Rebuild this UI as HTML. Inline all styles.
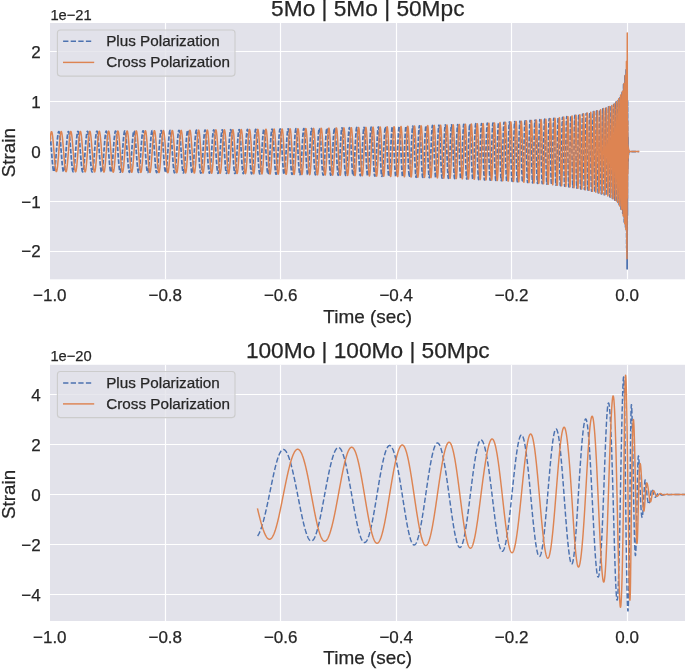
<!DOCTYPE html>
<html lang="en"><head><meta charset="utf-8"><title>Gravitational waveforms</title>
<style>html,body{margin:0;padding:0;background:#fff;}body{width:685px;height:669px;overflow:hidden;}</style></head>
<body>
<svg width="685" height="669" viewBox="0 0 685 669" style="display:block">
<rect width="685" height="669" fill="#ffffff"/>
<defs>
<clipPath id="c1"><rect x="50.0" y="23.0" width="635.0" height="256.3"/></clipPath>
<clipPath id="c2"><rect x="50.0" y="364.8" width="635.0" height="256.2"/></clipPath>
</defs>
<rect x="50.0" y="23.0" width="635.0" height="256.3" fill="#e2e2ea"/>
<path d="M165.50,23.0 V279.3 M280.50,23.0 V279.3 M396.50,23.0 V279.3 M511.50,23.0 V279.3 M627.50,23.0 V279.3 M50.0,251.50 H685.0 M50.0,201.50 H685.0 M50.0,151.50 H685.0 M50.0,101.50 H685.0 M50.0,51.50 H685.0" stroke="#ffffff" stroke-width="1.2" fill="none" clip-path="url(#c1)"/>
<g clip-path="url(#c1)" fill="none" stroke-linejoin="round">
<path d="M50.00,134.83 L50.14,135.89 L50.28,137.07 L50.42,138.37 L50.56,139.79 L50.70,141.30 L50.85,142.90 L50.99,144.57 L51.13,146.30 L51.27,148.08 L51.41,149.88 L51.55,151.70 L51.69,153.52 L51.83,155.33 L51.97,157.10 L52.11,158.83 L52.25,160.49 L52.40,162.09 L52.54,163.59 L52.68,165.00 L52.82,166.30 L52.96,167.47 L53.10,168.51 L53.24,169.41 L53.38,170.16 L53.52,170.75 L53.66,171.19 L53.81,171.46 L53.95,171.57 L54.09,171.51 L54.23,171.28 L54.37,170.89 L54.51,170.33 L54.65,169.62 L54.79,168.76 L54.93,167.76 L55.07,166.62 L55.21,165.35 L55.36,163.97 L55.50,162.48 L55.64,160.90 L55.78,159.25 L55.92,157.53 L56.06,155.75 L56.20,153.95 L56.34,152.12 L56.48,150.29 L56.62,148.47 L56.76,146.68 L56.91,144.92 L57.05,143.23 L57.19,141.60 L57.33,140.05 L57.47,138.61 L57.61,137.27 L57.75,136.05 L57.89,134.96 L58.03,134.01 L58.17,133.21 L58.32,132.57 L58.46,132.08 L58.60,131.76 L58.74,131.60 L58.88,131.62 L59.02,131.80 L59.16,132.14 L59.30,132.66 L59.44,133.33 L59.58,134.15 L59.72,135.13 L59.87,136.24 L60.01,137.48 L60.15,138.84 L60.29,140.31 L60.43,141.87 L60.57,143.52 L60.71,145.24 L60.85,147.01 L60.99,148.81 L61.13,150.65 L61.27,152.49 L61.42,154.32 L61.56,156.13 L61.70,157.91 L61.84,159.63 L61.98,161.28 L62.12,162.85 L62.26,164.33 L62.40,165.70 L62.54,166.95 L62.68,168.07 L62.83,169.05 L62.97,169.88 L63.11,170.56 L63.25,171.08 L63.39,171.44 L63.53,171.62 L63.67,171.64 L63.81,171.49 L63.95,171.17 L64.09,170.68 L64.23,170.03 L64.38,169.23 L64.52,168.27 L64.66,167.18 L64.80,165.95 L64.94,164.60 L65.08,163.13 L65.22,161.57 L65.36,159.93 L65.50,158.21 L65.64,156.44 L65.78,154.63 L65.93,152.79 L66.07,150.94 L66.21,149.09 L66.35,147.27 L66.49,145.48 L66.63,143.74 L66.77,142.07 L66.91,140.49 L67.05,138.99 L67.19,137.60 L67.34,136.33 L67.48,135.19 L67.62,134.19 L67.76,133.34 L67.90,132.65 L68.04,132.11 L68.18,131.74 L68.32,131.54 L68.46,131.51 L68.60,131.65 L68.74,131.97 L68.89,132.45 L69.03,133.09 L69.17,133.89 L69.31,134.84 L69.45,135.94 L69.59,137.17 L69.73,138.52 L69.87,139.99 L70.01,141.55 L70.15,143.20 L70.29,144.93 L70.44,146.71 L70.58,148.53 L70.72,150.38 L70.86,152.24 L71.00,154.09 L71.14,155.93 L71.28,157.73 L71.42,159.47 L71.56,161.15 L71.70,162.75 L71.85,164.25 L71.99,165.64 L72.13,166.92 L72.27,168.06 L72.41,169.06 L72.55,169.92 L72.69,170.61 L72.83,171.15 L72.97,171.51 L73.11,171.71 L73.25,171.73 L73.40,171.58 L73.54,171.26 L73.68,170.77 L73.82,170.11 L73.96,169.30 L74.10,168.33 L74.24,167.22 L74.38,165.98 L74.52,164.61 L74.66,163.13 L74.80,161.55 L74.95,159.88 L75.09,158.14 L75.23,156.35 L75.37,154.51 L75.51,152.65 L75.65,150.78 L75.79,148.92 L75.93,147.08 L76.07,145.27 L76.21,143.52 L76.35,141.85 L76.50,140.25 L76.64,138.75 L76.78,137.36 L76.92,136.10 L77.06,134.97 L77.20,133.98 L77.34,133.14 L77.48,132.46 L77.62,131.95 L77.76,131.61 L77.91,131.44 L78.05,131.44 L78.19,131.62 L78.33,131.97 L78.47,132.49 L78.61,133.17 L78.75,134.02 L78.89,135.01 L79.03,136.15 L79.17,137.43 L79.31,138.82 L79.46,140.33 L79.60,141.94 L79.74,143.63 L79.88,145.39 L80.02,147.20 L80.16,149.05 L80.30,150.93 L80.44,152.81 L80.58,154.68 L80.72,156.52 L80.86,158.32 L81.01,160.07 L81.15,161.74 L81.29,163.32 L81.43,164.81 L81.57,166.17 L81.71,167.42 L81.85,168.52 L81.99,169.48 L82.13,170.28 L82.27,170.92 L82.42,171.40 L82.56,171.70 L82.70,171.82 L82.84,171.78 L82.98,171.55 L83.12,171.15 L83.26,170.59 L83.40,169.85 L83.54,168.96 L83.68,167.92 L83.82,166.73 L83.97,165.41 L84.11,163.97 L84.25,162.43 L84.39,160.79 L84.53,159.07 L84.67,157.28 L84.81,155.44 L84.95,153.57 L85.09,151.68 L85.23,149.79 L85.37,147.92 L85.52,146.08 L85.66,144.28 L85.80,142.55 L85.94,140.90 L86.08,139.34 L86.22,137.89 L86.36,136.55 L86.50,135.35 L86.64,134.29 L86.78,133.38 L86.93,132.63 L87.07,132.04 L87.21,131.63 L87.35,131.39 L87.49,131.33 L87.63,131.44 L87.77,131.73 L87.91,132.20 L88.05,132.84 L88.19,133.63 L88.33,134.59 L88.48,135.70 L88.62,136.94 L88.76,138.32 L88.90,139.81 L89.04,141.41 L89.18,143.09 L89.32,144.85 L89.46,146.67 L89.60,148.53 L89.74,150.42 L89.88,152.32 L90.03,154.22 L90.17,156.09 L90.31,157.93 L90.45,159.70 L90.59,161.41 L90.73,163.03 L90.87,164.56 L91.01,165.96 L91.15,167.25 L91.29,168.39 L91.44,169.39 L91.58,170.23 L91.72,170.91 L91.86,171.42 L92.00,171.75 L92.14,171.91 L92.28,171.88 L92.42,171.68 L92.56,171.30 L92.70,170.75 L92.84,170.03 L92.99,169.15 L93.13,168.11 L93.27,166.92 L93.41,165.60 L93.55,164.16 L93.69,162.60 L93.83,160.95 L93.97,159.22 L94.11,157.41 L94.25,155.56 L94.39,153.67 L94.54,151.76 L94.68,149.85 L94.82,147.95 L94.96,146.09 L95.10,144.28 L95.24,142.52 L95.38,140.85 L95.52,139.28 L95.66,137.81 L95.80,136.46 L95.95,135.25 L96.09,134.18 L96.23,133.27 L96.37,132.52 L96.51,131.93 L96.65,131.52 L96.79,131.29 L96.93,131.24 L97.07,131.37 L97.21,131.68 L97.35,132.17 L97.50,132.82 L97.64,133.65 L97.78,134.63 L97.92,135.77 L98.06,137.04 L98.20,138.45 L98.34,139.97 L98.48,141.60 L98.62,143.31 L98.76,145.10 L98.90,146.95 L99.05,148.84 L99.19,150.76 L99.33,152.68 L99.47,154.59 L99.61,156.48 L99.75,158.32 L99.89,160.11 L100.03,161.82 L100.17,163.44 L100.31,164.95 L100.45,166.35 L100.60,167.61 L100.74,168.73 L100.88,169.70 L101.02,170.51 L101.16,171.15 L101.30,171.61 L101.44,171.90 L101.58,172.01 L101.72,171.93 L101.86,171.67 L102.01,171.24 L102.15,170.62 L102.29,169.84 L102.43,168.90 L102.57,167.80 L102.71,166.55 L102.85,165.17 L102.99,163.67 L103.13,162.06 L103.27,160.36 L103.41,158.58 L103.56,156.73 L103.70,154.84 L103.84,152.92 L103.98,150.99 L104.12,149.06 L104.26,147.15 L104.40,145.29 L104.54,143.48 L104.68,141.74 L104.82,140.09 L104.96,138.54 L105.11,137.11 L105.25,135.81 L105.39,134.65 L105.53,133.65 L105.67,132.80 L105.81,132.12 L105.95,131.62 L106.09,131.29 L106.23,131.15 L106.37,131.20 L106.52,131.42 L106.66,131.83 L106.80,132.41 L106.94,133.17 L107.08,134.09 L107.22,135.18 L107.36,136.40 L107.50,137.77 L107.64,139.26 L107.78,140.86 L107.92,142.56 L108.07,144.35 L108.21,146.19 L108.35,148.09 L108.49,150.02 L108.63,151.96 L108.77,153.90 L108.91,155.82 L109.05,157.70 L109.19,159.53 L109.33,161.29 L109.47,162.96 L109.62,164.52 L109.76,165.98 L109.90,167.30 L110.04,168.48 L110.18,169.51 L110.32,170.37 L110.46,171.07 L110.60,171.59 L110.74,171.93 L110.88,172.09 L111.03,172.06 L111.17,171.85 L111.31,171.45 L111.45,170.87 L111.59,170.12 L111.73,169.20 L111.87,168.12 L112.01,166.90 L112.15,165.53 L112.29,164.03 L112.43,162.43 L112.58,160.72 L112.72,158.93 L112.86,157.08 L113.00,155.17 L113.14,153.23 L113.28,151.28 L113.42,149.33 L113.56,147.40 L113.70,145.50 L113.84,143.66 L113.98,141.90 L114.13,140.22 L114.27,138.64 L114.41,137.18 L114.55,135.85 L114.69,134.67 L114.83,133.64 L114.97,132.77 L115.11,132.07 L115.25,131.55 L115.39,131.22 L115.54,131.06 L115.68,131.10 L115.82,131.32 L115.96,131.73 L116.10,132.32 L116.24,133.08 L116.38,134.01 L116.52,135.10 L116.66,136.35 L116.80,137.73 L116.94,139.24 L117.09,140.87 L117.23,142.59 L117.37,144.39 L117.51,146.26 L117.65,148.18 L117.79,150.14 L117.93,152.10 L118.07,154.06 L118.21,156.00 L118.35,157.90 L118.49,159.74 L118.64,161.51 L118.78,163.19 L118.92,164.76 L119.06,166.21 L119.20,167.53 L119.34,168.71 L119.48,169.72 L119.62,170.58 L119.76,171.25 L119.90,171.75 L120.05,172.06 L120.19,172.19 L120.33,172.13 L120.47,171.88 L120.61,171.44 L120.75,170.82 L120.89,170.02 L121.03,169.06 L121.17,167.93 L121.31,166.66 L121.45,165.24 L121.60,163.70 L121.74,162.05 L121.88,160.30 L122.02,158.47 L122.16,156.58 L122.30,154.64 L122.44,152.67 L122.58,150.70 L122.72,148.73 L122.86,146.78 L123.00,144.88 L123.15,143.05 L123.29,141.29 L123.43,139.62 L123.57,138.06 L123.71,136.63 L123.85,135.34 L123.99,134.20 L124.13,133.21 L124.27,132.40 L124.41,131.76 L124.55,131.31 L124.70,131.04 L124.84,130.96 L124.98,131.07 L125.12,131.38 L125.26,131.87 L125.40,132.54 L125.54,133.39 L125.68,134.40 L125.82,135.58 L125.96,136.90 L126.11,138.36 L126.25,139.95 L126.39,141.64 L126.53,143.42 L126.67,145.28 L126.81,147.20 L126.95,149.16 L127.09,151.15 L127.23,153.13 L127.37,155.11 L127.51,157.05 L127.66,158.94 L127.80,160.77 L127.94,162.51 L128.08,164.15 L128.22,165.67 L128.36,167.06 L128.50,168.31 L128.64,169.41 L128.78,170.34 L128.92,171.10 L129.06,171.67 L129.21,172.06 L129.35,172.26 L129.49,172.27 L129.63,172.08 L129.77,171.71 L129.91,171.14 L130.05,170.40 L130.19,169.48 L130.33,168.39 L130.47,167.15 L130.62,165.76 L130.76,164.24 L130.90,162.60 L131.04,160.86 L131.18,159.03 L131.32,157.14 L131.46,155.19 L131.60,153.20 L131.74,151.20 L131.88,149.21 L132.02,147.23 L132.17,145.30 L132.31,143.42 L132.45,141.62 L132.59,139.92 L132.73,138.32 L132.87,136.84 L133.01,135.51 L133.15,134.32 L133.29,133.29 L133.43,132.44 L133.57,131.76 L133.72,131.27 L133.86,130.97 L134.00,130.87 L134.14,130.95 L134.28,131.23 L134.42,131.70 L134.56,132.36 L134.70,133.20 L134.84,134.21 L134.98,135.38 L135.13,136.71 L135.27,138.17 L135.41,139.77 L135.55,141.47 L135.69,143.27 L135.83,145.15 L135.97,147.09 L136.11,149.07 L136.25,151.07 L136.39,153.08 L136.53,155.08 L136.68,157.05 L136.82,158.96 L136.96,160.81 L137.10,162.57 L137.24,164.23 L137.38,165.77 L137.52,167.17 L137.66,168.43 L137.80,169.53 L137.94,170.47 L138.08,171.22 L138.23,171.79 L138.37,172.18 L138.51,172.36 L138.65,172.35 L138.79,172.15 L138.93,171.75 L139.07,171.16 L139.21,170.39 L139.35,169.44 L139.49,168.32 L139.64,167.05 L139.78,165.62 L139.92,164.07 L140.06,162.39 L140.20,160.62 L140.34,158.75 L140.48,156.82 L140.62,154.84 L140.76,152.83 L140.90,150.81 L141.04,148.79 L141.19,146.80 L141.33,144.86 L141.47,142.98 L141.61,141.17 L141.75,139.47 L141.89,137.88 L142.03,136.42 L142.17,135.11 L142.31,133.95 L142.45,132.96 L142.59,132.14 L142.74,131.51 L142.88,131.07 L143.02,130.82 L143.16,130.77 L143.30,130.92 L143.44,131.27 L143.58,131.81 L143.72,132.53 L143.86,133.44 L144.00,134.52 L144.15,135.76 L144.29,137.16 L144.43,138.69 L144.57,140.34 L144.71,142.11 L144.85,143.96 L144.99,145.89 L145.13,147.87 L145.27,149.88 L145.41,151.92 L145.55,153.95 L145.70,155.96 L145.84,157.93 L145.98,159.84 L146.12,161.67 L146.26,163.40 L146.40,165.03 L146.54,166.52 L146.68,167.88 L146.82,169.07 L146.96,170.11 L147.10,170.96 L147.25,171.63 L147.39,172.11 L147.53,172.40 L147.67,172.48 L147.81,172.37 L147.95,172.05 L148.09,171.54 L148.23,170.84 L148.37,169.96 L148.51,168.90 L148.66,167.67 L148.80,166.29 L148.94,164.77 L149.08,163.12 L149.22,161.37 L149.36,159.51 L149.50,157.58 L149.64,155.60 L149.78,153.57 L149.92,151.53 L150.06,149.48 L150.21,147.46 L150.35,145.47 L150.49,143.54 L150.63,141.69 L150.77,139.94 L150.91,138.29 L151.05,136.78 L151.19,135.40 L151.33,134.18 L151.47,133.13 L151.61,132.25 L151.76,131.56 L151.90,131.07 L152.04,130.77 L152.18,130.67 L152.32,130.77 L152.46,131.08 L152.60,131.58 L152.74,132.27 L152.88,133.15 L153.02,134.21 L153.16,135.44 L153.31,136.82 L153.45,138.35 L153.59,140.00 L153.73,141.77 L153.87,143.63 L154.01,145.57 L154.15,147.56 L154.29,149.60 L154.43,151.66 L154.57,153.72 L154.72,155.75 L154.86,157.75 L155.00,159.69 L155.14,161.55 L155.28,163.32 L155.42,164.97 L155.56,166.49 L155.70,167.87 L155.84,169.09 L155.98,170.15 L156.12,171.02 L156.27,171.71 L156.41,172.20 L156.55,172.49 L156.69,172.58 L156.83,172.47 L156.97,172.15 L157.11,171.63 L157.25,170.92 L157.39,170.03 L157.53,168.95 L157.67,167.70 L157.82,166.30 L157.96,164.75 L158.10,163.08 L158.24,161.29 L158.38,159.41 L158.52,157.46 L158.66,155.44 L158.80,153.39 L158.94,151.32 L159.08,149.25 L159.23,147.21 L159.37,145.20 L159.51,143.26 L159.65,141.40 L159.79,139.64 L159.93,137.99 L160.07,136.48 L160.21,135.11 L160.35,133.90 L160.49,132.87 L160.63,132.02 L160.78,131.36 L160.92,130.89 L161.06,130.63 L161.20,130.58 L161.34,130.72 L161.48,131.08 L161.62,131.63 L161.76,132.38 L161.90,133.31 L162.04,134.43 L162.18,135.71 L162.33,137.15 L162.47,138.74 L162.61,140.44 L162.75,142.26 L162.89,144.17 L163.03,146.15 L163.17,148.19 L163.31,150.26 L163.45,152.34 L163.59,154.42 L163.74,156.47 L163.88,158.47 L164.02,160.41 L164.16,162.26 L164.30,164.01 L164.44,165.63 L164.58,167.12 L164.72,168.45 L164.86,169.62 L165.00,170.62 L165.14,171.42 L165.29,172.04 L165.43,172.45 L165.57,172.66 L165.71,172.65 L165.85,172.45 L165.99,172.03 L166.13,171.42 L166.27,170.61 L166.41,169.61 L166.55,168.44 L166.69,167.10 L166.84,165.61 L166.98,163.97 L167.12,162.22 L167.26,160.36 L167.40,158.41 L167.54,156.40 L167.68,154.34 L167.82,152.25 L167.96,150.15 L168.10,148.07 L168.25,146.02 L168.39,144.02 L168.53,142.10 L168.67,140.28 L168.81,138.56 L168.95,136.98 L169.09,135.53 L169.23,134.25 L169.37,133.14 L169.51,132.21 L169.65,131.47 L169.80,130.93 L169.94,130.60 L170.08,130.47 L170.22,130.55 L170.36,130.84 L170.50,131.34 L170.64,132.04 L170.78,132.93 L170.92,134.01 L171.06,135.26 L171.20,136.68 L171.35,138.24 L171.49,139.94 L171.63,141.75 L171.77,143.66 L171.91,145.65 L172.05,147.70 L172.19,149.79 L172.33,151.90 L172.47,154.01 L172.61,156.09 L172.76,158.13 L172.90,160.10 L173.04,161.99 L173.18,163.78 L173.32,165.44 L173.46,166.97 L173.60,168.35 L173.74,169.56 L173.88,170.59 L174.02,171.43 L174.16,172.07 L174.31,172.51 L174.45,172.75 L174.59,172.77 L174.73,172.58 L174.87,172.18 L175.01,171.57 L175.15,170.76 L175.29,169.77 L175.43,168.59 L175.57,167.24 L175.71,165.73 L175.86,164.08 L176.00,162.31 L176.14,160.43 L176.28,158.46 L176.42,156.42 L176.56,154.34 L176.70,152.22 L176.84,150.10 L176.98,147.99 L177.12,145.92 L177.26,143.90 L177.41,141.96 L177.55,140.12 L177.69,138.39 L177.83,136.79 L177.97,135.35 L178.11,134.06 L178.25,132.95 L178.39,132.03 L178.53,131.30 L178.67,130.78 L178.82,130.47 L178.96,130.36 L179.10,130.48 L179.24,130.80 L179.38,131.34 L179.52,132.07 L179.66,133.01 L179.80,134.13 L179.94,135.43 L180.08,136.89 L180.22,138.50 L180.37,140.24 L180.51,142.10 L180.65,144.06 L180.79,146.09 L180.93,148.17 L181.07,150.30 L181.21,152.43 L181.35,154.56 L181.49,156.66 L181.63,158.71 L181.77,160.68 L181.92,162.57 L182.06,164.34 L182.20,165.99 L182.34,167.49 L182.48,168.83 L182.62,170.00 L182.76,170.98 L182.90,171.77 L183.04,172.35 L183.18,172.72 L183.33,172.88 L183.47,172.82 L183.61,172.55 L183.75,172.07 L183.89,171.38 L184.03,170.48 L184.17,169.40 L184.31,168.13 L184.45,166.70 L184.59,165.11 L184.73,163.39 L184.88,161.54 L185.02,159.60 L185.16,157.57 L185.30,155.48 L185.44,153.35 L185.58,151.20 L185.72,149.06 L185.86,146.94 L186.00,144.87 L186.14,142.86 L186.28,140.95 L186.43,139.14 L186.57,137.46 L186.71,135.92 L186.85,134.54 L186.99,133.33 L187.13,132.31 L187.27,131.49 L187.41,130.87 L187.55,130.47 L187.69,130.27 L187.84,130.30 L187.98,130.54 L188.12,131.00 L188.26,131.67 L188.40,132.54 L188.54,133.61 L188.68,134.86 L188.82,136.29 L188.96,137.87 L189.10,139.59 L189.24,141.43 L189.39,143.38 L189.53,145.41 L189.67,147.51 L189.81,149.65 L189.95,151.81 L190.09,153.97 L190.23,156.11 L190.37,158.20 L190.51,160.22 L190.65,162.15 L190.79,163.98 L190.94,165.68 L191.08,167.24 L191.22,168.63 L191.36,169.86 L191.50,170.89 L191.64,171.73 L191.78,172.36 L191.92,172.78 L192.06,172.98 L192.20,172.96 L192.35,172.72 L192.49,172.26 L192.63,171.59 L192.77,170.71 L192.91,169.64 L193.05,168.38 L193.19,166.95 L193.33,165.36 L193.47,163.63 L193.61,161.77 L193.75,159.81 L193.90,157.76 L194.04,155.65 L194.18,153.50 L194.32,151.32 L194.46,149.15 L194.60,147.00 L194.74,144.90 L194.88,142.87 L195.02,140.93 L195.16,139.10 L195.30,137.39 L195.45,135.84 L195.59,134.44 L195.73,133.22 L195.87,132.19 L196.01,131.37 L196.15,130.75 L196.29,130.35 L196.43,130.16 L196.57,130.20 L196.71,130.46 L196.86,130.94 L197.00,131.64 L197.14,132.54 L197.28,133.64 L197.42,134.93 L197.56,136.39 L197.70,138.00 L197.84,139.76 L197.98,141.65 L198.12,143.63 L198.26,145.70 L198.41,147.84 L198.55,150.01 L198.69,152.20 L198.83,154.38 L198.97,156.54 L199.11,158.64 L199.25,160.67 L199.39,162.61 L199.53,164.43 L199.67,166.12 L199.81,167.66 L199.96,169.04 L200.10,170.23 L200.24,171.23 L200.38,172.02 L200.52,172.60 L200.66,172.96 L200.80,173.10 L200.94,173.02 L201.08,172.71 L201.22,172.18 L201.36,171.43 L201.51,170.48 L201.65,169.33 L201.79,167.99 L201.93,166.49 L202.07,164.82 L202.21,163.02 L202.35,161.10 L202.49,159.08 L202.63,156.98 L202.77,154.82 L202.92,152.63 L203.06,150.42 L203.20,148.23 L203.34,146.07 L203.48,143.97 L203.62,141.95 L203.76,140.03 L203.90,138.23 L204.04,136.57 L204.18,135.07 L204.32,133.74 L204.47,132.60 L204.61,131.66 L204.75,130.92 L204.89,130.41 L205.03,130.12 L205.17,130.05 L205.31,130.21 L205.45,130.59 L205.59,131.20 L205.73,132.02 L205.87,133.04 L206.02,134.27 L206.16,135.67 L206.30,137.24 L206.44,138.97 L206.58,140.83 L206.72,142.80 L206.86,144.87 L207.00,147.01 L207.14,149.19 L207.28,151.41 L207.43,153.62 L207.57,155.82 L207.71,157.97 L207.85,160.06 L207.99,162.05 L208.13,163.94 L208.27,165.69 L208.41,167.30 L208.55,168.74 L208.69,170.00 L208.83,171.07 L208.98,171.93 L209.12,172.58 L209.26,173.00 L209.40,173.20 L209.54,173.17 L209.68,172.90 L209.82,172.42 L209.96,171.71 L210.10,170.79 L210.24,169.66 L210.38,168.35 L210.53,166.85 L210.67,165.19 L210.81,163.39 L210.95,161.46 L211.09,159.43 L211.23,157.31 L211.37,155.13 L211.51,152.92 L211.65,150.68 L211.79,148.46 L211.94,146.27 L212.08,144.14 L212.22,142.08 L212.36,140.13 L212.50,138.29 L212.64,136.60 L212.78,135.07 L212.92,133.72 L213.06,132.55 L213.20,131.59 L213.34,130.84 L213.49,130.31 L213.63,130.01 L213.77,129.94 L213.91,130.10 L214.05,130.49 L214.19,131.10 L214.33,131.94 L214.47,132.99 L214.61,134.23 L214.75,135.66 L214.89,137.27 L215.04,139.02 L215.18,140.91 L215.32,142.92 L215.46,145.02 L215.60,147.19 L215.74,149.41 L215.88,151.66 L216.02,153.90 L216.16,156.12 L216.30,158.29 L216.45,160.39 L216.59,162.40 L216.73,164.29 L216.87,166.05 L217.01,167.65 L217.15,169.08 L217.29,170.32 L217.43,171.36 L217.57,172.19 L217.71,172.79 L217.85,173.17 L218.00,173.32 L218.14,173.24 L218.28,172.92 L218.42,172.37 L218.56,171.60 L218.70,170.61 L218.84,169.41 L218.98,168.03 L219.12,166.46 L219.26,164.74 L219.40,162.87 L219.55,160.88 L219.69,158.79 L219.83,156.63 L219.97,154.40 L220.11,152.15 L220.25,149.89 L220.39,147.65 L220.53,145.45 L220.67,143.31 L220.81,141.27 L220.96,139.33 L221.10,137.53 L221.24,135.88 L221.38,134.40 L221.52,133.10 L221.66,132.01 L221.80,131.12 L221.94,130.46 L222.08,130.03 L222.22,129.83 L222.36,129.87 L222.51,130.14 L222.65,130.65 L222.79,131.38 L222.93,132.34 L223.07,133.50 L223.21,134.86 L223.35,136.40 L223.49,138.11 L223.63,139.97 L223.77,141.95 L223.91,144.04 L224.06,146.21 L224.20,148.44 L224.34,150.71 L224.48,152.98 L224.62,155.24 L224.76,157.47 L224.90,159.63 L225.04,161.70 L225.18,163.66 L225.32,165.49 L225.46,167.17 L225.61,168.69 L225.75,170.01 L225.89,171.14 L226.03,172.05 L226.17,172.74 L226.31,173.19 L226.45,173.42 L226.59,173.40 L226.73,173.14 L226.87,172.65 L227.02,171.93 L227.16,170.99 L227.30,169.83 L227.44,168.47 L227.58,166.93 L227.72,165.22 L227.86,163.36 L228.00,161.37 L228.14,159.27 L228.28,157.09 L228.42,154.85 L228.57,152.57 L228.71,150.28 L228.85,148.00 L228.99,145.76 L229.13,143.59 L229.27,141.50 L229.41,139.52 L229.55,137.68 L229.69,135.98 L229.83,134.46 L229.97,133.13 L230.12,132.00 L230.26,131.09 L230.40,130.40 L230.54,129.94 L230.68,129.72 L230.82,129.75 L230.96,130.01 L231.10,130.51 L231.24,131.25 L231.38,132.21 L231.53,133.38 L231.67,134.76 L231.81,136.32 L231.95,138.05 L232.09,139.94 L232.23,141.95 L232.37,144.07 L232.51,146.27 L232.65,148.53 L232.79,150.83 L232.93,153.13 L233.08,155.42 L233.22,157.67 L233.36,159.85 L233.50,161.94 L233.64,163.92 L233.78,165.76 L233.92,167.45 L234.06,168.96 L234.20,170.27 L234.34,171.38 L234.48,172.28 L234.63,172.94 L234.77,173.36 L234.91,173.55 L235.05,173.49 L235.19,173.18 L235.33,172.64 L235.47,171.86 L235.61,170.86 L235.75,169.64 L235.89,168.22 L236.04,166.62 L236.18,164.85 L236.32,162.93 L236.46,160.88 L236.60,158.73 L236.74,156.50 L236.88,154.21 L237.02,151.90 L237.16,149.57 L237.30,147.28 L237.44,145.03 L237.59,142.85 L237.73,140.77 L237.87,138.81 L238.01,136.99 L238.15,135.33 L238.29,133.86 L238.43,132.58 L238.57,131.52 L238.71,130.68 L238.85,130.07 L238.99,129.71 L239.14,129.59 L239.28,129.71 L239.42,130.08 L239.56,130.70 L239.70,131.55 L239.84,132.62 L239.98,133.90 L240.12,135.39 L240.26,137.06 L240.40,138.89 L240.55,140.86 L240.69,142.96 L240.83,145.15 L240.97,147.42 L241.11,149.73 L241.25,152.07 L241.39,154.40 L241.53,156.70 L241.67,158.94 L241.81,161.11 L241.95,163.16 L242.10,165.09 L242.24,166.86 L242.38,168.47 L242.52,169.88 L242.66,171.09 L242.80,172.08 L242.94,172.84 L243.08,173.36 L243.22,173.63 L243.36,173.65 L243.50,173.43 L243.65,172.96 L243.79,172.25 L243.93,171.30 L244.07,170.13 L244.21,168.75 L244.35,167.18 L244.49,165.43 L244.63,163.52 L244.77,161.48 L244.91,159.32 L245.06,157.08 L245.20,154.77 L245.34,152.43 L245.48,150.08 L245.62,147.74 L245.76,145.45 L245.90,143.22 L246.04,141.09 L246.18,139.08 L246.32,137.21 L246.46,135.50 L246.61,133.98 L246.75,132.65 L246.89,131.54 L247.03,130.66 L247.17,130.02 L247.31,129.62 L247.45,129.47 L247.59,129.57 L247.73,129.92 L247.87,130.52 L248.01,131.37 L248.16,132.44 L248.30,133.73 L248.44,135.22 L248.58,136.90 L248.72,138.76 L248.86,140.75 L249.00,142.87 L249.14,145.10 L249.28,147.39 L249.42,149.74 L249.56,152.11 L249.71,154.47 L249.85,156.80 L249.99,159.07 L250.13,161.26 L250.27,163.34 L250.41,165.28 L250.55,167.07 L250.69,168.68 L250.83,170.10 L250.97,171.30 L251.12,172.28 L251.26,173.02 L251.40,173.52 L251.54,173.77 L251.68,173.76 L251.82,173.49 L251.96,172.98 L252.10,172.22 L252.24,171.22 L252.38,170.00 L252.52,168.56 L252.67,166.93 L252.81,165.12 L252.95,163.16 L253.09,161.06 L253.23,158.85 L253.37,156.56 L253.51,154.21 L253.65,151.83 L253.79,149.45 L253.93,147.09 L254.07,144.78 L254.22,142.55 L254.36,140.42 L254.50,138.42 L254.64,136.58 L254.78,134.90 L254.92,133.42 L255.06,132.15 L255.20,131.10 L255.34,130.29 L255.48,129.72 L255.63,129.41 L255.77,129.36 L255.91,129.56 L256.05,130.01 L256.19,130.72 L256.33,131.67 L256.47,132.85 L256.61,134.25 L256.75,135.85 L256.89,137.63 L257.03,139.58 L257.18,141.66 L257.32,143.86 L257.46,146.16 L257.60,148.51 L257.74,150.91 L257.88,153.31 L258.02,155.69 L258.16,158.03 L258.30,160.29 L258.44,162.45 L258.58,164.49 L258.73,166.37 L258.87,168.09 L259.01,169.61 L259.15,170.93 L259.29,172.02 L259.43,172.87 L259.57,173.47 L259.71,173.82 L259.85,173.91 L259.99,173.74 L260.14,173.32 L260.28,172.63 L260.42,171.71 L260.56,170.54 L260.70,169.16 L260.84,167.57 L260.98,165.79 L261.12,163.84 L261.26,161.76 L261.40,159.55 L261.54,157.25 L261.69,154.88 L261.83,152.47 L261.97,150.05 L262.11,147.65 L262.25,145.29 L262.39,143.01 L262.53,140.83 L262.67,138.77 L262.81,136.86 L262.95,135.13 L263.09,133.59 L263.24,132.25 L263.38,131.15 L263.52,130.29 L263.66,129.67 L263.80,129.32 L263.94,129.22 L264.08,129.39 L264.22,129.82 L264.36,130.51 L264.50,131.45 L264.65,132.62 L264.79,134.02 L264.93,135.62 L265.07,137.42 L265.21,139.38 L265.35,141.49 L265.49,143.72 L265.63,146.04 L265.77,148.42 L265.91,150.85 L266.05,153.29 L266.20,155.70 L266.34,158.07 L266.48,160.37 L266.62,162.56 L266.76,164.62 L266.90,166.52 L267.04,168.26 L267.18,169.79 L267.32,171.11 L267.46,172.20 L267.60,173.05 L267.75,173.64 L267.89,173.97 L268.03,174.03 L268.17,173.83 L268.31,173.37 L268.45,172.64 L268.59,171.67 L268.73,170.46 L268.87,169.02 L269.01,167.37 L269.16,165.54 L269.30,163.54 L269.44,161.40 L269.58,159.14 L269.72,156.79 L269.86,154.38 L270.00,151.93 L270.14,149.48 L270.28,147.05 L270.42,144.68 L270.56,142.38 L270.71,140.20 L270.85,138.15 L270.99,136.27 L271.13,134.56 L271.27,133.06 L271.41,131.78 L271.55,130.73 L271.69,129.94 L271.83,129.40 L271.97,129.13 L272.11,129.13 L272.26,129.39 L272.40,129.93 L272.54,130.72 L272.68,131.76 L272.82,133.04 L272.96,134.54 L273.10,136.25 L273.24,138.15 L273.38,140.20 L273.52,142.40 L273.66,144.70 L273.81,147.09 L273.95,149.53 L274.09,152.00 L274.23,154.46 L274.37,156.90 L274.51,159.26 L274.65,161.54 L274.79,163.70 L274.93,165.71 L275.07,167.56 L275.22,169.21 L275.36,170.65 L275.50,171.86 L275.64,172.83 L275.78,173.54 L275.92,173.99 L276.06,174.17 L276.20,174.07 L276.34,173.71 L276.48,173.07 L276.62,172.18 L276.77,171.04 L276.91,169.66 L277.05,168.07 L277.19,166.27 L277.33,164.30 L277.47,162.17 L277.61,159.91 L277.75,157.55 L277.89,155.12 L278.03,152.65 L278.17,150.16 L278.32,147.68 L278.46,145.26 L278.60,142.91 L278.74,140.67 L278.88,138.55 L279.02,136.60 L279.16,134.82 L279.30,133.25 L279.44,131.91 L279.58,130.80 L279.73,129.94 L279.87,129.35 L280.01,129.03 L280.15,128.98 L280.29,129.21 L280.43,129.71 L280.57,130.48 L280.71,131.50 L280.85,132.77 L280.99,134.27 L281.13,135.98 L281.28,137.89 L281.42,139.96 L281.56,142.18 L281.70,144.51 L281.84,146.92 L281.98,149.40 L282.12,151.90 L282.26,154.41 L282.40,156.87 L282.54,159.28 L282.68,161.59 L282.83,163.78 L282.97,165.82 L283.11,167.69 L283.25,169.36 L283.39,170.81 L283.53,172.03 L283.67,173.00 L283.81,173.71 L283.95,174.14 L284.09,174.30 L284.24,174.18 L284.38,173.78 L284.52,173.11 L284.66,172.18 L284.80,170.99 L284.94,169.56 L285.08,167.91 L285.22,166.06 L285.36,164.04 L285.50,161.85 L285.64,159.54 L285.79,157.13 L285.93,154.66 L286.07,152.14 L286.21,149.62 L286.35,147.12 L286.49,144.67 L286.63,142.31 L286.77,140.06 L286.91,137.96 L287.05,136.02 L287.19,134.27 L287.34,132.74 L287.48,131.44 L287.62,130.39 L287.76,129.60 L287.90,129.09 L288.04,128.85 L288.18,128.89 L288.32,129.22 L288.46,129.82 L288.60,130.70 L288.75,131.83 L288.89,133.21 L289.03,134.81 L289.17,136.63 L289.31,138.63 L289.45,140.80 L289.59,143.10 L289.73,145.50 L289.87,147.99 L290.01,150.52 L290.15,153.06 L290.30,155.59 L290.44,158.06 L290.58,160.46 L290.72,162.75 L290.86,164.90 L291.00,166.88 L291.14,168.68 L291.28,170.26 L291.42,171.61 L291.56,172.71 L291.70,173.55 L291.85,174.12 L291.99,174.40 L292.13,174.40 L292.27,174.11 L292.41,173.54 L292.55,172.70 L292.69,171.59 L292.83,170.23 L292.97,168.64 L293.11,166.84 L293.26,164.84 L293.40,162.67 L293.54,160.37 L293.68,157.96 L293.82,155.46 L293.96,152.92 L294.10,150.35 L294.24,147.81 L294.38,145.31 L294.52,142.88 L294.66,140.57 L294.81,138.39 L294.95,136.38 L295.09,134.56 L295.23,132.96 L295.37,131.58 L295.51,130.46 L295.65,129.61 L295.79,129.03 L295.93,128.74 L296.07,128.73 L296.21,129.01 L296.36,129.58 L296.50,130.43 L296.64,131.54 L296.78,132.91 L296.92,134.51 L297.06,136.33 L297.20,138.35 L297.34,140.53 L297.48,142.85 L297.62,145.29 L297.77,147.80 L297.91,150.37 L298.05,152.95 L298.19,155.52 L298.33,158.03 L298.47,160.47 L298.61,162.79 L298.75,164.97 L298.89,166.99 L299.03,168.81 L299.17,170.41 L299.32,171.77 L299.46,172.88 L299.60,173.72 L299.74,174.28 L299.88,174.54 L300.02,174.52 L300.16,174.21 L300.30,173.60 L300.44,172.72 L300.58,171.57 L300.72,170.16 L300.87,168.51 L301.01,166.65 L301.15,164.60 L301.29,162.38 L301.43,160.02 L301.57,157.55 L301.71,155.01 L301.85,152.42 L301.99,149.82 L302.13,147.24 L302.27,144.72 L302.42,142.28 L302.56,139.96 L302.70,137.79 L302.84,135.80 L302.98,134.01 L303.12,132.44 L303.26,131.12 L303.40,130.06 L303.54,129.27 L303.68,128.77 L303.83,128.57 L303.97,128.66 L304.11,129.04 L304.25,129.72 L304.39,130.67 L304.53,131.90 L304.67,133.38 L304.81,135.09 L304.95,137.02 L305.09,139.13 L305.23,141.41 L305.38,143.82 L305.52,146.33 L305.66,148.91 L305.80,151.52 L305.94,154.14 L306.08,156.73 L306.22,159.25 L306.36,161.67 L306.50,163.96 L306.64,166.10 L306.78,168.04 L306.93,169.78 L307.07,171.28 L307.21,172.53 L307.35,173.51 L307.49,174.20 L307.63,174.60 L307.77,174.71 L307.91,174.51 L308.05,174.02 L308.19,173.23 L308.34,172.17 L308.48,170.84 L308.62,169.26 L308.76,167.45 L308.90,165.43 L309.04,163.23 L309.18,160.88 L309.32,158.41 L309.46,155.85 L309.60,153.23 L309.74,150.59 L309.89,147.96 L310.03,145.38 L310.17,142.88 L310.31,140.49 L310.45,138.24 L310.59,136.17 L310.73,134.30 L310.87,132.66 L311.01,131.26 L311.15,130.12 L311.29,129.27 L311.44,128.70 L311.58,128.44 L311.72,128.48 L311.86,128.82 L312.00,129.46 L312.14,130.39 L312.28,131.60 L312.42,133.07 L312.56,134.78 L312.70,136.71 L312.85,138.84 L312.99,141.14 L313.13,143.58 L313.27,146.12 L313.41,148.74 L313.55,151.39 L313.69,154.05 L313.83,156.67 L313.97,159.24 L314.11,161.70 L314.25,164.03 L314.40,166.19 L314.54,168.17 L314.68,169.93 L314.82,171.45 L314.96,172.70 L315.10,173.68 L315.24,174.37 L315.38,174.76 L315.52,174.84 L315.66,174.62 L315.80,174.09 L315.95,173.27 L316.09,172.16 L316.23,170.77 L316.37,169.14 L316.51,167.27 L316.65,165.19 L316.79,162.93 L316.93,160.52 L317.07,157.99 L317.21,155.38 L317.36,152.71 L317.50,150.03 L317.64,147.37 L317.78,144.76 L317.92,142.25 L318.06,139.85 L318.20,137.62 L318.34,135.56 L318.48,133.72 L318.62,132.12 L318.76,130.77 L318.91,129.70 L319.05,128.92 L319.19,128.45 L319.33,128.28 L319.47,128.42 L319.61,128.87 L319.75,129.62 L319.89,130.67 L320.03,132.00 L320.17,133.59 L320.31,135.42 L320.46,137.46 L320.60,139.70 L320.74,142.09 L320.88,144.62 L321.02,147.24 L321.16,149.92 L321.30,152.62 L321.44,155.31 L321.58,157.95 L321.72,160.50 L321.87,162.94 L322.01,165.23 L322.15,167.33 L322.29,169.23 L322.43,170.89 L322.57,172.29 L322.71,173.41 L322.85,174.25 L322.99,174.77 L323.13,174.99 L323.27,174.89 L323.42,174.48 L323.56,173.76 L323.70,172.75 L323.84,171.44 L323.98,169.87 L324.12,168.05 L324.26,166.01 L324.40,163.78 L324.54,161.38 L324.68,158.85 L324.82,156.22 L324.97,153.52 L325.11,150.80 L325.25,148.09 L325.39,145.42 L325.53,142.84 L325.67,140.37 L325.81,138.05 L325.95,135.92 L326.09,134.00 L326.23,132.32 L326.37,130.89 L326.52,129.75 L326.66,128.90 L326.80,128.36 L326.94,128.14 L327.08,128.23 L327.22,128.64 L327.36,129.36 L327.50,130.39 L327.64,131.70 L327.78,133.29 L327.93,135.12 L328.07,137.18 L328.21,139.44 L328.35,141.86 L328.49,144.42 L328.63,147.07 L328.77,149.79 L328.91,152.53 L329.05,155.27 L329.19,157.95 L329.33,160.55 L329.48,163.02 L329.62,165.35 L329.76,167.48 L329.90,169.40 L330.04,171.08 L330.18,172.49 L330.32,173.61 L330.46,174.44 L330.60,174.95 L330.74,175.14 L330.88,175.01 L331.03,174.56 L331.17,173.80 L331.31,172.73 L331.45,171.37 L331.59,169.73 L331.73,167.85 L331.87,165.75 L332.01,163.44 L332.15,160.98 L332.29,158.38 L332.44,155.69 L332.58,152.95 L332.72,150.18 L332.86,147.43 L333.00,144.74 L333.14,142.14 L333.28,139.67 L333.42,137.37 L333.56,135.26 L333.70,133.37 L333.84,131.73 L333.99,130.37 L334.13,129.30 L334.27,128.54 L334.41,128.10 L334.55,127.98 L334.69,128.19 L334.83,128.72 L334.97,129.57 L335.11,130.73 L335.25,132.17 L335.39,133.89 L335.54,135.85 L335.68,138.03 L335.82,140.40 L335.96,142.92 L336.10,145.57 L336.24,148.30 L336.38,151.08 L336.52,153.87 L336.66,156.63 L336.80,159.32 L336.95,161.90 L337.09,164.34 L337.23,166.60 L337.37,168.66 L337.51,170.48 L337.65,172.03 L337.79,173.30 L337.93,174.27 L338.07,174.93 L338.21,175.26 L338.35,175.25 L338.50,174.92 L338.64,174.26 L338.78,173.29 L338.92,172.01 L339.06,170.44 L339.20,168.61 L339.34,166.55 L339.48,164.27 L339.62,161.81 L339.76,159.21 L339.90,156.50 L340.05,153.72 L340.19,150.91 L340.33,148.11 L340.47,145.36 L340.61,142.69 L340.75,140.15 L340.89,137.76 L341.03,135.57 L341.17,133.61 L341.31,131.89 L341.46,130.46 L341.60,129.32 L341.74,128.49 L341.88,127.99 L342.02,127.83 L342.16,127.99 L342.30,128.50 L342.44,129.32 L342.58,130.46 L342.72,131.91 L342.86,133.63 L343.01,135.60 L343.15,137.80 L343.29,140.20 L343.43,142.76 L343.57,145.45 L343.71,148.22 L343.85,151.05 L343.99,153.88 L344.13,156.68 L344.27,159.41 L344.41,162.03 L344.56,164.51 L344.70,166.80 L344.84,168.88 L344.98,170.71 L345.12,172.27 L345.26,173.54 L345.40,174.50 L345.54,175.13 L345.68,175.43 L345.82,175.38 L345.97,175.00 L346.11,174.29 L346.25,173.25 L346.39,171.90 L346.53,170.26 L346.67,168.36 L346.81,166.21 L346.95,163.86 L347.09,161.33 L347.23,158.66 L347.37,155.88 L347.52,153.05 L347.66,150.19 L347.80,147.35 L347.94,144.57 L348.08,141.89 L348.22,139.35 L348.36,136.98 L348.50,134.82 L348.64,132.90 L348.78,131.25 L348.92,129.89 L349.07,128.84 L349.21,128.12 L349.35,127.74 L349.49,127.69 L349.63,128.00 L349.77,128.64 L349.91,129.61 L350.05,130.90 L350.19,132.49 L350.33,134.35 L350.47,136.47 L350.62,138.80 L350.76,141.32 L350.90,143.99 L351.04,146.77 L351.18,149.62 L351.32,152.50 L351.46,155.37 L351.60,158.19 L351.74,160.91 L351.88,163.50 L352.03,165.91 L352.17,168.12 L352.31,170.10 L352.45,171.80 L352.59,173.21 L352.73,174.31 L352.87,175.08 L353.01,175.51 L353.15,175.60 L353.29,175.33 L353.43,174.72 L353.58,173.77 L353.72,172.50 L353.86,170.93 L354.00,169.07 L354.14,166.96 L354.28,164.62 L354.42,162.09 L354.56,159.41 L354.70,156.62 L354.84,153.74 L354.98,150.84 L355.13,147.94 L355.27,145.10 L355.41,142.35 L355.55,139.74 L355.69,137.30 L355.83,135.06 L355.97,133.07 L356.11,131.35 L356.25,129.92 L356.39,128.81 L356.54,128.03 L356.68,127.60 L356.82,127.52 L356.96,127.80 L357.10,128.42 L357.24,129.39 L357.38,130.68 L357.52,132.28 L357.66,134.16 L357.80,136.30 L357.94,138.67 L358.09,141.23 L358.23,143.95 L358.37,146.77 L358.51,149.67 L358.65,152.60 L358.79,155.52 L358.93,158.38 L359.07,161.14 L359.21,163.76 L359.35,166.20 L359.49,168.43 L359.64,170.41 L359.78,172.11 L359.92,173.51 L360.06,174.59 L360.20,175.33 L360.34,175.71 L360.48,175.74 L360.62,175.41 L360.76,174.73 L360.90,173.70 L361.05,172.34 L361.19,170.68 L361.33,168.73 L361.47,166.53 L361.61,164.10 L361.75,161.49 L361.89,158.72 L362.03,155.85 L362.17,152.92 L362.31,149.96 L362.45,147.03 L362.60,144.17 L362.74,141.41 L362.88,138.81 L363.02,136.39 L363.16,134.20 L363.30,132.27 L363.44,130.63 L363.58,129.30 L363.72,128.30 L363.86,127.65 L364.00,127.36 L364.15,127.43 L364.29,127.87 L364.43,128.66 L364.57,129.79 L364.71,131.26 L364.85,133.02 L364.99,135.07 L365.13,137.37 L365.27,139.88 L365.41,142.57 L365.56,145.40 L365.70,148.32 L365.84,151.29 L365.98,154.27 L366.12,157.21 L366.26,160.06 L366.40,162.79 L366.54,165.36 L366.68,167.71 L366.82,169.83 L366.96,171.67 L367.11,173.20 L367.25,174.41 L367.39,175.28 L367.53,175.79 L367.67,175.94 L367.81,175.71 L367.95,175.12 L368.09,174.18 L368.23,172.89 L368.37,171.28 L368.51,169.37 L368.66,167.19 L368.80,164.77 L368.94,162.15 L369.08,159.36 L369.22,156.46 L369.36,153.49 L369.50,150.48 L369.64,147.49 L369.78,144.56 L369.92,141.74 L370.07,139.06 L370.21,136.58 L370.35,134.32 L370.49,132.33 L370.63,130.63 L370.77,129.24 L370.91,128.20 L371.05,127.52 L371.19,127.20 L371.33,127.26 L371.47,127.68 L371.62,128.48 L371.76,129.63 L371.90,131.11 L372.04,132.91 L372.18,135.00 L372.32,137.35 L372.46,139.91 L372.60,142.65 L372.74,145.53 L372.88,148.51 L373.02,151.54 L373.17,154.57 L373.31,157.55 L373.45,160.44 L373.59,163.20 L373.73,165.79 L373.87,168.15 L374.01,170.26 L374.15,172.09 L374.29,173.59 L374.43,174.77 L374.57,175.58 L374.72,176.02 L374.86,176.09 L375.00,175.78 L375.14,175.09 L375.28,174.04 L375.42,172.64 L375.56,170.92 L375.70,168.90 L375.84,166.60 L375.98,164.08 L376.13,161.36 L376.27,158.48 L376.41,155.50 L376.55,152.46 L376.69,149.40 L376.83,146.37 L376.97,143.42 L377.11,140.60 L377.25,137.95 L377.39,135.51 L377.53,133.32 L377.68,131.42 L377.82,129.82 L377.96,128.57 L378.10,127.67 L378.24,127.15 L378.38,127.01 L378.52,127.25 L378.66,127.87 L378.80,128.87 L378.94,130.22 L379.08,131.90 L379.23,133.90 L379.37,136.17 L379.51,138.69 L379.65,141.41 L379.79,144.29 L379.93,147.28 L380.07,150.35 L380.21,153.44 L380.35,156.50 L380.49,159.48 L380.64,162.34 L380.78,165.04 L380.92,167.52 L381.06,169.76 L381.20,171.71 L381.34,173.34 L381.48,174.63 L381.62,175.56 L381.76,176.12 L381.90,176.28 L382.04,176.06 L382.19,175.45 L382.33,174.46 L382.47,173.11 L382.61,171.42 L382.75,169.42 L382.89,167.13 L383.03,164.60 L383.17,161.86 L383.31,158.95 L383.45,155.93 L383.59,152.83 L383.74,149.72 L383.88,146.63 L384.02,143.62 L384.16,140.74 L384.30,138.03 L384.44,135.53 L384.58,133.29 L384.72,131.33 L384.86,129.70 L385.00,128.42 L385.15,127.50 L385.29,126.97 L385.43,126.83 L385.57,127.09 L385.71,127.74 L385.85,128.77 L385.99,130.16 L386.13,131.90 L386.27,133.95 L386.41,136.29 L386.55,138.87 L386.70,141.66 L386.84,144.61 L386.98,147.68 L387.12,150.80 L387.26,153.95 L387.40,157.05 L387.54,160.07 L387.68,162.96 L387.82,165.66 L387.96,168.14 L388.10,170.36 L388.25,172.27 L388.39,173.85 L388.53,175.08 L388.67,175.92 L388.81,176.38 L388.95,176.44 L389.09,176.09 L389.23,175.35 L389.37,174.23 L389.51,172.74 L389.66,170.91 L389.80,168.76 L389.94,166.34 L390.08,163.67 L390.22,160.81 L390.36,157.80 L390.50,154.69 L390.64,151.52 L390.78,148.36 L390.92,145.24 L391.06,142.23 L391.21,139.37 L391.35,136.70 L391.49,134.28 L391.63,132.13 L391.77,130.30 L391.91,128.82 L392.05,127.71 L392.19,126.99 L392.33,126.66 L392.47,126.75 L392.61,127.24 L392.76,128.12 L392.90,129.39 L393.04,131.03 L393.18,133.00 L393.32,135.28 L393.46,137.82 L393.60,140.59 L393.74,143.55 L393.88,146.63 L394.02,149.80 L394.17,153.00 L394.31,156.18 L394.45,159.29 L394.59,162.27 L394.73,165.08 L394.87,167.67 L395.01,169.99 L395.15,172.01 L395.29,173.70 L395.43,175.03 L395.57,175.97 L395.72,176.51 L395.86,176.64 L396.00,176.36 L396.14,175.66 L396.28,174.57 L396.42,173.10 L396.56,171.28 L396.70,169.13 L396.84,166.68 L396.98,163.99 L397.12,161.09 L397.27,158.03 L397.41,154.86 L397.55,151.64 L397.69,148.41 L397.83,145.24 L397.97,142.17 L398.11,139.25 L398.25,136.54 L398.39,134.08 L398.53,131.91 L398.67,130.06 L398.82,128.57 L398.96,127.46 L399.10,126.76 L399.24,126.47 L399.38,126.60 L399.52,127.14 L399.66,128.09 L399.80,129.44 L399.94,131.16 L400.08,133.22 L400.23,135.59 L400.37,138.22 L400.51,141.09 L400.65,144.13 L400.79,147.30 L400.93,150.54 L401.07,153.80 L401.21,157.02 L401.35,160.16 L401.49,163.15 L401.63,165.96 L401.78,168.52 L401.92,170.80 L402.06,172.75 L402.20,174.36 L402.34,175.58 L402.48,176.39 L402.62,176.79 L402.76,176.77 L402.90,176.32 L403.04,175.45 L403.18,174.18 L403.33,172.53 L403.47,170.52 L403.61,168.19 L403.75,165.58 L403.89,162.73 L404.03,159.70 L404.17,156.52 L404.31,153.26 L404.45,149.96 L404.59,146.70 L404.74,143.51 L404.88,140.46 L405.02,137.60 L405.16,134.98 L405.30,132.63 L405.44,130.61 L405.58,128.94 L405.72,127.66 L405.86,126.79 L406.00,126.33 L406.14,126.31 L406.29,126.72 L406.43,127.56 L406.57,128.80 L406.71,130.44 L406.85,132.44 L406.99,134.77 L407.13,137.38 L407.27,140.25 L407.41,143.30 L407.55,146.51 L407.69,149.80 L407.84,153.12 L407.98,156.42 L408.12,159.64 L408.26,162.72 L408.40,165.61 L408.54,168.27 L408.68,170.64 L408.82,172.68 L408.96,174.36 L409.10,175.65 L409.25,176.52 L409.39,176.97 L409.53,176.98 L409.67,176.55 L409.81,175.69 L409.95,174.41 L410.09,172.74 L410.23,170.70 L410.37,168.33 L410.51,165.67 L410.65,162.76 L410.80,159.66 L410.94,156.42 L411.08,153.09 L411.22,149.73 L411.36,146.41 L411.50,143.17 L411.64,140.08 L411.78,137.18 L411.92,134.54 L412.06,132.19 L412.20,130.18 L412.35,128.54 L412.49,127.30 L412.63,126.48 L412.77,126.10 L412.91,126.17 L413.05,126.68 L413.19,127.62 L413.33,128.99 L413.47,130.75 L413.61,132.88 L413.76,135.34 L413.90,138.08 L414.04,141.06 L414.18,144.23 L414.32,147.53 L414.46,150.90 L414.60,154.29 L414.74,157.63 L414.88,160.87 L415.02,163.94 L415.16,166.80 L415.31,169.40 L415.45,171.68 L415.59,173.61 L415.73,175.16 L415.87,176.29 L416.01,176.98 L416.15,177.23 L416.29,177.02 L416.43,176.37 L416.57,175.27 L416.71,173.76 L416.86,171.85 L417.00,169.59 L417.14,167.00 L417.28,164.14 L417.42,161.06 L417.56,157.80 L417.70,154.44 L417.84,151.02 L417.98,147.61 L418.12,144.27 L418.27,141.05 L418.41,138.03 L418.55,135.24 L418.69,132.74 L418.83,130.58 L418.97,128.79 L419.11,127.41 L419.25,126.46 L419.39,125.95 L419.53,125.91 L419.67,126.32 L419.82,127.19 L419.96,128.49 L420.10,130.21 L420.24,132.31 L420.38,134.76 L420.52,137.51 L420.66,140.52 L420.80,143.73 L420.94,147.08 L421.08,150.51 L421.22,153.97 L421.37,157.39 L421.51,160.70 L421.65,163.85 L421.79,166.78 L421.93,169.44 L422.07,171.78 L422.21,173.76 L422.35,175.34 L422.49,176.49 L422.63,177.19 L422.77,177.43 L422.92,177.20 L423.06,176.51 L423.20,175.37 L423.34,173.80 L423.48,171.82 L423.62,169.47 L423.76,166.80 L423.90,163.85 L424.04,160.68 L424.18,157.34 L424.33,153.89 L424.47,150.40 L424.61,146.93 L424.75,143.55 L424.89,140.30 L425.03,137.26 L425.17,134.48 L425.31,132.02 L425.45,129.90 L425.59,128.19 L425.73,126.90 L425.88,126.06 L426.02,125.68 L426.16,125.78 L426.30,126.36 L426.44,127.40 L426.58,128.88 L426.72,130.78 L426.86,133.06 L427.00,135.69 L427.14,138.60 L427.28,141.76 L427.43,145.11 L427.57,148.57 L427.71,152.09 L427.85,155.61 L427.99,159.05 L428.13,162.36 L428.27,165.47 L428.41,168.33 L428.55,170.88 L428.69,173.07 L428.84,174.87 L428.98,176.24 L429.12,177.16 L429.26,177.60 L429.40,177.56 L429.54,177.04 L429.68,176.05 L429.82,174.60 L429.96,172.72 L430.10,170.46 L430.24,167.83 L430.39,164.91 L430.53,161.74 L430.67,158.37 L430.81,154.88 L430.95,151.32 L431.09,147.77 L431.23,144.29 L431.37,140.94 L431.51,137.78 L431.65,134.89 L431.79,132.30 L431.94,130.08 L432.08,128.25 L432.22,126.86 L432.36,125.94 L432.50,125.49 L432.64,125.54 L432.78,126.07 L432.92,127.08 L433.06,128.56 L433.20,130.47 L433.35,132.78 L433.49,135.44 L433.63,138.41 L433.77,141.63 L433.91,145.04 L434.05,148.57 L434.19,152.17 L434.33,155.76 L434.47,159.27 L434.61,162.64 L434.75,165.80 L434.90,168.69 L435.04,171.26 L435.18,173.47 L435.32,175.26 L435.46,176.60 L435.60,177.46 L435.74,177.84 L435.88,177.72 L436.02,177.10 L436.16,176.00 L436.30,174.43 L436.45,172.43 L436.59,170.03 L436.73,167.27 L436.87,164.22 L437.01,160.92 L437.15,157.44 L437.29,153.85 L437.43,150.21 L437.57,146.60 L437.71,143.08 L437.86,139.72 L438.00,136.59 L438.14,133.74 L438.28,131.23 L438.42,129.12 L438.56,127.43 L438.70,126.20 L438.84,125.47 L438.98,125.23 L439.12,125.50 L439.26,126.28 L439.41,127.54 L439.55,129.27 L439.69,131.43 L439.83,133.98 L439.97,136.87 L440.11,140.05 L440.25,143.45 L440.39,147.02 L440.53,150.67 L440.67,154.35 L440.81,157.97 L440.96,161.47 L441.10,164.79 L441.24,167.85 L441.38,170.59 L441.52,172.97 L441.66,174.94 L441.80,176.45 L441.94,177.48 L442.08,178.01 L442.22,178.02 L442.37,177.52 L442.51,176.51 L442.65,175.02 L442.79,173.07 L442.93,170.69 L443.07,167.94 L443.21,164.87 L443.35,161.54 L443.49,158.01 L443.63,154.36 L443.77,150.64 L443.92,146.95 L444.06,143.34 L444.20,139.89 L444.34,136.67 L444.48,133.74 L444.62,131.16 L444.76,128.98 L444.90,127.25 L445.04,125.99 L445.18,125.24 L445.32,125.01 L445.47,125.30 L445.61,126.11 L445.75,127.43 L445.89,129.22 L446.03,131.46 L446.17,134.10 L446.31,137.09 L446.45,140.36 L446.59,143.87 L446.73,147.52 L446.88,151.27 L447.02,155.02 L447.16,158.70 L447.30,162.25 L447.44,165.59 L447.58,168.65 L447.72,171.37 L447.86,173.70 L448.00,175.59 L448.14,177.01 L448.28,177.92 L448.43,178.30 L448.57,178.15 L448.71,177.46 L448.85,176.26 L448.99,174.57 L449.13,172.41 L449.27,169.84 L449.41,166.89 L449.55,163.64 L449.69,160.14 L449.83,156.47 L449.98,152.70 L450.12,148.90 L450.26,145.16 L450.40,141.54 L450.54,138.12 L450.68,134.98 L450.82,132.16 L450.96,129.74 L451.10,127.76 L451.24,126.25 L451.38,125.26 L451.53,124.80 L451.67,124.89 L451.81,125.51 L451.95,126.67 L452.09,128.33 L452.23,130.47 L452.37,133.03 L452.51,135.98 L452.65,139.25 L452.79,142.76 L452.94,146.47 L453.08,150.28 L453.22,154.11 L453.36,157.91 L453.50,161.57 L453.64,165.03 L453.78,168.22 L453.92,171.08 L454.06,173.53 L454.20,175.54 L454.34,177.06 L454.49,178.06 L454.63,178.52 L454.77,178.42 L454.91,177.78 L455.05,176.59 L455.19,174.89 L455.33,172.71 L455.47,170.09 L455.61,167.09 L455.75,163.77 L455.89,160.20 L456.04,156.44 L456.18,152.59 L456.32,148.70 L456.46,144.88 L456.60,141.19 L456.74,137.72 L456.88,134.53 L457.02,131.69 L457.16,129.27 L457.30,127.30 L457.45,125.84 L457.59,124.91 L457.73,124.54 L457.87,124.73 L458.01,125.48 L458.15,126.77 L458.29,128.59 L458.43,130.88 L458.57,133.61 L458.71,136.71 L458.85,140.13 L459.00,143.80 L459.14,147.62 L459.28,151.54 L459.42,155.46 L459.56,159.30 L459.70,162.98 L459.84,166.42 L459.98,169.56 L460.12,172.32 L460.26,174.65 L460.40,176.49 L460.55,177.81 L460.69,178.58 L460.83,178.79 L460.97,178.41 L461.11,177.48 L461.25,175.99 L461.39,173.99 L461.53,171.51 L461.67,168.61 L461.81,165.35 L461.96,161.79 L462.10,158.01 L462.24,154.10 L462.38,150.13 L462.52,146.19 L462.66,142.36 L462.80,138.72 L462.94,135.36 L463.08,132.34 L463.22,129.72 L463.36,127.58 L463.51,125.94 L463.65,124.85 L463.79,124.33 L463.93,124.39 L464.07,125.04 L464.21,126.25 L464.35,128.01 L464.49,130.28 L464.63,133.00 L464.77,136.13 L464.91,139.59 L465.06,143.31 L465.20,147.21 L465.34,151.21 L465.48,155.22 L465.62,159.16 L465.76,162.94 L465.90,166.47 L466.04,169.69 L466.18,172.52 L466.32,174.89 L466.47,176.77 L466.61,178.10 L466.75,178.86 L466.89,179.03 L467.03,178.60 L467.17,177.59 L467.31,176.01 L467.45,173.90 L467.59,171.31 L467.73,168.28 L467.87,164.89 L468.02,161.20 L468.16,157.31 L468.30,153.28 L468.44,149.22 L468.58,145.20 L468.72,141.32 L468.86,137.67 L469.00,134.31 L469.14,131.33 L469.28,128.80 L469.42,126.76 L469.57,125.26 L469.71,124.35 L469.85,124.03 L469.99,124.31 L470.13,125.20 L470.27,126.67 L470.41,128.69 L470.55,131.22 L470.69,134.20 L470.83,137.57 L470.98,141.24 L471.12,145.15 L471.26,149.21 L471.40,153.32 L471.54,157.40 L471.68,161.35 L471.82,165.09 L471.96,168.53 L472.10,171.60 L472.24,174.23 L472.38,176.35 L472.53,177.93 L472.67,178.92 L472.81,179.30 L472.95,179.06 L473.09,178.22 L473.23,176.77 L473.37,174.76 L473.51,172.24 L473.65,169.24 L473.79,165.85 L473.93,162.14 L474.08,158.19 L474.22,154.09 L474.36,149.93 L474.50,145.80 L474.64,141.80 L474.78,138.02 L474.92,134.54 L475.06,131.44 L475.20,128.79 L475.34,126.66 L475.48,125.09 L475.63,124.12 L475.77,123.76 L475.91,124.04 L476.05,124.94 L476.19,126.45 L476.33,128.53 L476.47,131.13 L476.61,134.20 L476.75,137.67 L476.89,141.46 L477.04,145.48 L477.18,149.64 L477.32,153.86 L477.46,158.02 L477.60,162.04 L477.74,165.83 L477.88,169.29 L478.02,172.36 L478.16,174.95 L478.30,177.00 L478.44,178.48 L478.59,179.34 L478.73,179.57 L478.87,179.15 L479.01,178.10 L479.15,176.44 L479.29,174.21 L479.43,171.45 L479.57,168.23 L479.71,164.63 L479.85,160.72 L479.99,156.60 L480.14,152.36 L480.28,148.10 L480.42,143.92 L480.56,139.91 L480.70,136.17 L480.84,132.78 L480.98,129.83 L481.12,127.38 L481.26,125.49 L481.40,124.21 L481.55,123.57 L481.69,123.57 L481.83,124.23 L481.97,125.53 L482.11,127.44 L482.25,129.92 L482.39,132.90 L482.53,136.33 L482.67,140.11 L482.81,144.17 L482.95,148.41 L483.10,152.72 L483.24,157.01 L483.38,161.18 L483.52,165.12 L483.66,168.76 L483.80,171.99 L483.94,174.74 L484.08,176.95 L484.22,178.56 L484.36,179.54 L484.50,179.85 L484.65,179.50 L484.79,178.49 L484.93,176.84 L485.07,174.59 L485.21,171.79 L485.35,168.51 L485.49,164.83 L485.63,160.83 L485.77,156.60 L485.91,152.25 L486.06,147.89 L486.20,143.61 L486.34,139.51 L486.48,135.70 L486.62,132.27 L486.76,129.29 L486.90,126.85 L487.04,125.00 L487.18,123.79 L487.32,123.24 L487.46,123.37 L487.61,124.18 L487.75,125.65 L487.89,127.75 L488.03,130.42 L488.17,133.61 L488.31,137.23 L488.45,141.20 L488.59,145.43 L488.73,149.81 L488.87,154.24 L489.01,158.61 L489.16,162.81 L489.30,166.74 L489.44,170.31 L489.58,173.43 L489.72,176.02 L489.86,178.02 L490.00,179.38 L490.14,180.06 L490.28,180.05 L490.42,179.34 L490.57,177.96 L490.71,175.93 L490.85,173.30 L490.99,170.14 L491.13,166.53 L491.27,162.54 L491.41,158.28 L491.55,153.86 L491.69,149.37 L491.83,144.94 L491.97,140.66 L492.12,136.65 L492.26,133.01 L492.40,129.82 L492.54,127.17 L492.68,125.11 L492.82,123.71 L492.96,123.00 L493.10,123.00 L493.24,123.70 L493.38,125.10 L493.52,127.16 L493.67,129.82 L493.81,133.03 L493.95,136.71 L494.09,140.75 L494.23,145.08 L494.37,149.57 L494.51,154.11 L494.65,158.60 L494.79,162.91 L494.93,166.95 L495.08,170.60 L495.22,173.78 L495.36,176.41 L495.50,178.42 L495.64,179.76 L495.78,180.39 L495.92,180.30 L496.06,179.48 L496.20,177.96 L496.34,175.78 L496.48,172.98 L496.63,169.64 L496.77,165.84 L496.91,161.68 L497.05,157.25 L497.19,152.68 L497.33,148.08 L497.47,143.57 L497.61,139.25 L497.75,135.24 L497.89,131.65 L498.03,128.56 L498.18,126.05 L498.32,124.20 L498.46,123.04 L498.60,122.61 L498.74,122.92 L498.88,123.96 L499.02,125.72 L499.16,128.14 L499.30,131.16 L499.44,134.71 L499.58,138.70 L499.73,143.02 L499.87,147.57 L500.01,152.23 L500.15,156.87 L500.29,161.39 L500.43,165.65 L500.57,169.56 L500.71,173.00 L500.85,175.90 L500.99,178.17 L501.14,179.75 L501.28,180.60 L501.42,180.70 L501.56,180.04 L501.70,178.65 L501.84,176.54 L501.98,173.79 L502.12,170.45 L502.26,166.62 L502.40,162.39 L502.54,157.88 L502.69,153.20 L502.83,148.47 L502.97,143.82 L503.11,139.36 L503.25,135.23 L503.39,131.52 L503.53,128.33 L503.67,125.76 L503.81,123.86 L503.95,122.70 L504.09,122.29 L504.24,122.66 L504.38,123.79 L504.52,125.66 L504.66,128.22 L504.80,131.40 L504.94,135.12 L505.08,139.29 L505.22,143.78 L505.36,148.48 L505.50,153.28 L505.65,158.03 L505.79,162.62 L505.93,166.92 L506.07,170.81 L506.21,174.19 L506.35,176.97 L506.49,179.08 L506.63,180.45 L506.77,181.05 L506.91,180.86 L507.05,179.88 L507.20,178.14 L507.34,175.68 L507.48,172.57 L507.62,168.90 L507.76,164.75 L507.90,160.24 L508.04,155.50 L508.18,150.64 L508.32,145.81 L508.46,141.13 L508.60,136.72 L508.75,132.72 L508.89,129.23 L509.03,126.34 L509.17,124.13 L509.31,122.68 L509.45,122.00 L509.59,122.14 L509.73,123.08 L509.87,124.81 L510.01,127.27 L510.16,130.39 L510.30,134.11 L510.44,138.30 L510.58,142.87 L510.72,147.68 L510.86,152.61 L511.00,157.51 L511.14,162.25 L511.28,166.71 L511.42,170.75 L511.56,174.27 L511.71,177.16 L511.85,179.35 L511.99,180.77 L512.13,181.38 L512.27,181.17 L512.41,180.14 L512.55,178.30 L512.69,175.73 L512.83,172.48 L512.97,168.64 L513.11,164.32 L513.26,159.64 L513.40,154.73 L513.54,149.73 L513.68,144.78 L513.82,140.01 L513.96,135.56 L514.10,131.56 L514.24,128.12 L514.38,125.33 L514.52,123.29 L514.67,122.03 L514.81,121.62 L514.95,122.05 L515.09,123.32 L515.23,125.39 L515.37,128.20 L515.51,131.68 L515.65,135.73 L515.79,140.24 L515.93,145.08 L516.07,150.10 L516.22,155.18 L516.36,160.16 L516.50,164.89 L516.64,169.26 L516.78,173.12 L516.92,176.37 L517.06,178.92 L517.20,180.68 L517.34,181.61 L517.48,181.68 L517.62,180.88 L517.77,179.24 L517.91,176.80 L518.05,173.63 L518.19,169.82 L518.33,165.48 L518.47,160.73 L518.61,155.71 L518.75,150.56 L518.89,145.45 L519.03,140.50 L519.18,135.87 L519.32,131.69 L519.46,128.09 L519.60,125.17 L519.74,123.02 L519.88,121.71 L520.02,121.26 L520.16,121.71 L520.30,123.03 L520.44,125.19 L520.58,128.12 L520.73,131.76 L520.87,135.98 L521.01,140.66 L521.15,145.68 L521.29,150.87 L521.43,156.09 L521.57,161.19 L521.71,166.00 L521.85,170.40 L521.99,174.24 L522.13,177.42 L522.28,179.83 L522.42,181.40 L522.56,182.09 L522.70,181.87 L522.84,180.75 L522.98,178.75 L523.12,175.94 L523.26,172.40 L523.40,168.23 L523.54,163.56 L523.68,158.52 L523.83,153.27 L523.97,147.96 L524.11,142.75 L524.25,137.81 L524.39,133.28 L524.53,129.29 L524.67,125.97 L524.81,123.43 L524.95,121.74 L525.09,120.95 L525.24,121.09 L525.38,122.16 L525.52,124.12 L525.66,126.93 L525.80,130.49 L525.94,134.69 L526.08,139.43 L526.22,144.53 L526.36,149.87 L526.50,155.26 L526.64,160.54 L526.79,165.56 L526.93,170.15 L527.07,174.18 L527.21,177.52 L527.35,180.06 L527.49,181.73 L527.63,182.47 L527.77,182.25 L527.91,181.08 L528.05,179.00 L528.19,176.07 L528.34,172.37 L528.48,168.02 L528.62,163.15 L528.76,157.92 L528.90,152.49 L529.04,147.02 L529.18,141.68 L529.32,136.65 L529.46,132.09 L529.60,128.13 L529.75,124.90 L529.89,122.50 L530.03,121.02 L530.17,120.50 L530.31,120.96 L530.45,122.39 L530.59,124.75 L530.73,127.95 L530.87,131.91 L531.01,136.50 L531.15,141.58 L531.30,146.97 L531.44,152.53 L531.58,158.06 L531.72,163.39 L531.86,168.35 L532.00,172.79 L532.14,176.55 L532.28,179.51 L532.42,181.59 L532.56,182.71 L532.70,182.82 L532.85,181.94 L532.99,180.07 L533.13,177.29 L533.27,173.67 L533.41,169.34 L533.55,164.42 L533.69,159.08 L533.83,153.50 L533.97,147.84 L534.11,142.30 L534.26,137.06 L534.40,132.28 L534.54,128.13 L534.68,124.73 L534.82,122.21 L534.96,120.65 L535.10,120.10 L535.24,120.58 L535.38,122.08 L535.52,124.55 L535.66,127.92 L535.81,132.07 L535.95,136.87 L536.09,142.16 L536.23,147.77 L536.37,153.52 L536.51,159.21 L536.65,164.65 L536.79,169.67 L536.93,174.10 L537.07,177.78 L537.21,180.60 L537.36,182.45 L537.50,183.27 L537.64,183.04 L537.78,181.75 L537.92,179.45 L538.06,176.21 L538.20,172.14 L538.34,167.38 L538.48,162.08 L538.62,156.41 L538.77,150.58 L538.91,144.77 L539.05,139.19 L539.19,134.02 L539.33,129.43 L539.47,125.60 L539.61,122.64 L539.75,120.67 L539.89,119.74 L540.03,119.90 L540.17,121.15 L540.32,123.43 L540.46,126.69 L540.60,130.80 L540.74,135.64 L540.88,141.03 L541.02,146.79 L541.16,152.72 L541.30,158.62 L541.44,164.29 L541.58,169.53 L541.72,174.16 L541.87,178.01 L542.01,180.95 L542.15,182.87 L542.29,183.71 L542.43,183.43 L542.57,182.04 L542.71,179.59 L542.85,176.15 L542.99,171.85 L543.13,166.83 L543.28,161.28 L543.42,155.37 L543.56,149.32 L543.70,143.34 L543.84,137.65 L543.98,132.44 L544.12,127.90 L544.26,124.19 L544.40,121.45 L544.54,119.78 L544.68,119.23 L544.83,119.83 L544.97,121.57 L545.11,124.38 L545.25,128.17 L545.39,132.80 L545.53,138.11 L545.67,143.91 L545.81,150.00 L545.95,156.15 L546.09,162.15 L546.23,167.78 L546.38,172.83 L546.52,177.12 L546.66,180.50 L546.80,182.83 L546.94,184.04 L547.08,184.07 L547.22,182.91 L547.36,180.62 L547.50,177.26 L547.64,172.96 L547.78,167.88 L547.93,162.19 L548.07,156.10 L548.21,149.84 L548.35,143.63 L548.49,137.71 L548.63,132.29 L548.77,127.57 L548.91,123.74 L549.05,120.93 L549.19,119.25 L549.34,118.77 L549.48,119.51 L549.62,121.44 L549.76,124.50 L549.90,128.58 L550.04,133.52 L550.18,139.14 L550.32,145.24 L550.46,151.59 L550.60,157.95 L550.74,164.08 L550.89,169.75 L551.03,174.75 L551.17,178.88 L551.31,181.98 L551.45,183.94 L551.59,184.68 L551.73,184.16 L551.87,182.40 L552.01,179.46 L552.15,175.46 L552.29,170.54 L552.44,164.89 L552.58,158.72 L552.72,152.27 L552.86,145.78 L553.00,139.51 L553.14,133.69 L553.28,128.55 L553.42,124.29 L553.56,121.08 L553.70,119.05 L553.85,118.28 L553.99,118.80 L554.13,120.59 L554.27,123.60 L554.41,127.71 L554.55,132.75 L554.69,138.54 L554.83,144.85 L554.97,151.44 L555.11,158.04 L555.25,164.40 L555.40,170.27 L555.54,175.41 L555.68,179.62 L555.82,182.73 L555.96,184.61 L556.10,185.18 L556.24,184.42 L556.38,182.35 L556.52,179.05 L556.66,174.65 L556.80,169.32 L556.95,163.27 L557.09,156.75 L557.23,150.00 L557.37,143.31 L557.51,136.94 L557.65,131.15 L557.79,126.18 L557.93,122.23 L558.07,119.46 L558.21,117.99 L558.36,117.88 L558.50,119.15 L558.64,121.74 L558.78,125.55 L558.92,130.44 L559.06,136.20 L559.20,142.61 L559.34,149.39 L559.48,156.28 L559.62,162.99 L559.76,169.24 L559.91,174.77 L560.05,179.35 L560.19,182.79 L560.33,184.94 L560.47,185.71 L560.61,185.06 L560.75,183.01 L560.89,179.64 L561.03,175.10 L561.17,169.56 L561.31,163.25 L561.46,156.45 L561.60,149.43 L561.74,142.48 L561.88,135.91 L562.02,129.99 L562.16,124.98 L562.30,121.09 L562.44,118.48 L562.58,117.29 L562.72,117.55 L562.87,119.27 L563.01,122.38 L563.15,126.75 L563.29,132.19 L563.43,138.48 L563.57,145.34 L563.71,152.49 L563.85,159.61 L563.99,166.40 L564.13,172.56 L564.27,177.83 L564.42,181.96 L564.56,184.77 L564.70,186.14 L564.84,186.01 L564.98,184.36 L565.12,181.28 L565.26,176.88 L565.40,171.37 L565.54,164.97 L565.68,157.96 L565.82,150.67 L565.97,143.40 L566.11,136.47 L566.25,130.21 L566.39,124.89 L566.53,120.75 L566.67,117.98 L566.81,116.72 L566.95,117.01 L567.09,118.86 L567.23,122.19 L567.38,126.85 L567.52,132.64 L567.66,139.29 L567.80,146.52 L567.94,154.00 L568.08,161.38 L568.22,168.33 L568.36,174.53 L568.50,179.69 L568.64,183.58 L568.78,186.01 L568.93,186.86 L569.07,186.09 L569.21,183.72 L569.35,179.87 L569.49,174.69 L569.63,168.44 L569.77,161.39 L569.91,153.87 L570.05,146.22 L570.19,138.82 L570.33,131.99 L570.48,126.07 L570.62,121.34 L570.76,118.02 L570.90,116.28 L571.04,116.21 L571.18,117.81 L571.32,121.02 L571.46,125.68 L571.60,131.59 L571.74,138.47 L571.88,145.99 L572.03,153.80 L572.17,161.52 L572.31,168.77 L572.45,175.22 L572.59,180.54 L572.73,184.47 L572.87,186.82 L573.01,187.47 L573.15,186.37 L573.29,183.58 L573.44,179.22 L573.58,173.50 L573.72,166.69 L573.86,159.13 L574.00,151.18 L574.14,143.24 L574.28,135.68 L574.42,128.90 L574.56,123.23 L574.70,118.96 L574.84,116.30 L574.99,115.39 L575.13,116.30 L575.27,118.97 L575.41,123.28 L575.55,129.03 L575.69,135.93 L575.83,143.64 L575.97,151.76 L576.11,159.90 L576.25,167.63 L576.39,174.57 L576.54,180.35 L576.68,184.68 L576.82,187.32 L576.96,188.14 L577.10,187.08 L577.24,184.18 L577.38,179.60 L577.52,173.56 L577.66,166.37 L577.80,158.39 L577.95,150.04 L578.09,141.75 L578.23,133.96 L578.37,127.07 L578.51,121.45 L578.65,117.40 L578.79,115.15 L578.93,114.82 L579.07,116.44 L579.21,119.93 L579.35,125.11 L579.50,131.71 L579.64,139.40 L579.78,147.75 L579.92,156.34 L580.06,164.69 L580.20,172.35 L580.34,178.92 L580.48,184.02 L580.62,187.38 L580.76,188.80 L580.90,188.19 L581.05,185.59 L581.19,181.11 L581.33,175.01 L581.47,167.60 L581.61,159.30 L581.75,150.54 L581.89,141.82 L582.03,133.62 L582.17,126.41 L582.31,120.57 L582.46,116.46 L582.60,114.30 L582.74,114.23 L582.88,116.27 L583.02,120.30 L583.16,126.11 L583.30,133.39 L583.44,141.71 L583.58,150.63 L583.72,159.62 L583.86,168.18 L584.01,175.81 L584.15,182.07 L584.29,186.59 L584.43,189.10 L584.57,189.44 L584.71,187.59 L584.85,183.64 L584.99,177.81 L585.13,170.44 L585.27,161.93 L585.41,152.80 L585.56,143.57 L585.70,134.78 L585.84,126.97 L585.98,120.60 L586.12,116.06 L586.26,113.62 L586.40,113.45 L586.54,115.57 L586.68,119.86 L586.82,126.07 L586.97,133.84 L587.11,142.72 L587.25,152.15 L587.39,161.59 L587.53,170.43 L587.67,178.16 L587.81,184.27 L587.95,188.39 L588.09,190.25 L588.23,189.73 L588.37,186.84 L588.52,181.75 L588.66,174.77 L588.80,166.31 L588.94,156.91 L589.08,147.14 L589.22,137.63 L589.36,128.97 L589.50,121.72 L589.64,116.35 L589.78,113.20 L589.92,112.51 L590.07,114.31 L590.21,118.52 L590.35,124.87 L590.49,132.98 L590.63,142.31 L590.77,152.27 L590.91,162.23 L591.05,171.52 L591.19,179.53 L591.33,185.73 L591.48,189.70 L591.62,191.17 L591.76,190.01 L591.90,186.29 L592.04,180.25 L592.18,172.27 L592.32,162.88 L592.46,152.70 L592.60,142.41 L592.74,132.71 L592.88,124.26 L593.03,117.65 L593.17,113.33 L593.31,111.62 L593.45,112.66 L593.59,116.38 L593.73,122.55 L593.87,130.76 L594.01,140.45 L594.15,150.94 L594.29,161.52 L594.43,171.44 L594.58,179.99 L594.72,186.57 L594.86,190.68 L595.00,192.03 L595.14,190.50 L595.28,186.18 L595.42,179.36 L595.56,170.51 L595.70,160.27 L595.84,149.36 L595.98,138.57 L596.13,128.70 L596.27,120.47 L596.41,114.50 L596.55,111.25 L596.69,110.97 L596.83,113.71 L596.97,119.28 L597.11,127.29 L597.25,137.15 L597.39,148.13 L597.54,159.42 L597.68,170.16 L597.82,179.52 L597.96,186.79 L598.10,191.38 L598.24,192.94 L598.38,191.31 L598.52,186.60 L598.66,179.15 L598.80,169.53 L598.94,158.46 L599.09,146.82 L599.23,135.50 L599.37,125.42 L599.51,117.38 L599.65,112.03 L599.79,109.84 L599.93,110.98 L600.07,115.41 L600.21,122.79 L600.35,132.53 L600.49,143.87 L600.64,155.89 L600.78,167.60 L600.92,178.04 L601.06,186.33 L601.20,191.77 L601.34,193.87 L601.48,192.44 L601.62,187.57 L601.76,179.63 L601.90,169.29 L602.05,157.39 L602.19,144.95 L602.33,133.03 L602.47,122.66 L602.61,114.76 L602.75,110.02 L602.89,108.90 L603.03,111.51 L603.17,117.67 L603.31,126.86 L603.45,138.28 L603.60,150.94 L603.74,163.72 L603.88,175.46 L604.02,185.10 L604.16,191.74 L604.30,194.74 L604.44,193.81 L604.58,188.99 L604.72,180.69 L604.86,169.65 L605.00,156.88 L605.15,143.55 L605.29,130.92 L605.43,120.19 L605.57,112.39 L605.71,108.30 L605.85,108.35 L605.99,112.56 L606.13,120.58 L606.27,131.66 L606.41,144.73 L606.56,158.55 L606.70,171.75 L606.84,183.01 L606.98,191.20 L607.12,195.45 L607.26,195.30 L607.40,190.73 L607.54,182.15 L607.68,170.39 L607.82,156.64 L607.96,142.30 L608.11,128.86 L608.25,117.72 L608.39,110.08 L608.53,106.79 L608.67,108.24 L608.81,114.34 L608.95,124.47 L609.09,137.59 L609.23,152.30 L609.37,167.02 L609.51,180.12 L609.66,190.15 L609.80,195.95 L609.94,196.82 L610.08,192.61 L610.22,183.73 L610.36,171.15 L610.50,156.25 L610.64,140.73 L610.78,126.38 L610.92,114.88 L611.07,107.62 L611.21,105.51 L611.35,108.86 L611.49,117.35 L611.63,130.02 L611.77,145.38 L611.91,161.60 L612.05,176.70 L612.19,188.80 L612.33,196.35 L612.47,198.34 L612.62,194.45 L612.76,185.10 L612.90,171.39 L613.04,155.03 L613.18,138.11 L613.32,122.83 L613.46,111.23 L613.60,104.89 L613.74,104.74 L613.88,110.90 L614.02,122.63 L614.17,138.40 L614.31,156.12 L614.45,173.36 L614.59,187.69 L614.73,197.05 L614.87,200.04 L615.01,196.10 L615.15,185.71 L615.29,170.25 L615.43,151.91 L615.58,133.36 L615.72,117.37 L615.86,106.38 L616.00,102.16 L616.14,105.49 L616.28,115.99 L616.42,132.17 L616.56,151.57 L616.70,171.18 L616.84,187.85 L616.98,198.83 L617.13,202.18 L617.27,197.21 L617.41,184.55 L617.55,166.18 L617.69,145.11 L617.83,124.89 L617.97,109.08 L618.11,100.55 L618.25,101.00 L618.39,110.56 L618.53,127.72 L618.68,149.51 L618.82,172.00 L618.96,190.97 L619.10,202.72 L619.24,204.77 L619.38,196.47 L619.52,179.16 L619.66,156.05 L619.80,131.65 L619.94,110.95 L620.09,98.36 L620.23,96.80 L620.37,106.95 L620.51,127.00 L620.65,152.85 L620.79,178.92 L620.93,199.31 L621.07,209.10 L621.21,205.63 L621.35,189.22 L621.49,163.34 L621.64,134.00 L621.78,108.40 L621.92,93.20 L622.06,92.77 L622.20,107.87 L622.34,135.12 L622.48,167.59 L622.62,196.44 L622.76,213.28 L622.90,212.60 L623.04,193.74 L623.19,161.50 L623.33,125.21 L623.47,96.21 L623.61,84.39 L623.75,94.68 L623.89,124.87 L624.03,165.53 L624.17,202.57 L624.31,221.94 L624.45,214.99 L624.59,182.61 L624.74,136.21 L624.88,94.40 L625.02,75.90 L625.16,91.09 L625.30,135.72 L625.44,190.42 L625.58,227.92 L625.72,226.15 L625.86,181.82 L626.00,116.56 L626.15,69.22 L626.29,74.28 L626.43,135.88 L626.57,215.15 L626.71,247.92 L626.85,193.98 L626.99,89.04 L627.13,268.75 L627.27,139.95 L627.41,215.29 L627.55,100.20 L627.70,169.02 L627.84,158.91 L627.98,137.39 L628.12,160.98 L628.26,149.57 L628.40,149.25 L628.54,154.59 L628.68,149.99 L628.82,151.71 L628.96,152.22 L629.10,151.00 L629.25,151.86 L629.39,151.64 L629.53,151.45 L629.67,151.71 L629.81,151.56 L629.95,151.58 L630.09,151.63 L630.23,151.58 L630.37,151.60 L630.51,151.61 L630.66,151.59 L630.80,151.60 L630.94,151.60 L631.08,151.60 L631.22,151.60 L631.36,151.60 L631.50,151.60 L631.64,151.60 L631.78,151.60 L631.92,151.60 L632.06,151.60 L632.21,151.60 L632.35,151.60 L632.49,151.60 L632.63,151.60 L632.77,151.60 L632.91,151.60 L633.05,151.60 L633.19,151.60 L633.33,151.60 L633.47,151.60 L633.61,151.60 L633.76,151.60 L633.90,151.60 L634.04,151.60 L634.18,151.60 L634.32,151.60 L634.46,151.60 L634.60,151.60 L634.74,151.60 L634.88,151.60 L635.02,151.60 L635.17,151.60 L635.31,151.60 L635.45,151.60 L635.59,151.60 L635.73,151.60 L635.87,151.60 L636.01,151.60 L636.15,151.60 L636.29,151.60 L636.43,151.60 L636.57,151.60 L636.72,151.60 L636.86,151.60 L637.00,151.60 L637.14,151.60 L637.28,151.60 L637.42,151.60 L637.56,151.60 L637.70,151.60 L637.84,151.60 L637.98,151.60 L638.12,151.60 L638.27,151.60 L638.41,151.60 L638.55,151.60 L638.69,151.60" stroke="#4c72b0" stroke-width="1.75" stroke-dasharray="4.6 1.7"/>
<path d="M50.00,140.81 L50.14,139.33 L50.28,137.95 L50.42,136.68 L50.56,135.53 L50.70,134.52 L50.85,133.65 L50.99,132.93 L51.13,132.37 L51.27,131.97 L51.41,131.73 L51.55,131.65 L51.69,131.74 L51.83,132.00 L51.97,132.42 L52.11,133.00 L52.25,133.74 L52.40,134.62 L52.54,135.65 L52.68,136.81 L52.82,138.09 L52.96,139.49 L53.10,140.99 L53.24,142.58 L53.38,144.24 L53.52,145.97 L53.66,147.74 L53.81,149.54 L53.95,151.37 L54.09,153.19 L54.23,155.00 L54.37,156.79 L54.51,158.53 L54.65,160.21 L54.79,161.83 L54.93,163.35 L55.07,164.78 L55.21,166.10 L55.36,167.30 L55.50,168.36 L55.64,169.29 L55.78,170.07 L55.92,170.69 L56.06,171.15 L56.20,171.45 L56.34,171.58 L56.48,171.55 L56.62,171.35 L56.76,170.98 L56.91,170.45 L57.05,169.76 L57.19,168.92 L57.33,167.93 L57.47,166.81 L57.61,165.55 L57.75,164.18 L57.89,162.71 L58.03,161.14 L58.17,159.49 L58.32,157.77 L58.46,156.00 L58.60,154.19 L58.74,152.36 L58.88,150.53 L59.02,148.70 L59.16,146.90 L59.30,145.13 L59.44,143.42 L59.58,141.78 L59.72,140.22 L59.87,138.76 L60.01,137.40 L60.15,136.17 L60.29,135.06 L60.43,134.09 L60.57,133.27 L60.71,132.61 L60.85,132.10 L60.99,131.76 L61.13,131.59 L61.27,131.59 L61.42,131.75 L61.56,132.08 L61.70,132.58 L61.84,133.24 L61.98,134.05 L62.12,135.01 L62.26,136.12 L62.40,137.35 L62.54,138.70 L62.68,140.17 L62.83,141.73 L62.97,143.37 L63.11,145.09 L63.25,146.86 L63.39,148.67 L63.53,150.50 L63.67,152.35 L63.81,154.19 L63.95,156.01 L64.09,157.79 L64.23,159.52 L64.38,161.18 L64.52,162.76 L64.66,164.25 L64.80,165.63 L64.94,166.89 L65.08,168.02 L65.22,169.02 L65.36,169.86 L65.50,170.55 L65.64,171.08 L65.78,171.44 L65.93,171.64 L66.07,171.67 L66.21,171.52 L66.35,171.21 L66.49,170.73 L66.63,170.08 L66.77,169.28 L66.91,168.33 L67.05,167.23 L67.19,166.01 L67.34,164.66 L67.48,163.19 L67.62,161.63 L67.76,159.99 L67.90,158.27 L68.04,156.49 L68.18,154.67 L68.32,152.83 L68.46,150.97 L68.60,149.12 L68.74,147.29 L68.89,145.50 L69.03,143.76 L69.17,142.08 L69.31,140.49 L69.45,138.99 L69.59,137.60 L69.73,136.32 L69.87,135.18 L70.01,134.18 L70.15,133.32 L70.29,132.62 L70.44,132.09 L70.58,131.72 L70.72,131.52 L70.86,131.49 L71.00,131.63 L71.14,131.95 L71.28,132.43 L71.42,133.08 L71.56,133.88 L71.70,134.84 L71.85,135.94 L71.99,137.18 L72.13,138.54 L72.27,140.01 L72.41,141.58 L72.55,143.24 L72.69,144.97 L72.83,146.75 L72.97,148.58 L73.11,150.44 L73.25,152.30 L73.40,154.16 L73.54,156.00 L73.68,157.80 L73.82,159.55 L73.96,161.23 L74.10,162.83 L74.24,164.33 L74.38,165.72 L74.52,166.99 L74.66,168.13 L74.80,169.13 L74.95,169.98 L75.09,170.67 L75.23,171.19 L75.37,171.55 L75.51,171.73 L75.65,171.75 L75.79,171.59 L75.93,171.25 L76.07,170.75 L76.21,170.08 L76.35,169.25 L76.50,168.27 L76.64,167.15 L76.78,165.89 L76.92,164.51 L77.06,163.02 L77.20,161.43 L77.34,159.75 L77.48,158.00 L77.62,156.20 L77.76,154.36 L77.91,152.49 L78.05,150.61 L78.19,148.75 L78.33,146.90 L78.47,145.10 L78.61,143.35 L78.75,141.67 L78.89,140.08 L79.03,138.59 L79.17,137.21 L79.31,135.96 L79.46,134.84 L79.60,133.86 L79.74,133.04 L79.88,132.38 L80.02,131.88 L80.16,131.56 L80.30,131.40 L80.44,131.43 L80.58,131.63 L80.72,132.00 L80.86,132.54 L81.01,133.25 L81.15,134.11 L81.29,135.13 L81.43,136.29 L81.57,137.59 L81.71,139.00 L81.85,140.53 L81.99,142.15 L82.13,143.86 L82.27,145.63 L82.42,147.45 L82.56,149.31 L82.70,151.20 L82.84,153.08 L82.98,154.95 L83.12,156.80 L83.26,158.60 L83.40,160.34 L83.54,162.00 L83.68,163.57 L83.82,165.04 L83.97,166.39 L84.11,167.62 L84.25,168.70 L84.39,169.64 L84.53,170.42 L84.67,171.03 L84.81,171.48 L84.95,171.75 L85.09,171.85 L85.23,171.77 L85.37,171.52 L85.52,171.09 L85.66,170.49 L85.80,169.72 L85.94,168.80 L86.08,167.73 L86.22,166.51 L86.36,165.17 L86.50,163.71 L86.64,162.14 L86.78,160.47 L86.93,158.73 L87.07,156.93 L87.21,155.08 L87.35,153.20 L87.49,151.31 L87.63,149.41 L87.77,147.54 L87.91,145.70 L88.05,143.91 L88.19,142.19 L88.33,140.55 L88.48,139.01 L88.62,137.58 L88.76,136.27 L88.90,135.09 L89.04,134.06 L89.18,133.18 L89.32,132.47 L89.46,131.92 L89.60,131.54 L89.74,131.34 L89.88,131.32 L90.03,131.47 L90.17,131.80 L90.31,132.31 L90.45,132.99 L90.59,133.83 L90.73,134.82 L90.87,135.97 L91.01,137.25 L91.15,138.65 L91.29,140.18 L91.44,141.80 L91.58,143.51 L91.72,145.29 L91.86,147.13 L92.00,149.00 L92.14,150.90 L92.28,152.81 L92.42,154.71 L92.56,156.58 L92.70,158.40 L92.84,160.17 L92.99,161.86 L93.13,163.46 L93.27,164.96 L93.41,166.34 L93.55,167.59 L93.69,168.70 L93.83,169.65 L93.97,170.45 L94.11,171.09 L94.25,171.55 L94.39,171.83 L94.54,171.94 L94.68,171.87 L94.82,171.61 L94.96,171.18 L95.10,170.58 L95.24,169.81 L95.38,168.88 L95.52,167.79 L95.66,166.56 L95.80,165.20 L95.95,163.72 L96.09,162.13 L96.23,160.45 L96.37,158.69 L96.51,156.86 L96.65,154.99 L96.79,153.09 L96.93,151.17 L97.07,149.26 L97.21,147.36 L97.35,145.51 L97.50,143.71 L97.64,141.97 L97.78,140.33 L97.92,138.78 L98.06,137.34 L98.20,136.04 L98.34,134.87 L98.48,133.85 L98.62,132.98 L98.76,132.28 L98.90,131.76 L99.05,131.40 L99.19,131.23 L99.33,131.24 L99.47,131.43 L99.61,131.80 L99.75,132.35 L99.89,133.07 L100.03,133.95 L100.17,134.99 L100.31,136.18 L100.45,137.51 L100.60,138.96 L100.74,140.53 L100.88,142.19 L101.02,143.94 L101.16,145.76 L101.30,147.63 L101.44,149.53 L101.58,151.46 L101.72,153.38 L101.86,155.29 L102.01,157.17 L102.15,159.00 L102.29,160.77 L102.43,162.45 L102.57,164.03 L102.71,165.51 L102.85,166.86 L102.99,168.07 L103.13,169.14 L103.27,170.05 L103.41,170.80 L103.56,171.37 L103.70,171.77 L103.84,171.99 L103.98,172.02 L104.12,171.87 L104.26,171.54 L104.40,171.04 L104.54,170.35 L104.68,169.50 L104.82,168.49 L104.96,167.33 L105.11,166.02 L105.25,164.59 L105.39,163.04 L105.53,161.38 L105.67,159.64 L105.81,157.82 L105.95,155.95 L106.09,154.04 L106.23,152.11 L106.37,150.17 L106.52,148.25 L106.66,146.35 L106.80,144.50 L106.94,142.71 L107.08,141.01 L107.22,139.40 L107.36,137.89 L107.50,136.51 L107.64,135.27 L107.78,134.17 L107.92,133.23 L108.07,132.46 L108.21,131.85 L108.35,131.43 L108.49,131.19 L108.63,131.13 L108.77,131.25 L108.91,131.56 L109.05,132.05 L109.19,132.72 L109.33,133.55 L109.47,134.55 L109.62,135.70 L109.76,137.00 L109.90,138.43 L110.04,139.98 L110.18,141.63 L110.32,143.38 L110.46,145.20 L110.60,147.08 L110.74,149.00 L110.88,150.94 L111.03,152.89 L111.17,154.83 L111.31,156.74 L111.45,158.60 L111.59,160.40 L111.73,162.12 L111.87,163.75 L112.01,165.26 L112.15,166.66 L112.29,167.91 L112.43,169.02 L112.58,169.98 L112.72,170.76 L112.86,171.37 L113.00,171.81 L113.14,172.06 L113.28,172.12 L113.42,172.00 L113.56,171.69 L113.70,171.20 L113.84,170.53 L113.98,169.69 L114.13,168.69 L114.27,167.53 L114.41,166.22 L114.55,164.78 L114.69,163.22 L114.83,161.56 L114.97,159.80 L115.11,157.97 L115.25,156.08 L115.39,154.15 L115.54,152.20 L115.68,150.24 L115.82,148.29 L115.96,146.37 L116.10,144.50 L116.24,142.69 L116.38,140.97 L116.52,139.34 L116.66,137.82 L116.80,136.42 L116.94,135.17 L117.09,134.06 L117.23,133.12 L117.37,132.34 L117.51,131.74 L117.65,131.32 L117.79,131.08 L117.93,131.04 L118.07,131.18 L118.21,131.50 L118.35,132.02 L118.49,132.71 L118.64,133.57 L118.78,134.60 L118.92,135.78 L119.06,137.11 L119.20,138.57 L119.34,140.15 L119.48,141.84 L119.62,143.62 L119.76,145.47 L119.90,147.37 L120.05,149.32 L120.19,151.29 L120.33,153.26 L120.47,155.21 L120.61,157.14 L120.75,159.01 L120.89,160.82 L121.03,162.54 L121.17,164.16 L121.31,165.67 L121.45,167.04 L121.60,168.28 L121.74,169.36 L121.88,170.28 L122.02,171.03 L122.16,171.60 L122.30,171.99 L122.44,172.19 L122.58,172.20 L122.72,172.02 L122.86,171.65 L123.00,171.10 L123.15,170.36 L123.29,169.46 L123.43,168.39 L123.57,167.16 L123.71,165.80 L123.85,164.30 L123.99,162.68 L124.13,160.96 L124.27,159.15 L124.41,157.28 L124.55,155.35 L124.70,153.38 L124.84,151.40 L124.98,149.42 L125.12,147.46 L125.26,145.54 L125.40,143.67 L125.54,141.88 L125.68,140.17 L125.82,138.57 L125.96,137.09 L126.11,135.75 L126.25,134.55 L126.39,133.51 L126.53,132.63 L126.67,131.93 L126.81,131.41 L126.95,131.08 L127.09,130.94 L127.23,130.99 L127.37,131.23 L127.51,131.66 L127.66,132.28 L127.80,133.07 L127.94,134.04 L128.08,135.17 L128.22,136.45 L128.36,137.88 L128.50,139.43 L128.64,141.09 L128.78,142.85 L128.92,144.70 L129.06,146.61 L129.21,148.56 L129.35,150.54 L129.49,152.54 L129.63,154.53 L129.77,156.48 L129.91,158.40 L130.05,160.25 L130.19,162.02 L130.33,163.70 L130.47,165.26 L130.62,166.70 L130.76,167.99 L130.90,169.14 L131.04,170.12 L131.18,170.92 L131.32,171.55 L131.46,172.00 L131.60,172.25 L131.74,172.31 L131.88,172.17 L132.02,171.85 L132.17,171.33 L132.31,170.64 L132.45,169.76 L132.59,168.71 L132.73,167.51 L132.87,166.15 L133.01,164.66 L133.15,163.04 L133.29,161.32 L133.43,159.51 L133.57,157.62 L133.72,155.68 L133.86,153.69 L134.00,151.69 L134.14,149.69 L134.28,147.70 L134.42,145.75 L134.56,143.85 L134.70,142.03 L134.84,140.29 L134.98,138.66 L135.13,137.16 L135.27,135.78 L135.41,134.56 L135.55,133.49 L135.69,132.59 L135.83,131.87 L135.97,131.34 L136.11,131.00 L136.25,130.85 L136.39,130.89 L136.53,131.13 L136.68,131.56 L136.82,132.18 L136.96,132.99 L137.10,133.97 L137.24,135.11 L137.38,136.41 L137.52,137.85 L137.66,139.43 L137.80,141.11 L137.94,142.90 L138.08,144.77 L138.23,146.70 L138.37,148.68 L138.51,150.69 L138.65,152.71 L138.79,154.72 L138.93,156.70 L139.07,158.63 L139.21,160.49 L139.35,162.28 L139.49,163.96 L139.64,165.52 L139.78,166.96 L139.92,168.25 L140.06,169.38 L140.20,170.34 L140.34,171.13 L140.48,171.74 L140.62,172.15 L140.76,172.37 L140.90,172.39 L141.04,172.22 L141.19,171.85 L141.33,171.29 L141.47,170.54 L141.61,169.62 L141.75,168.52 L141.89,167.26 L142.03,165.85 L142.17,164.31 L142.31,162.65 L142.45,160.88 L142.59,159.02 L142.74,157.10 L142.88,155.12 L143.02,153.10 L143.16,151.07 L143.30,149.05 L143.44,147.05 L143.58,145.09 L143.72,143.19 L143.86,141.38 L144.00,139.66 L144.15,138.05 L144.29,136.57 L144.43,135.23 L144.57,134.05 L144.71,133.04 L144.85,132.20 L144.99,131.55 L145.13,131.08 L145.27,130.82 L145.41,130.75 L145.55,130.88 L145.70,131.20 L145.84,131.72 L145.98,132.43 L146.12,133.33 L146.26,134.39 L146.40,135.63 L146.54,137.01 L146.68,138.54 L146.82,140.19 L146.96,141.94 L147.10,143.80 L147.25,145.72 L147.39,147.71 L147.53,149.73 L147.67,151.77 L147.81,153.81 L147.95,155.82 L148.09,157.80 L148.23,159.72 L148.37,161.56 L148.51,163.31 L148.66,164.94 L148.80,166.45 L148.94,167.82 L149.08,169.03 L149.22,170.08 L149.36,170.94 L149.50,171.63 L149.64,172.12 L149.78,172.41 L149.92,172.51 L150.06,172.40 L150.21,172.09 L150.35,171.59 L150.49,170.90 L150.63,170.02 L150.77,168.96 L150.91,167.74 L151.05,166.36 L151.19,164.84 L151.33,163.19 L151.47,161.43 L151.61,159.57 L151.76,157.64 L151.90,155.65 L152.04,153.61 L152.18,151.56 L152.32,149.51 L152.46,147.48 L152.60,145.49 L152.74,143.55 L152.88,141.70 L153.02,139.94 L153.16,138.29 L153.31,136.76 L153.45,135.38 L153.59,134.16 L153.73,133.11 L153.87,132.23 L154.01,131.54 L154.15,131.04 L154.29,130.74 L154.43,130.65 L154.57,130.75 L154.72,131.06 L154.86,131.56 L155.00,132.26 L155.14,133.15 L155.28,134.21 L155.42,135.45 L155.56,136.84 L155.70,138.37 L155.84,140.03 L155.98,141.81 L156.12,143.68 L156.27,145.63 L156.41,147.63 L156.55,149.68 L156.69,151.74 L156.83,153.80 L156.97,155.84 L157.11,157.85 L157.25,159.79 L157.39,161.65 L157.53,163.41 L157.67,165.07 L157.82,166.59 L157.96,167.96 L158.10,169.18 L158.24,170.23 L158.38,171.09 L158.52,171.77 L158.66,172.25 L158.80,172.53 L158.94,172.60 L159.08,172.48 L159.23,172.14 L159.37,171.61 L159.51,170.89 L159.65,169.97 L159.79,168.88 L159.93,167.61 L160.07,166.20 L160.21,164.63 L160.35,162.94 L160.49,161.14 L160.63,159.25 L160.78,157.28 L160.92,155.26 L161.06,153.20 L161.20,151.12 L161.34,149.05 L161.48,147.00 L161.62,144.99 L161.76,143.05 L161.90,141.20 L162.04,139.44 L162.18,137.80 L162.33,136.30 L162.47,134.95 L162.61,133.75 L162.75,132.74 L162.89,131.91 L163.03,131.27 L163.17,130.83 L163.31,130.59 L163.45,130.56 L163.59,130.73 L163.74,131.11 L163.88,131.69 L164.02,132.47 L164.16,133.43 L164.30,134.58 L164.44,135.89 L164.58,137.35 L164.72,138.95 L164.86,140.68 L165.00,142.52 L165.14,144.45 L165.29,146.45 L165.43,148.50 L165.57,150.58 L165.71,152.67 L165.85,154.75 L165.99,156.80 L166.13,158.80 L166.27,160.73 L166.41,162.57 L166.55,164.30 L166.69,165.91 L166.84,167.37 L166.98,168.69 L167.12,169.83 L167.26,170.80 L167.40,171.57 L167.54,172.15 L167.68,172.53 L167.82,172.70 L167.96,172.66 L168.10,172.41 L168.25,171.96 L168.39,171.31 L168.53,170.46 L168.67,169.42 L168.81,168.21 L168.95,166.84 L169.09,165.31 L169.23,163.65 L169.37,161.86 L169.51,159.98 L169.65,158.01 L169.80,155.98 L169.94,153.90 L170.08,151.80 L170.22,149.70 L170.36,147.62 L170.50,145.57 L170.64,143.59 L170.78,141.68 L170.92,139.87 L171.06,138.18 L171.20,136.62 L171.35,135.21 L171.49,133.96 L171.63,132.88 L171.77,131.99 L171.91,131.30 L172.05,130.81 L172.19,130.52 L172.33,130.44 L172.47,130.58 L172.61,130.92 L172.76,131.47 L172.90,132.22 L173.04,133.16 L173.18,134.29 L173.32,135.58 L173.46,137.04 L173.60,138.65 L173.74,140.38 L173.88,142.23 L174.02,144.17 L174.16,146.18 L174.31,148.25 L174.45,150.35 L174.59,152.47 L174.73,154.58 L174.87,156.66 L175.01,158.69 L175.15,160.64 L175.29,162.51 L175.43,164.27 L175.57,165.91 L175.71,167.40 L175.86,168.73 L176.00,169.90 L176.14,170.88 L176.28,171.66 L176.42,172.25 L176.56,172.63 L176.70,172.80 L176.84,172.76 L176.98,172.50 L177.12,172.04 L177.26,171.37 L177.41,170.50 L177.55,169.44 L177.69,168.21 L177.83,166.80 L177.97,165.25 L178.11,163.55 L178.25,161.74 L178.39,159.82 L178.53,157.82 L178.67,155.76 L178.82,153.65 L178.96,151.53 L179.10,149.40 L179.24,147.30 L179.38,145.23 L179.52,143.23 L179.66,141.32 L179.80,139.51 L179.94,137.82 L180.08,136.26 L180.22,134.87 L180.37,133.64 L180.51,132.59 L180.65,131.73 L180.79,131.07 L180.93,130.62 L181.07,130.38 L181.21,130.35 L181.35,130.54 L181.49,130.94 L181.63,131.55 L181.77,132.37 L181.92,133.38 L182.06,134.57 L182.20,135.93 L182.34,137.45 L182.48,139.12 L182.62,140.91 L182.76,142.82 L182.90,144.81 L183.04,146.87 L183.18,148.98 L183.33,151.11 L183.47,153.25 L183.61,155.38 L183.75,157.47 L183.89,159.50 L184.03,161.45 L184.17,163.30 L184.31,165.03 L184.45,166.63 L184.59,168.07 L184.73,169.35 L184.88,170.44 L185.02,171.35 L185.16,172.06 L185.30,172.56 L185.44,172.84 L185.58,172.91 L185.72,172.76 L185.86,172.40 L186.00,171.83 L186.14,171.05 L186.28,170.07 L186.43,168.90 L186.57,167.56 L186.71,166.06 L186.85,164.40 L186.99,162.62 L187.13,160.72 L187.27,158.73 L187.41,156.67 L187.55,154.55 L187.69,152.40 L187.84,150.25 L187.98,148.11 L188.12,146.00 L188.26,143.95 L188.40,141.97 L188.54,140.10 L188.68,138.34 L188.82,136.72 L188.96,135.25 L189.10,133.94 L189.24,132.82 L189.39,131.88 L189.53,131.15 L189.67,130.63 L189.81,130.32 L189.95,130.23 L190.09,130.36 L190.23,130.71 L190.37,131.27 L190.51,132.04 L190.65,133.01 L190.79,134.17 L190.94,135.51 L191.08,137.02 L191.22,138.67 L191.36,140.46 L191.50,142.37 L191.64,144.37 L191.78,146.44 L191.92,148.57 L192.06,150.73 L192.20,152.90 L192.35,155.05 L192.49,157.18 L192.63,159.24 L192.77,161.23 L192.91,163.11 L193.05,164.88 L193.19,166.52 L193.33,168.00 L193.47,169.31 L193.61,170.44 L193.75,171.38 L193.90,172.11 L194.04,172.63 L194.18,172.94 L194.32,173.02 L194.46,172.88 L194.60,172.53 L194.74,171.95 L194.88,171.17 L195.02,170.18 L195.16,169.01 L195.30,167.65 L195.45,166.12 L195.59,164.45 L195.73,162.64 L195.87,160.72 L196.01,158.70 L196.15,156.61 L196.29,154.46 L196.43,152.29 L196.57,150.11 L196.71,147.94 L196.86,145.81 L197.00,143.74 L197.14,141.75 L197.28,139.86 L197.42,138.09 L197.56,136.46 L197.70,134.99 L197.84,133.69 L197.98,132.58 L198.12,131.66 L198.26,130.96 L198.41,130.46 L198.55,130.19 L198.69,130.13 L198.83,130.30 L198.97,130.70 L199.11,131.31 L199.25,132.13 L199.39,133.15 L199.53,134.37 L199.67,135.76 L199.81,137.33 L199.96,139.04 L200.10,140.88 L200.24,142.83 L200.38,144.88 L200.52,147.00 L200.66,149.16 L200.80,151.36 L200.94,153.55 L201.08,155.73 L201.22,157.86 L201.36,159.93 L201.51,161.91 L201.65,163.78 L201.79,165.53 L201.93,167.13 L202.07,168.58 L202.21,169.84 L202.35,170.91 L202.49,171.78 L202.63,172.44 L202.77,172.89 L202.92,173.10 L203.06,173.10 L203.20,172.87 L203.34,172.41 L203.48,171.74 L203.62,170.86 L203.76,169.77 L203.90,168.49 L204.04,167.04 L204.18,165.42 L204.32,163.66 L204.47,161.77 L204.61,159.77 L204.75,157.69 L204.89,155.54 L205.03,153.35 L205.17,151.14 L205.31,148.93 L205.45,146.75 L205.59,144.63 L205.73,142.57 L205.87,140.61 L206.02,138.77 L206.16,137.06 L206.30,135.50 L206.44,134.11 L206.58,132.91 L206.72,131.90 L206.86,131.10 L207.00,130.51 L207.14,130.15 L207.28,130.02 L207.43,130.11 L207.57,130.43 L207.71,130.97 L207.85,131.73 L207.99,132.70 L208.13,133.88 L208.27,135.24 L208.41,136.77 L208.55,138.46 L208.69,140.29 L208.83,142.24 L208.98,144.29 L209.12,146.42 L209.26,148.60 L209.40,150.81 L209.54,153.04 L209.68,155.25 L209.82,157.42 L209.96,159.53 L210.10,161.56 L210.24,163.48 L210.38,165.28 L210.53,166.93 L210.67,168.42 L210.81,169.73 L210.95,170.85 L211.09,171.77 L211.23,172.47 L211.37,172.95 L211.51,173.20 L211.65,173.22 L211.79,173.01 L211.94,172.58 L212.08,171.92 L212.22,171.04 L212.36,169.96 L212.50,168.68 L212.64,167.22 L212.78,165.59 L212.92,163.81 L213.06,161.90 L213.20,159.89 L213.34,157.78 L213.49,155.60 L213.63,153.38 L213.77,151.15 L213.91,148.91 L214.05,146.71 L214.19,144.55 L214.33,142.47 L214.47,140.49 L214.61,138.63 L214.75,136.90 L214.89,135.33 L215.04,133.94 L215.18,132.73 L215.32,131.72 L215.46,130.93 L215.60,130.36 L215.74,130.02 L215.88,129.90 L216.02,130.02 L216.16,130.38 L216.30,130.96 L216.45,131.76 L216.59,132.77 L216.73,133.99 L216.87,135.39 L217.01,136.98 L217.15,138.71 L217.29,140.59 L217.43,142.59 L217.57,144.68 L217.71,146.85 L217.85,149.07 L218.00,151.32 L218.14,153.57 L218.28,155.80 L218.42,157.99 L218.56,160.11 L218.70,162.14 L218.84,164.05 L218.98,165.84 L219.12,167.46 L219.26,168.92 L219.40,170.19 L219.55,171.26 L219.69,172.12 L219.83,172.76 L219.97,173.17 L220.11,173.35 L220.25,173.29 L220.39,172.99 L220.53,172.47 L220.67,171.72 L220.81,170.75 L220.96,169.58 L221.10,168.20 L221.24,166.65 L221.38,164.94 L221.52,163.08 L221.66,161.10 L221.80,159.01 L221.94,156.84 L222.08,154.61 L222.22,152.35 L222.36,150.09 L222.51,147.83 L222.65,145.62 L222.79,143.47 L222.93,141.41 L223.07,139.46 L223.21,137.64 L223.35,135.97 L223.49,134.48 L223.63,133.16 L223.77,132.05 L223.91,131.15 L224.06,130.47 L224.20,130.02 L224.34,129.81 L224.48,129.83 L224.62,130.09 L224.76,130.59 L224.90,131.31 L225.04,132.26 L225.18,133.42 L225.32,134.77 L225.46,136.31 L225.61,138.02 L225.75,139.87 L225.89,141.86 L226.03,143.95 L226.17,146.13 L226.31,148.36 L226.45,150.64 L226.59,152.92 L226.73,155.19 L226.87,157.42 L227.02,159.59 L227.16,161.67 L227.30,163.64 L227.44,165.48 L227.58,167.17 L227.72,168.69 L227.86,170.02 L228.00,171.15 L228.14,172.07 L228.28,172.76 L228.42,173.22 L228.57,173.45 L228.71,173.43 L228.85,173.17 L228.99,172.68 L229.13,171.95 L229.27,171.01 L229.41,169.84 L229.55,168.48 L229.69,166.93 L229.83,165.21 L229.97,163.34 L230.12,161.34 L230.26,159.24 L230.40,157.05 L230.54,154.79 L230.68,152.51 L230.82,150.21 L230.96,147.92 L231.10,145.68 L231.24,143.50 L231.38,141.41 L231.53,139.43 L231.67,137.58 L231.81,135.89 L231.95,134.37 L232.09,133.05 L232.23,131.92 L232.37,131.02 L232.51,130.34 L232.65,129.89 L232.79,129.69 L232.93,129.73 L233.08,130.01 L233.22,130.53 L233.36,131.28 L233.50,132.26 L233.64,133.45 L233.78,134.85 L233.92,136.43 L234.06,138.18 L234.20,140.07 L234.34,142.10 L234.48,144.24 L234.63,146.45 L234.77,148.72 L234.91,151.03 L235.05,153.34 L235.19,155.64 L235.33,157.89 L235.47,160.07 L235.61,162.16 L235.75,164.13 L235.89,165.96 L236.04,167.63 L236.18,169.13 L236.32,170.43 L236.46,171.52 L236.60,172.39 L236.74,173.03 L236.88,173.43 L237.02,173.58 L237.16,173.49 L237.30,173.16 L237.44,172.58 L237.59,171.78 L237.73,170.74 L237.87,169.49 L238.01,168.04 L238.15,166.41 L238.29,164.61 L238.43,162.67 L238.57,160.60 L238.71,158.42 L238.85,156.18 L238.99,153.88 L239.14,151.55 L239.28,149.22 L239.42,146.92 L239.56,144.67 L239.70,142.50 L239.84,140.43 L239.98,138.49 L240.12,136.69 L240.26,135.05 L240.40,133.61 L240.55,132.36 L240.69,131.33 L240.83,130.53 L240.97,129.96 L241.11,129.64 L241.25,129.56 L241.39,129.73 L241.53,130.15 L241.67,130.81 L241.81,131.70 L241.95,132.82 L242.10,134.15 L242.24,135.68 L242.38,137.38 L242.52,139.25 L242.66,141.26 L242.80,143.38 L242.94,145.60 L243.08,147.88 L243.22,150.21 L243.36,152.56 L243.50,154.89 L243.65,157.19 L243.79,159.43 L243.93,161.58 L244.07,163.61 L244.21,165.51 L244.35,167.26 L244.49,168.83 L244.63,170.20 L244.77,171.36 L244.91,172.30 L245.06,173.01 L245.20,173.47 L245.34,173.69 L245.48,173.65 L245.62,173.37 L245.76,172.84 L245.90,172.06 L246.04,171.06 L246.18,169.83 L246.32,168.40 L246.46,166.77 L246.61,164.97 L246.75,163.02 L246.89,160.94 L247.03,158.75 L247.17,156.48 L247.31,154.16 L247.45,151.80 L247.59,149.44 L247.73,147.10 L247.87,144.82 L248.01,142.61 L248.16,140.50 L248.30,138.52 L248.44,136.69 L248.58,135.03 L248.72,133.55 L248.86,132.28 L249.00,131.23 L249.14,130.42 L249.28,129.84 L249.42,129.52 L249.56,129.44 L249.71,129.62 L249.85,130.05 L249.99,130.73 L250.13,131.64 L250.27,132.79 L250.41,134.15 L250.55,135.71 L250.69,137.45 L250.83,139.36 L250.97,141.40 L251.12,143.57 L251.26,145.83 L251.40,148.15 L251.54,150.51 L251.68,152.89 L251.82,155.26 L251.96,157.58 L252.10,159.83 L252.24,161.99 L252.38,164.03 L252.52,165.93 L252.67,167.67 L252.81,169.22 L252.95,170.57 L253.09,171.70 L253.23,172.60 L253.37,173.26 L253.51,173.67 L253.65,173.82 L253.79,173.72 L253.93,173.37 L254.07,172.76 L254.22,171.91 L254.36,170.82 L254.50,169.51 L254.64,168.00 L254.78,166.29 L254.92,164.42 L255.06,162.39 L255.20,160.24 L255.34,157.99 L255.48,155.67 L255.63,153.30 L255.77,150.90 L255.91,148.52 L256.05,146.16 L256.19,143.88 L256.33,141.68 L256.47,139.59 L256.61,137.64 L256.75,135.86 L256.89,134.25 L257.03,132.85 L257.18,131.66 L257.32,130.71 L257.46,129.99 L257.60,129.53 L257.74,129.33 L257.88,129.38 L258.02,129.69 L258.16,130.25 L258.30,131.07 L258.44,132.12 L258.58,133.40 L258.73,134.89 L258.87,136.58 L259.01,138.45 L259.15,140.46 L259.29,142.61 L259.43,144.86 L259.57,147.19 L259.71,149.58 L259.85,151.99 L259.99,154.39 L260.14,156.77 L260.28,159.08 L260.42,161.31 L260.56,163.42 L260.70,165.40 L260.84,167.21 L260.98,168.85 L261.12,170.28 L261.26,171.50 L261.40,172.48 L261.54,173.22 L261.69,173.70 L261.83,173.93 L261.97,173.90 L262.11,173.60 L262.25,173.05 L262.39,172.24 L262.53,171.19 L262.67,169.91 L262.81,168.42 L262.95,166.73 L263.09,164.86 L263.24,162.83 L263.38,160.67 L263.52,158.41 L263.66,156.06 L263.80,153.66 L263.94,151.23 L264.08,148.81 L264.22,146.42 L264.36,144.09 L264.50,141.85 L264.65,139.72 L264.79,137.73 L264.93,135.91 L265.07,134.26 L265.21,132.83 L265.35,131.61 L265.49,130.63 L265.63,129.90 L265.77,129.42 L265.91,129.20 L266.05,129.25 L266.20,129.56 L266.34,130.14 L266.48,130.97 L266.62,132.04 L266.76,133.34 L266.90,134.86 L267.04,136.58 L267.18,138.48 L267.32,140.53 L267.46,142.72 L267.60,145.01 L267.75,147.38 L267.89,149.80 L268.03,152.25 L268.17,154.68 L268.31,157.08 L268.45,159.42 L268.59,161.66 L268.73,163.79 L268.87,165.77 L269.01,167.59 L269.16,169.21 L269.30,170.63 L269.44,171.82 L269.58,172.76 L269.72,173.46 L269.86,173.90 L270.00,174.07 L270.14,173.98 L270.28,173.61 L270.42,172.99 L270.56,172.11 L270.71,170.98 L270.85,169.62 L270.99,168.05 L271.13,166.28 L271.27,164.34 L271.41,162.24 L271.55,160.01 L271.69,157.68 L271.83,155.28 L271.97,152.83 L272.11,150.37 L272.26,147.92 L272.40,145.52 L272.54,143.19 L272.68,140.95 L272.82,138.85 L272.96,136.89 L273.10,135.11 L273.24,133.53 L273.38,132.17 L273.52,131.04 L273.66,130.15 L273.81,129.52 L273.95,129.16 L274.09,129.06 L274.23,129.24 L274.37,129.69 L274.51,130.40 L274.65,131.36 L274.79,132.57 L274.93,134.01 L275.07,135.66 L275.22,137.50 L275.36,139.52 L275.50,141.68 L275.64,143.96 L275.78,146.33 L275.92,148.77 L276.06,151.24 L276.20,153.72 L276.34,156.17 L276.48,158.57 L276.62,160.89 L276.77,163.09 L276.91,165.16 L277.05,167.06 L277.19,168.78 L277.33,170.29 L277.47,171.57 L277.61,172.61 L277.75,173.40 L277.89,173.92 L278.03,174.18 L278.17,174.16 L278.32,173.86 L278.46,173.30 L278.60,172.47 L278.74,171.39 L278.88,170.07 L279.02,168.53 L279.16,166.77 L279.30,164.84 L279.44,162.74 L279.58,160.50 L279.73,158.16 L279.87,155.74 L280.01,153.26 L280.15,150.76 L280.29,148.27 L280.43,145.83 L280.57,143.45 L280.71,141.17 L280.85,139.01 L280.99,137.01 L281.13,135.19 L281.28,133.57 L281.42,132.16 L281.56,130.99 L281.70,130.08 L281.84,129.42 L281.98,129.04 L282.12,128.93 L282.26,129.10 L282.40,129.55 L282.54,130.26 L282.68,131.24 L282.83,132.47 L282.97,133.93 L283.11,135.61 L283.25,137.48 L283.39,139.53 L283.53,141.73 L283.67,144.04 L283.81,146.46 L283.95,148.93 L284.09,151.44 L284.24,153.96 L284.38,156.44 L284.52,158.87 L284.66,161.21 L284.80,163.43 L284.94,165.50 L285.08,167.41 L285.22,169.12 L285.36,170.62 L285.50,171.88 L285.64,172.89 L285.79,173.64 L285.93,174.12 L286.07,174.33 L286.21,174.25 L286.35,173.89 L286.49,173.26 L286.63,172.36 L286.77,171.20 L286.91,169.80 L287.05,168.18 L287.19,166.35 L287.34,164.33 L287.48,162.16 L287.62,159.86 L287.76,157.45 L287.90,154.97 L288.04,152.45 L288.18,149.92 L288.32,147.40 L288.46,144.94 L288.60,142.56 L288.75,140.29 L288.89,138.16 L289.03,136.20 L289.17,134.42 L289.31,132.86 L289.45,131.53 L289.59,130.45 L289.73,129.63 L289.87,129.09 L290.01,128.83 L290.15,128.84 L290.30,129.15 L290.44,129.73 L290.58,130.58 L290.72,131.70 L290.86,133.06 L291.00,134.66 L291.14,136.47 L291.28,138.47 L291.42,140.63 L291.56,142.93 L291.70,145.34 L291.85,147.83 L291.99,150.36 L292.13,152.91 L292.27,155.45 L292.41,157.94 L292.55,160.35 L292.69,162.66 L292.83,164.82 L292.97,166.82 L293.11,168.63 L293.26,170.23 L293.40,171.60 L293.54,172.71 L293.68,173.56 L293.82,174.14 L293.96,174.43 L294.10,174.44 L294.24,174.15 L294.38,173.59 L294.52,172.75 L294.66,171.64 L294.81,170.29 L294.95,168.69 L295.09,166.88 L295.23,164.88 L295.37,162.71 L295.51,160.40 L295.65,157.97 L295.79,155.47 L295.93,152.91 L296.07,150.34 L296.21,147.79 L296.36,145.28 L296.50,142.85 L296.64,140.52 L296.78,138.34 L296.92,136.33 L297.06,134.50 L297.20,132.90 L297.34,131.52 L297.48,130.41 L297.62,129.56 L297.77,128.98 L297.91,128.70 L298.05,128.70 L298.19,129.00 L298.33,129.58 L298.47,130.44 L298.61,131.57 L298.75,132.95 L298.89,134.57 L299.03,136.41 L299.17,138.44 L299.32,140.64 L299.46,142.98 L299.60,145.43 L299.74,147.96 L299.88,150.53 L300.02,153.12 L300.16,155.70 L300.30,158.22 L300.44,160.66 L300.58,162.98 L300.72,165.16 L300.87,167.17 L301.01,168.97 L301.15,170.56 L301.29,171.91 L301.43,173.00 L301.57,173.82 L301.71,174.35 L301.85,174.59 L301.99,174.54 L302.13,174.19 L302.27,173.56 L302.42,172.64 L302.56,171.46 L302.70,170.02 L302.84,168.34 L302.98,166.45 L303.12,164.37 L303.26,162.12 L303.40,159.74 L303.54,157.25 L303.68,154.69 L303.83,152.09 L303.97,149.48 L304.11,146.90 L304.25,144.38 L304.39,141.94 L304.53,139.64 L304.67,137.48 L304.81,135.51 L304.95,133.74 L305.09,132.20 L305.23,130.91 L305.38,129.89 L305.52,129.14 L305.66,128.69 L305.80,128.53 L305.94,128.66 L306.08,129.10 L306.22,129.82 L306.36,130.83 L306.50,132.10 L306.64,133.63 L306.78,135.39 L306.93,137.36 L307.07,139.51 L307.21,141.82 L307.35,144.26 L307.49,146.80 L307.63,149.40 L307.77,152.02 L307.91,154.65 L308.05,157.23 L308.19,159.75 L308.34,162.15 L308.48,164.43 L308.62,166.53 L308.76,168.45 L308.90,170.14 L309.04,171.60 L309.18,172.79 L309.32,173.71 L309.46,174.35 L309.60,174.69 L309.74,174.72 L309.89,174.46 L310.03,173.90 L310.17,173.05 L310.31,171.92 L310.45,170.52 L310.59,168.88 L310.73,167.01 L310.87,164.93 L311.01,162.69 L311.15,160.30 L311.29,157.79 L311.44,155.20 L311.58,152.56 L311.72,149.91 L311.86,147.28 L312.00,144.71 L312.14,142.23 L312.28,139.86 L312.42,137.65 L312.56,135.63 L312.70,133.81 L312.85,132.22 L312.99,130.89 L313.13,129.82 L313.27,129.05 L313.41,128.56 L313.55,128.39 L313.69,128.51 L313.83,128.94 L313.97,129.67 L314.11,130.68 L314.25,131.98 L314.40,133.53 L314.54,135.31 L314.68,137.32 L314.82,139.51 L314.96,141.86 L315.10,144.35 L315.24,146.92 L315.38,149.57 L315.52,152.23 L315.66,154.90 L315.80,157.52 L315.95,160.06 L316.09,162.49 L316.23,164.78 L316.37,166.89 L316.51,168.81 L316.65,170.49 L316.79,171.93 L316.93,173.10 L317.07,173.99 L317.21,174.58 L317.36,174.86 L317.50,174.84 L317.64,174.50 L317.78,173.87 L317.92,172.94 L318.06,171.72 L318.20,170.24 L318.34,168.51 L318.48,166.55 L318.62,164.40 L318.76,162.07 L318.91,159.60 L319.05,157.03 L319.19,154.38 L319.33,151.69 L319.47,149.01 L319.61,146.35 L319.75,143.77 L319.89,141.28 L320.03,138.94 L320.17,136.76 L320.31,134.78 L320.46,133.02 L320.60,131.51 L320.74,130.27 L320.88,129.32 L321.02,128.66 L321.16,128.30 L321.30,128.26 L321.44,128.53 L321.58,129.11 L321.72,129.99 L321.87,131.16 L322.01,132.61 L322.15,134.31 L322.29,136.24 L322.43,138.38 L322.57,140.70 L322.71,143.17 L322.85,145.75 L322.99,148.41 L323.13,151.11 L323.27,153.82 L323.42,156.50 L323.56,159.12 L323.70,161.64 L323.84,164.02 L323.98,166.24 L324.12,168.26 L324.26,170.05 L324.40,171.60 L324.54,172.88 L324.68,173.88 L324.82,174.57 L324.97,174.95 L325.11,175.02 L325.25,174.77 L325.39,174.21 L325.53,173.34 L325.67,172.18 L325.81,170.74 L325.95,169.04 L326.09,167.10 L326.23,164.95 L326.37,162.62 L326.52,160.14 L326.66,157.55 L326.80,154.87 L326.94,152.14 L327.08,149.41 L327.22,146.71 L327.36,144.07 L327.50,141.53 L327.64,139.13 L327.78,136.90 L327.93,134.86 L328.07,133.06 L328.21,131.50 L328.35,130.22 L328.49,129.23 L328.63,128.54 L328.77,128.16 L328.91,128.11 L329.05,128.38 L329.19,128.96 L329.33,129.85 L329.48,131.04 L329.62,132.51 L329.76,134.24 L329.90,136.22 L330.04,138.40 L330.18,140.76 L330.32,143.27 L330.46,145.90 L330.60,148.60 L330.74,151.35 L330.88,154.11 L331.03,156.83 L331.17,159.48 L331.31,162.02 L331.45,164.42 L331.59,166.64 L331.73,168.66 L331.87,170.45 L332.01,171.98 L332.15,173.23 L332.29,174.18 L332.44,174.82 L332.58,175.14 L332.72,175.14 L332.86,174.82 L333.00,174.17 L333.14,173.21 L333.28,171.96 L333.42,170.42 L333.56,168.62 L333.70,166.59 L333.84,164.35 L333.99,161.94 L334.13,159.37 L334.27,156.70 L334.41,153.96 L334.55,151.19 L334.69,148.42 L334.83,145.69 L334.97,143.04 L335.11,140.51 L335.25,138.14 L335.39,135.95 L335.54,133.97 L335.68,132.24 L335.82,130.78 L335.96,129.60 L336.10,128.73 L336.24,128.18 L336.38,127.95 L336.52,128.05 L336.66,128.48 L336.80,129.23 L336.95,130.29 L337.09,131.65 L337.23,133.28 L337.37,135.18 L337.51,137.30 L337.65,139.62 L337.79,142.11 L337.93,144.74 L338.07,147.46 L338.21,150.24 L338.35,153.04 L338.50,155.82 L338.64,158.54 L338.78,161.17 L338.92,163.67 L339.06,165.99 L339.20,168.12 L339.34,170.02 L339.48,171.66 L339.62,173.01 L339.76,174.07 L339.90,174.82 L340.05,175.24 L340.19,175.33 L340.33,175.08 L340.47,174.51 L340.61,173.61 L340.75,172.40 L340.89,170.90 L341.03,169.13 L341.17,167.11 L341.31,164.87 L341.46,162.45 L341.60,159.87 L341.74,157.17 L341.88,154.39 L342.02,151.58 L342.16,148.76 L342.30,145.98 L342.44,143.28 L342.58,140.69 L342.72,138.26 L342.86,136.01 L343.01,133.99 L343.15,132.21 L343.29,130.71 L343.43,129.50 L343.57,128.60 L343.71,128.03 L343.85,127.80 L343.99,127.89 L344.13,128.33 L344.27,129.10 L344.41,130.18 L344.56,131.57 L344.70,133.25 L344.84,135.18 L344.98,137.36 L345.12,139.73 L345.26,142.27 L345.40,144.95 L345.54,147.72 L345.68,150.55 L345.82,153.40 L345.97,156.22 L346.11,158.98 L346.25,161.63 L346.39,164.14 L346.53,166.48 L346.67,168.60 L346.81,170.48 L346.95,172.09 L347.09,173.41 L347.23,174.42 L347.37,175.10 L347.52,175.45 L347.66,175.45 L347.80,175.11 L347.94,174.44 L348.08,173.44 L348.22,172.13 L348.36,170.52 L348.50,168.64 L348.64,166.51 L348.78,164.17 L348.92,161.65 L349.07,158.98 L349.21,156.20 L349.35,153.36 L349.49,150.49 L349.63,147.64 L349.77,144.84 L349.91,142.13 L350.05,139.57 L350.19,137.17 L350.33,134.98 L350.47,133.03 L350.62,131.35 L350.76,129.96 L350.90,128.88 L351.04,128.13 L351.18,127.71 L351.32,127.65 L351.46,127.92 L351.60,128.55 L351.74,129.50 L351.88,130.77 L352.03,132.35 L352.17,134.21 L352.31,136.32 L352.45,138.65 L352.59,141.17 L352.73,143.84 L352.87,146.63 L353.01,149.49 L353.15,152.38 L353.29,155.27 L353.43,158.10 L353.58,160.83 L353.72,163.44 L353.86,165.87 L354.00,168.10 L354.14,170.08 L354.28,171.80 L354.42,173.23 L354.56,174.34 L354.70,175.12 L354.84,175.55 L354.98,175.64 L355.13,175.37 L355.27,174.76 L355.41,173.81 L355.55,172.54 L355.69,170.95 L355.83,169.09 L355.97,166.96 L356.11,164.62 L356.25,162.07 L356.39,159.38 L356.54,156.57 L356.68,153.68 L356.82,150.77 L356.96,147.86 L357.10,145.01 L357.24,142.25 L357.38,139.63 L357.52,137.19 L357.66,134.95 L357.80,132.96 L357.94,131.24 L358.09,129.82 L358.23,128.72 L358.37,127.96 L358.51,127.55 L358.65,127.49 L358.79,127.78 L358.93,128.43 L359.07,129.42 L359.21,130.74 L359.35,132.37 L359.49,134.28 L359.64,136.45 L359.78,138.84 L359.92,141.43 L360.06,144.16 L360.20,147.01 L360.34,149.93 L360.48,152.87 L360.62,155.79 L360.76,158.66 L360.90,161.42 L361.05,164.04 L361.19,166.47 L361.33,168.68 L361.47,170.64 L361.61,172.32 L361.75,173.69 L361.89,174.73 L362.03,175.43 L362.17,175.78 L362.31,175.76 L362.45,175.38 L362.60,174.65 L362.74,173.58 L362.88,172.17 L363.02,170.46 L363.16,168.47 L363.30,166.22 L363.44,163.76 L363.58,161.11 L363.72,158.31 L363.86,155.42 L364.00,152.47 L364.15,149.50 L364.29,146.56 L364.43,143.70 L364.57,140.95 L364.71,138.36 L364.85,135.97 L364.99,133.82 L365.13,131.93 L365.27,130.33 L365.41,129.05 L365.56,128.12 L365.70,127.53 L365.84,127.31 L365.98,127.45 L366.12,127.95 L366.26,128.82 L366.40,130.02 L366.54,131.55 L366.68,133.39 L366.82,135.50 L366.96,137.85 L367.11,140.42 L367.25,143.15 L367.39,146.01 L367.53,148.96 L367.67,151.95 L367.81,154.94 L367.95,157.87 L368.09,160.72 L368.23,163.42 L368.37,165.95 L368.51,168.26 L368.66,170.32 L368.80,172.10 L368.94,173.57 L369.08,174.70 L369.22,175.48 L369.36,175.91 L369.50,175.96 L369.64,175.64 L369.78,174.95 L369.92,173.91 L370.07,172.53 L370.21,170.83 L370.35,168.83 L370.49,166.57 L370.63,164.08 L370.77,161.40 L370.91,158.57 L371.05,155.63 L371.19,152.63 L371.33,149.61 L371.47,146.62 L371.62,143.70 L371.76,140.91 L371.90,138.27 L372.04,135.84 L372.18,133.65 L372.32,131.74 L372.46,130.12 L372.60,128.84 L372.74,127.90 L372.88,127.33 L373.02,127.13 L373.17,127.31 L373.31,127.86 L373.45,128.78 L373.59,130.05 L373.73,131.65 L373.87,133.55 L374.01,135.74 L374.15,138.17 L374.29,140.82 L374.43,143.62 L374.57,146.56 L374.72,149.57 L374.86,152.62 L375.00,155.65 L375.14,158.62 L375.28,161.48 L375.42,164.19 L375.56,166.71 L375.70,168.99 L375.84,171.01 L375.98,172.73 L376.13,174.12 L376.27,175.16 L376.41,175.84 L376.55,176.14 L376.69,176.06 L376.83,175.59 L376.97,174.76 L377.11,173.57 L377.25,172.03 L377.39,170.17 L377.53,168.03 L377.68,165.62 L377.82,163.00 L377.96,160.20 L378.10,157.26 L378.24,154.24 L378.38,151.17 L378.52,148.10 L378.66,145.09 L378.80,142.18 L378.94,139.41 L379.08,136.84 L379.23,134.49 L379.37,132.41 L379.51,130.63 L379.65,129.18 L379.79,128.08 L379.93,127.35 L380.07,126.99 L380.21,127.03 L380.35,127.45 L380.49,128.25 L380.64,129.41 L380.78,130.93 L380.92,132.77 L381.06,134.91 L381.20,137.31 L381.34,139.94 L381.48,142.76 L381.62,145.71 L381.76,148.76 L381.90,151.86 L382.04,154.95 L382.19,157.99 L382.33,160.93 L382.47,163.73 L382.61,166.34 L382.75,168.71 L382.89,170.82 L383.03,172.62 L383.17,174.09 L383.31,175.20 L383.45,175.94 L383.59,176.30 L383.74,176.26 L383.88,175.83 L384.02,175.02 L384.16,173.83 L384.30,172.29 L384.44,170.42 L384.58,168.25 L384.72,165.81 L384.86,163.15 L385.00,160.30 L385.15,157.31 L385.29,154.23 L385.43,151.10 L385.57,147.99 L385.71,144.92 L385.85,141.96 L385.99,139.16 L386.13,136.55 L386.27,134.18 L386.41,132.09 L386.55,130.31 L386.70,128.87 L386.84,127.80 L386.98,127.10 L387.12,126.80 L387.26,126.89 L387.40,127.38 L387.54,128.26 L387.68,129.52 L387.82,131.13 L387.96,133.07 L388.10,135.31 L388.25,137.81 L388.39,140.54 L388.53,143.45 L388.67,146.49 L388.81,149.61 L388.95,152.77 L389.09,155.90 L389.23,158.98 L389.37,161.93 L389.51,164.72 L389.66,167.30 L389.80,169.62 L389.94,171.66 L390.08,173.37 L390.22,174.73 L390.36,175.72 L390.50,176.31 L390.64,176.51 L390.78,176.30 L390.92,175.69 L391.06,174.69 L391.21,173.31 L391.35,171.58 L391.49,169.53 L391.63,167.18 L391.77,164.58 L391.91,161.76 L392.05,158.78 L392.19,155.68 L392.33,152.51 L392.47,149.32 L392.61,146.17 L392.76,143.11 L392.90,140.18 L393.04,137.44 L393.18,134.93 L393.32,132.69 L393.46,130.76 L393.60,129.17 L393.74,127.94 L393.88,127.10 L394.02,126.67 L394.17,126.64 L394.31,127.02 L394.45,127.80 L394.59,128.98 L394.73,130.52 L394.87,132.42 L395.01,134.63 L395.15,137.12 L395.29,139.85 L395.43,142.78 L395.57,145.85 L395.72,149.02 L395.86,152.23 L396.00,155.44 L396.14,158.58 L396.28,161.61 L396.42,164.47 L396.56,167.13 L396.70,169.53 L396.84,171.63 L396.98,173.40 L397.12,174.82 L397.27,175.85 L397.41,176.48 L397.55,176.69 L397.69,176.49 L397.83,175.88 L397.97,174.87 L398.11,173.46 L398.25,171.70 L398.39,169.59 L398.53,167.19 L398.67,164.53 L398.82,161.65 L398.96,158.60 L399.10,155.44 L399.24,152.20 L399.38,148.96 L399.52,145.76 L399.66,142.65 L399.80,139.69 L399.94,136.93 L400.08,134.42 L400.23,132.19 L400.37,130.28 L400.51,128.73 L400.65,127.56 L400.79,126.79 L400.93,126.44 L401.07,126.51 L401.21,127.00 L401.35,127.90 L401.49,129.20 L401.63,130.88 L401.78,132.91 L401.92,135.25 L402.06,137.87 L402.20,140.73 L402.34,143.76 L402.48,146.93 L402.62,150.19 L402.76,153.46 L402.90,156.71 L403.04,159.87 L403.18,162.90 L403.33,165.73 L403.47,168.33 L403.61,170.65 L403.75,172.64 L403.89,174.28 L404.03,175.54 L404.17,176.39 L404.31,176.83 L404.45,176.83 L404.59,176.41 L404.74,175.56 L404.88,174.31 L405.02,172.67 L405.16,170.68 L405.30,168.35 L405.44,165.75 L405.58,162.89 L405.72,159.85 L405.86,156.66 L406.00,153.39 L406.14,150.08 L406.29,146.79 L406.43,143.59 L406.57,140.52 L406.71,137.64 L406.85,135.00 L406.99,132.64 L407.13,130.60 L407.27,128.92 L407.41,127.63 L407.55,126.74 L407.69,126.29 L407.84,126.26 L407.98,126.68 L408.12,127.52 L408.26,128.77 L408.40,130.42 L408.54,132.43 L408.68,134.78 L408.82,137.41 L408.96,140.29 L409.10,143.37 L409.25,146.59 L409.39,149.90 L409.53,153.24 L409.67,156.55 L409.81,159.78 L409.95,162.87 L410.09,165.77 L410.23,168.42 L410.37,170.79 L410.51,172.82 L410.65,174.49 L410.80,175.76 L410.94,176.61 L411.08,177.03 L411.22,177.01 L411.36,176.55 L411.50,175.65 L411.64,174.34 L411.78,172.63 L411.92,170.55 L412.06,168.14 L412.20,165.45 L412.35,162.51 L412.49,159.37 L412.63,156.11 L412.77,152.76 L412.91,149.38 L413.05,146.05 L413.19,142.81 L413.33,139.72 L413.47,136.84 L413.61,134.21 L413.76,131.89 L413.90,129.91 L414.04,128.31 L414.18,127.12 L414.32,126.35 L414.46,126.03 L414.60,126.16 L414.74,126.74 L414.88,127.75 L415.02,129.18 L415.16,131.01 L415.31,133.20 L415.45,135.71 L415.59,138.51 L415.73,141.54 L415.87,144.75 L416.01,148.08 L416.15,151.48 L416.29,154.88 L416.43,158.22 L416.57,161.45 L416.71,164.51 L416.86,167.34 L417.00,169.89 L417.14,172.12 L417.28,173.99 L417.42,175.46 L417.56,176.51 L417.70,177.12 L417.84,177.27 L417.98,176.97 L418.12,176.22 L418.27,175.03 L418.41,173.42 L418.55,171.42 L418.69,169.07 L418.83,166.40 L418.97,163.47 L419.11,160.33 L419.25,157.03 L419.39,153.63 L419.53,150.19 L419.67,146.77 L419.82,143.44 L419.96,140.25 L420.10,137.27 L420.24,134.54 L420.38,132.11 L420.52,130.03 L420.66,128.34 L420.80,127.06 L420.94,126.23 L421.08,125.84 L421.22,125.93 L421.37,126.47 L421.51,127.47 L421.65,128.90 L421.79,130.74 L421.93,132.96 L422.07,135.51 L422.21,138.36 L422.35,141.45 L422.49,144.72 L422.63,148.12 L422.77,151.59 L422.92,155.06 L423.06,158.46 L423.20,161.75 L423.34,164.85 L423.48,167.71 L423.62,170.29 L423.76,172.52 L423.90,174.38 L424.04,175.83 L424.18,176.83 L424.33,177.38 L424.47,177.46 L424.61,177.07 L424.75,176.21 L424.89,174.91 L425.03,173.17 L425.17,171.05 L425.31,168.57 L425.45,165.78 L425.59,162.72 L425.73,159.46 L425.88,156.06 L426.02,152.57 L426.16,149.06 L426.30,145.60 L426.44,142.24 L426.58,139.06 L426.72,136.10 L426.86,133.42 L427.00,131.08 L427.14,129.11 L427.28,127.56 L427.43,126.44 L427.57,125.79 L427.71,125.62 L427.85,125.92 L427.99,126.69 L428.13,127.93 L428.27,129.60 L428.41,131.68 L428.55,134.13 L428.69,136.90 L428.84,139.95 L428.98,143.21 L429.12,146.63 L429.26,150.15 L429.40,153.69 L429.54,157.20 L429.68,160.61 L429.82,163.85 L429.96,166.87 L430.10,169.60 L430.24,172.00 L430.39,174.02 L430.53,175.63 L430.67,176.79 L430.81,177.48 L430.95,177.69 L431.09,177.42 L431.23,176.66 L431.37,175.43 L431.51,173.76 L431.65,171.67 L431.79,169.21 L431.94,166.41 L432.08,163.34 L432.22,160.04 L432.36,156.58 L432.50,153.03 L432.64,149.45 L432.78,145.91 L432.92,142.47 L433.06,139.20 L433.20,136.16 L433.35,133.41 L433.49,131.00 L433.63,128.98 L433.77,127.38 L433.91,126.24 L434.05,125.58 L434.19,125.40 L434.33,125.72 L434.47,126.53 L434.61,127.82 L434.75,129.55 L434.90,131.71 L435.04,134.24 L435.18,137.10 L435.32,140.24 L435.46,143.59 L435.60,147.10 L435.74,150.70 L435.88,154.32 L436.02,157.89 L436.16,161.34 L436.30,164.61 L436.45,167.63 L436.59,170.35 L436.73,172.71 L436.87,174.67 L437.01,176.19 L437.15,177.25 L437.29,177.81 L437.43,177.88 L437.57,177.44 L437.71,176.51 L437.86,175.10 L438.00,173.24 L438.14,170.96 L438.28,168.31 L438.42,165.34 L438.56,162.10 L438.70,158.66 L438.84,155.08 L438.98,151.43 L439.12,147.78 L439.26,144.21 L439.41,140.77 L439.55,137.54 L439.69,134.58 L439.83,131.94 L439.97,129.69 L440.11,127.85 L440.25,126.47 L440.39,125.58 L440.53,125.19 L440.67,125.31 L440.81,125.95 L440.96,127.07 L441.10,128.68 L441.24,130.73 L441.38,133.19 L441.52,136.00 L441.66,139.13 L441.80,142.49 L441.94,146.04 L442.08,149.69 L442.22,153.39 L442.37,157.05 L442.51,160.61 L442.65,164.00 L442.79,167.15 L442.93,169.99 L443.07,172.48 L443.21,174.56 L443.35,176.19 L443.49,177.34 L443.63,177.99 L443.77,178.12 L443.92,177.73 L444.06,176.83 L444.20,175.43 L444.34,173.57 L444.48,171.27 L444.62,168.58 L444.76,165.55 L444.90,162.25 L445.04,158.74 L445.18,155.08 L445.32,151.35 L445.47,147.63 L445.61,143.98 L445.75,140.48 L445.89,137.19 L446.03,134.19 L446.17,131.53 L446.31,129.27 L446.45,127.45 L446.59,126.11 L446.73,125.27 L446.88,124.95 L447.02,125.16 L447.16,125.90 L447.30,127.15 L447.44,128.89 L447.58,131.08 L447.72,133.68 L447.86,136.64 L448.00,139.90 L448.14,143.40 L448.28,147.06 L448.43,150.82 L448.57,154.59 L448.71,158.31 L448.85,161.89 L448.99,165.27 L449.13,168.38 L449.27,171.16 L449.41,173.54 L449.55,175.49 L449.69,176.96 L449.83,177.92 L449.98,178.35 L450.12,178.24 L450.26,177.59 L450.40,176.42 L450.54,174.75 L450.68,172.61 L450.82,170.05 L450.96,167.11 L451.10,163.86 L451.24,160.35 L451.38,156.67 L451.53,152.88 L451.67,149.06 L451.81,145.29 L451.95,141.65 L452.09,138.21 L452.23,135.03 L452.37,132.19 L452.51,129.74 L452.65,127.74 L452.79,126.22 L452.94,125.21 L453.08,124.75 L453.22,124.83 L453.36,125.45 L453.50,126.61 L453.64,128.29 L453.78,130.43 L453.92,133.02 L454.06,135.98 L454.20,139.27 L454.34,142.82 L454.49,146.54 L454.63,150.37 L454.77,154.23 L454.91,158.04 L455.05,161.72 L455.19,165.19 L455.33,168.39 L455.47,171.24 L455.61,173.69 L455.75,175.69 L455.89,177.19 L456.04,178.16 L456.18,178.59 L456.32,178.46 L456.46,177.77 L456.60,176.54 L456.74,174.79 L456.88,172.56 L457.02,169.90 L457.16,166.85 L457.30,163.49 L457.45,159.87 L457.59,156.08 L457.73,152.20 L457.87,148.30 L458.01,144.46 L458.15,140.77 L458.29,137.31 L458.43,134.14 L458.57,131.33 L458.71,128.95 L458.85,127.03 L459.00,125.63 L459.14,124.77 L459.28,124.47 L459.42,124.74 L459.56,125.57 L459.70,126.95 L459.84,128.85 L459.98,131.23 L460.12,134.04 L460.26,137.21 L460.40,140.70 L460.55,144.41 L460.69,148.28 L460.83,152.23 L460.97,156.16 L461.11,160.00 L461.25,163.66 L461.39,167.08 L461.53,170.16 L461.67,172.86 L461.81,175.11 L461.96,176.86 L462.10,178.08 L462.24,178.74 L462.38,178.82 L462.52,178.32 L462.66,177.25 L462.80,175.64 L462.94,173.52 L463.08,170.92 L463.22,167.92 L463.36,164.56 L463.51,160.92 L463.65,157.08 L463.79,153.13 L463.93,149.13 L464.07,145.19 L464.21,141.38 L464.35,137.78 L464.49,134.48 L464.63,131.55 L464.77,129.04 L464.91,127.02 L465.06,125.52 L465.20,124.58 L465.34,124.22 L465.48,124.46 L465.62,125.27 L465.76,126.66 L465.90,128.58 L466.04,131.01 L466.18,133.88 L466.32,137.13 L466.47,140.70 L466.61,144.51 L466.75,148.48 L466.89,152.52 L467.03,156.54 L467.17,160.45 L467.31,164.18 L467.45,167.63 L467.59,170.74 L467.73,173.44 L467.87,175.66 L468.02,177.36 L468.16,178.50 L468.30,179.05 L468.44,179.01 L468.58,178.36 L468.72,177.13 L468.86,175.34 L469.00,173.03 L469.14,170.25 L469.28,167.06 L469.42,163.52 L469.57,159.72 L469.71,155.74 L469.85,151.67 L469.99,147.59 L470.13,143.59 L470.27,139.77 L470.41,136.21 L470.55,132.98 L470.69,130.16 L470.83,127.82 L470.98,125.99 L471.12,124.73 L471.26,124.07 L471.40,124.01 L471.54,124.57 L471.68,125.72 L471.82,127.45 L471.96,129.72 L472.10,132.48 L472.24,135.66 L472.38,139.20 L472.53,143.02 L472.67,147.03 L472.81,151.15 L472.95,155.28 L473.09,159.33 L473.23,163.22 L473.37,166.84 L473.51,170.13 L473.65,173.01 L473.79,175.41 L473.93,177.27 L474.08,178.57 L474.22,179.26 L474.36,179.32 L474.50,178.77 L474.64,177.60 L474.78,175.85 L474.92,173.55 L475.06,170.75 L475.20,167.52 L475.34,163.93 L475.48,160.05 L475.63,155.98 L475.77,151.81 L475.91,147.63 L476.05,143.54 L476.19,139.63 L476.33,135.98 L476.47,132.69 L476.61,129.82 L476.75,127.45 L476.89,125.62 L477.04,124.38 L477.18,123.77 L477.32,123.78 L477.46,124.43 L477.60,125.70 L477.74,127.57 L477.88,129.98 L478.02,132.89 L478.16,136.23 L478.30,139.93 L478.44,143.90 L478.59,148.04 L478.73,152.27 L478.87,156.49 L479.01,160.61 L479.15,164.51 L479.29,168.12 L479.43,171.36 L479.57,174.14 L479.71,176.41 L479.85,178.10 L479.99,179.18 L480.14,179.63 L480.28,179.43 L480.42,178.58 L480.56,177.11 L480.70,175.05 L480.84,172.44 L480.98,169.34 L481.12,165.83 L481.26,161.98 L481.40,157.90 L481.55,153.66 L481.69,149.36 L481.83,145.12 L481.97,141.03 L482.11,137.18 L482.25,133.66 L482.39,130.56 L482.53,127.95 L482.67,125.89 L482.81,124.43 L482.95,123.60 L483.10,123.44 L483.24,123.93 L483.38,125.08 L483.52,126.85 L483.66,129.20 L483.80,132.09 L483.94,135.43 L484.08,139.17 L484.22,143.19 L484.36,147.42 L484.50,151.75 L484.65,156.09 L484.79,160.32 L484.93,164.34 L485.07,168.07 L485.21,171.41 L485.35,174.28 L485.49,176.62 L485.63,178.36 L485.77,179.47 L485.91,179.92 L486.06,179.69 L486.20,178.79 L486.34,177.24 L486.48,175.07 L486.62,172.35 L486.76,169.12 L486.90,165.47 L487.04,161.49 L487.18,157.27 L487.32,152.90 L487.46,148.51 L487.61,144.18 L487.75,140.02 L487.89,136.15 L488.03,132.64 L488.17,129.58 L488.31,127.05 L488.45,125.12 L488.59,123.82 L488.73,123.19 L488.87,123.25 L489.01,124.00 L489.16,125.41 L489.30,127.46 L489.44,130.10 L489.58,133.27 L489.72,136.88 L489.86,140.85 L490.00,145.09 L490.14,149.49 L490.28,153.95 L490.42,158.35 L490.57,162.59 L490.71,166.57 L490.85,170.19 L490.99,173.35 L491.13,175.98 L491.27,178.02 L491.41,179.41 L491.55,180.12 L491.69,180.13 L491.83,179.44 L491.97,178.06 L492.12,176.03 L492.26,173.40 L492.40,170.22 L492.54,166.59 L492.68,162.58 L492.82,158.29 L492.96,153.84 L493.10,149.32 L493.24,144.86 L493.38,140.56 L493.52,136.53 L493.67,132.87 L493.81,129.68 L493.95,127.02 L494.09,124.98 L494.23,123.60 L494.37,122.91 L494.51,122.94 L494.65,123.69 L494.79,125.13 L494.93,127.24 L495.08,129.96 L495.22,133.22 L495.36,136.95 L495.50,141.05 L495.64,145.42 L495.78,149.95 L495.92,154.52 L496.06,159.03 L496.20,163.35 L496.34,167.38 L496.48,171.01 L496.63,174.16 L496.77,176.74 L496.91,178.69 L497.05,179.95 L497.19,180.49 L497.33,180.31 L497.47,179.39 L497.61,177.77 L497.75,175.48 L497.89,172.58 L498.03,169.15 L498.18,165.26 L498.32,161.02 L498.46,156.54 L498.60,151.92 L498.74,147.30 L498.88,142.78 L499.02,138.48 L499.16,134.51 L499.30,130.98 L499.44,127.97 L499.58,125.57 L499.73,123.84 L499.87,122.82 L500.01,122.53 L500.15,123.00 L500.29,124.21 L500.43,126.12 L500.57,128.70 L500.71,131.86 L500.85,135.55 L500.99,139.65 L501.14,144.07 L501.28,148.68 L501.42,153.38 L501.56,158.04 L501.70,162.53 L501.84,166.74 L501.98,170.56 L502.12,173.89 L502.26,176.64 L502.40,178.74 L502.54,180.14 L502.69,180.78 L502.83,180.67 L502.97,179.79 L503.11,178.17 L503.25,175.85 L503.39,172.89 L503.53,169.37 L503.67,165.38 L503.81,161.02 L503.95,156.41 L504.09,151.67 L504.24,146.92 L504.38,142.29 L504.52,137.90 L504.66,133.87 L504.80,130.30 L504.94,127.30 L505.08,124.94 L505.22,123.28 L505.36,122.38 L505.50,122.25 L505.65,122.91 L505.79,124.33 L505.93,126.48 L506.07,129.30 L506.21,132.73 L506.35,136.66 L506.49,140.99 L506.63,145.62 L506.77,150.41 L506.91,155.23 L507.05,159.97 L507.20,164.48 L507.34,168.65 L507.48,172.37 L507.62,175.53 L507.76,178.04 L507.90,179.85 L508.04,180.89 L508.18,181.14 L508.32,180.59 L508.46,179.26 L508.60,177.17 L508.75,174.39 L508.89,170.98 L509.03,167.05 L509.17,162.68 L509.31,158.02 L509.45,153.17 L509.59,148.27 L509.73,143.46 L509.87,138.87 L510.01,134.62 L510.16,130.83 L510.30,127.61 L510.44,125.04 L510.58,123.20 L510.72,122.14 L510.86,121.89 L511.00,122.46 L511.14,123.83 L511.28,125.97 L511.42,128.82 L511.56,132.30 L511.71,136.32 L511.85,140.77 L511.99,145.52 L512.13,150.45 L512.27,155.41 L512.41,160.28 L512.55,164.90 L512.69,169.16 L512.83,172.94 L512.97,176.12 L513.11,178.63 L513.26,180.38 L513.40,181.32 L513.54,181.44 L513.68,180.72 L513.82,179.18 L513.96,176.86 L514.10,173.84 L514.24,170.18 L514.38,166.00 L514.52,161.40 L514.67,156.53 L514.81,151.50 L514.95,146.48 L515.09,141.60 L515.23,136.99 L515.37,132.80 L515.51,129.13 L515.65,126.09 L515.79,123.78 L515.93,122.26 L516.07,121.57 L516.22,121.74 L516.36,122.76 L516.50,124.60 L516.64,127.22 L516.78,130.54 L516.92,134.46 L517.06,138.88 L517.20,143.68 L517.34,148.70 L517.48,153.81 L517.62,158.87 L517.77,163.72 L517.91,168.23 L518.05,172.26 L518.19,175.70 L518.33,178.45 L518.47,180.42 L518.61,181.56 L518.75,181.83 L518.89,181.23 L519.03,179.76 L519.18,177.47 L519.32,174.43 L519.46,170.72 L519.60,166.44 L519.74,161.73 L519.88,156.72 L520.02,151.55 L520.16,146.37 L520.30,141.35 L520.44,136.62 L520.58,132.32 L520.73,128.59 L520.87,125.52 L521.01,123.23 L521.15,121.76 L521.29,121.18 L521.43,121.50 L521.57,122.70 L521.71,124.76 L521.85,127.62 L521.99,131.20 L522.13,135.38 L522.28,140.05 L522.42,145.08 L522.56,150.30 L522.70,155.56 L522.84,160.72 L522.98,165.60 L523.12,170.08 L523.26,174.00 L523.40,177.26 L523.54,179.76 L523.68,181.41 L523.83,182.17 L523.97,182.00 L524.11,180.93 L524.25,178.96 L524.39,176.17 L524.53,172.64 L524.67,168.46 L524.81,163.77 L524.95,158.70 L525.09,153.41 L525.24,148.06 L525.38,142.81 L525.52,137.83 L525.66,133.25 L525.80,129.23 L525.94,125.89 L526.08,123.33 L526.22,121.63 L526.36,120.85 L526.50,121.01 L526.64,122.10 L526.79,124.11 L526.93,126.96 L527.07,130.57 L527.21,134.84 L527.35,139.63 L527.49,144.79 L527.63,150.17 L527.77,155.60 L527.91,160.92 L528.05,165.95 L528.19,170.54 L528.34,174.55 L528.48,177.85 L528.62,180.34 L528.76,181.93 L528.90,182.58 L529.04,182.27 L529.18,180.99 L529.32,178.79 L529.46,175.74 L529.60,171.93 L529.75,167.47 L529.89,162.51 L530.03,157.20 L530.17,151.70 L530.31,146.20 L530.45,140.86 L530.59,135.85 L530.73,131.34 L530.87,127.46 L531.01,124.34 L531.15,122.08 L531.30,120.76 L531.44,120.42 L531.58,121.07 L531.72,122.69 L531.86,125.24 L532.00,128.64 L532.14,132.77 L532.28,137.51 L532.42,142.71 L532.56,148.21 L532.70,153.81 L532.85,159.36 L532.99,164.66 L533.13,169.55 L533.27,173.86 L533.41,177.46 L533.55,180.23 L533.69,182.08 L533.83,182.94 L533.97,182.78 L534.11,181.61 L534.26,179.46 L534.40,176.41 L534.54,172.54 L534.68,167.98 L534.82,162.88 L534.96,157.40 L535.10,151.73 L535.24,146.04 L535.38,140.53 L535.52,135.38 L535.66,130.75 L535.81,126.81 L535.95,123.67 L536.09,121.46 L536.23,120.23 L536.37,120.05 L536.51,120.91 L536.65,122.78 L536.79,125.62 L536.93,129.33 L537.07,133.78 L537.21,138.83 L537.36,144.31 L537.50,150.05 L537.64,155.84 L537.78,161.50 L537.92,166.84 L538.06,171.67 L538.20,175.83 L538.34,179.19 L538.48,181.62 L538.62,183.04 L538.77,183.40 L538.91,182.69 L539.05,180.93 L539.19,178.17 L539.33,174.50 L539.47,170.05 L539.61,164.97 L539.75,159.43 L539.89,153.61 L540.03,147.71 L540.17,141.94 L540.32,136.49 L540.46,131.56 L540.60,127.30 L540.74,123.87 L540.88,121.38 L541.02,119.94 L541.16,119.58 L541.30,120.33 L541.44,122.16 L541.58,125.00 L541.72,128.78 L541.87,133.35 L542.01,138.56 L542.15,144.23 L542.29,150.16 L542.43,156.16 L542.57,162.00 L542.71,167.49 L542.85,172.43 L542.99,176.65 L543.13,179.99 L543.28,182.35 L543.42,183.63 L543.56,183.78 L543.70,182.80 L543.84,180.72 L543.98,177.61 L544.12,173.57 L544.26,168.75 L544.40,163.31 L544.54,157.45 L544.68,151.38 L544.83,145.30 L544.97,139.44 L545.11,134.00 L545.25,129.19 L545.39,125.16 L545.53,122.08 L545.67,120.06 L545.81,119.16 L545.95,119.42 L546.09,120.85 L546.23,123.39 L546.38,126.94 L546.52,131.40 L546.66,136.59 L546.80,142.33 L546.94,148.42 L547.08,154.63 L547.22,160.75 L547.36,166.53 L547.50,171.79 L547.64,176.31 L547.78,179.94 L547.93,182.53 L548.07,184.00 L548.21,184.28 L548.35,183.35 L548.49,181.26 L548.63,178.07 L548.77,173.90 L548.91,168.90 L549.05,163.25 L549.19,157.16 L549.34,150.86 L549.48,144.57 L549.62,138.53 L549.76,132.97 L549.90,128.10 L550.04,124.10 L550.18,121.12 L550.32,119.28 L550.46,118.64 L550.60,119.25 L550.74,121.07 L550.89,124.04 L551.03,128.06 L551.17,132.97 L551.31,138.59 L551.45,144.72 L551.59,151.12 L551.73,157.54 L551.87,163.75 L552.01,169.51 L552.15,174.60 L552.29,178.81 L552.44,181.99 L552.58,184.01 L552.72,184.79 L552.86,184.30 L553.00,182.55 L553.14,179.61 L553.28,175.58 L553.42,170.62 L553.56,164.91 L553.70,158.68 L553.85,152.17 L553.99,145.62 L554.13,139.29 L554.27,133.44 L554.41,128.28 L554.55,124.02 L554.69,120.84 L554.83,118.85 L554.97,118.15 L555.11,118.76 L555.25,120.66 L555.40,123.78 L555.54,128.01 L555.68,133.18 L555.82,139.08 L555.96,145.49 L556.10,152.15 L556.24,158.81 L556.38,165.19 L556.52,171.03 L556.66,176.11 L556.80,180.22 L556.95,183.19 L557.09,184.90 L557.23,185.28 L557.37,184.30 L557.51,182.00 L557.65,178.47 L557.79,173.85 L557.93,168.32 L558.07,162.11 L558.21,155.45 L558.36,148.63 L558.50,141.92 L558.64,135.59 L558.78,129.90 L558.92,125.09 L559.06,121.36 L559.20,118.86 L559.34,117.70 L559.48,117.94 L559.62,119.56 L559.76,122.51 L559.91,126.66 L560.05,131.86 L560.19,137.88 L560.33,144.49 L560.47,151.40 L560.61,158.33 L560.75,165.00 L560.89,171.11 L561.03,176.43 L561.17,180.71 L561.31,183.77 L561.46,185.49 L561.60,185.79 L561.74,184.64 L561.88,182.09 L562.02,178.25 L562.16,173.27 L562.30,167.36 L562.44,160.77 L562.58,153.78 L562.72,146.68 L562.87,139.78 L563.01,133.37 L563.15,127.73 L563.29,123.11 L563.43,119.70 L563.57,117.66 L563.71,117.08 L563.85,117.99 L563.99,120.36 L564.13,124.09 L564.27,129.02 L564.42,134.94 L564.56,141.60 L564.70,148.71 L564.84,155.96 L564.98,163.04 L565.12,169.62 L565.26,175.42 L565.40,180.19 L565.54,183.71 L565.68,185.81 L565.82,186.40 L565.97,185.46 L566.11,183.00 L566.25,179.15 L566.39,174.06 L566.53,167.96 L566.67,161.11 L566.81,153.82 L566.95,146.42 L567.09,139.24 L567.23,132.60 L567.38,126.81 L567.52,122.12 L567.66,118.75 L567.80,116.87 L567.94,116.57 L568.08,117.85 L568.22,120.68 L568.36,124.92 L568.50,130.40 L568.64,136.85 L568.78,144.00 L568.93,151.51 L569.07,159.04 L569.21,166.24 L569.35,172.78 L569.49,178.35 L569.63,182.70 L569.77,185.60 L569.91,186.93 L570.05,186.62 L570.19,184.66 L570.33,181.16 L570.48,176.26 L570.62,170.19 L570.76,163.23 L570.90,155.71 L571.04,147.98 L571.18,140.40 L571.32,133.34 L571.46,127.13 L571.60,122.08 L571.74,118.42 L571.88,116.34 L572.03,115.94 L572.17,117.25 L572.31,120.22 L572.45,124.70 L572.59,130.49 L572.73,137.32 L572.87,144.85 L573.01,152.72 L573.15,160.56 L573.29,167.98 L573.44,174.62 L573.58,180.14 L573.72,184.28 L573.86,186.83 L574.00,187.64 L574.14,186.68 L574.28,183.99 L574.42,179.69 L574.56,173.99 L574.70,167.16 L574.84,159.54 L574.99,151.51 L575.13,143.46 L575.27,135.81 L575.41,128.92 L575.55,123.17 L575.69,118.83 L575.83,116.13 L575.97,115.23 L576.11,116.16 L576.25,118.90 L576.39,123.31 L576.54,129.17 L576.68,136.19 L576.82,144.01 L576.96,152.25 L577.10,160.47 L577.24,168.25 L577.38,175.19 L577.52,180.93 L577.66,185.16 L577.80,187.66 L577.95,188.28 L578.09,187.00 L578.23,183.86 L578.37,179.02 L578.51,172.73 L578.65,165.31 L578.79,157.15 L578.93,148.68 L579.07,140.34 L579.21,132.58 L579.35,125.81 L579.50,120.40 L579.64,116.65 L579.78,114.75 L579.92,114.83 L580.06,116.89 L580.20,120.82 L580.34,126.42 L580.48,133.40 L580.62,141.39 L580.76,149.95 L580.90,158.62 L581.05,166.94 L581.19,174.43 L581.33,180.69 L581.47,185.37 L581.61,188.19 L581.75,189.01 L581.89,187.75 L582.03,184.48 L582.17,179.38 L582.31,172.71 L582.46,164.85 L582.60,156.22 L582.74,147.32 L582.88,138.62 L583.02,130.64 L583.16,123.82 L583.30,118.56 L583.44,115.16 L583.58,113.83 L583.72,114.65 L583.86,117.59 L584.01,122.48 L584.15,129.06 L584.29,136.96 L584.43,145.73 L584.57,154.86 L584.71,163.82 L584.85,172.10 L584.99,179.21 L585.13,184.72 L585.27,188.30 L585.41,189.74 L585.56,188.93 L585.70,185.92 L585.84,180.87 L585.98,174.06 L586.12,165.90 L586.26,156.86 L586.40,147.48 L586.54,138.32 L586.68,129.94 L586.82,122.83 L586.97,117.45 L587.11,114.12 L587.25,113.05 L587.39,114.33 L587.53,117.89 L587.67,123.52 L587.81,130.89 L587.95,139.56 L588.09,149.00 L588.23,158.63 L588.37,167.84 L588.52,176.08 L588.66,182.81 L588.80,187.61 L588.94,190.17 L589.08,190.31 L589.22,188.01 L589.36,183.40 L589.50,176.76 L589.64,168.50 L589.78,159.14 L589.92,149.27 L590.07,139.52 L590.21,130.51 L590.35,122.84 L590.49,117.00 L590.63,113.38 L590.77,112.24 L590.91,113.66 L591.05,117.57 L591.19,123.72 L591.33,131.72 L591.48,141.06 L591.62,151.12 L591.76,161.25 L591.90,170.77 L592.04,179.04 L592.18,185.50 L592.32,189.71 L592.46,191.36 L592.60,190.34 L592.74,186.69 L592.88,180.64 L593.03,172.60 L593.17,163.09 L593.31,152.77 L593.45,142.33 L593.59,132.50 L593.73,123.95 L593.87,117.29 L594.01,113.00 L594.15,111.39 L594.29,112.59 L594.43,116.54 L594.58,122.97 L594.72,131.44 L594.86,141.38 L595.00,152.07 L595.14,162.77 L595.28,172.71 L595.42,181.16 L595.56,187.51 L595.70,191.29 L595.84,192.20 L595.98,190.16 L596.13,185.30 L596.27,177.95 L596.41,168.63 L596.55,158.03 L596.69,146.91 L596.83,136.10 L596.97,126.41 L597.11,118.57 L597.25,113.17 L597.39,110.65 L597.54,111.21 L597.68,114.84 L597.82,121.28 L597.96,130.06 L598.10,140.52 L598.24,151.87 L598.38,163.24 L598.52,173.75 L598.66,182.58 L598.80,189.03 L598.94,192.58 L599.09,192.91 L599.23,189.99 L599.37,184.02 L599.51,175.45 L599.65,164.95 L599.79,153.34 L599.93,141.54 L600.07,130.51 L600.21,121.14 L600.35,114.21 L600.49,110.30 L600.64,109.76 L600.78,112.65 L600.92,118.77 L601.06,127.64 L601.20,138.53 L601.34,150.56 L601.48,162.73 L601.62,174.01 L601.76,183.44 L601.90,190.21 L602.05,193.71 L602.19,193.63 L602.33,189.94 L602.47,182.93 L602.61,173.17 L602.75,161.50 L602.89,148.91 L603.03,136.50 L603.17,125.38 L603.31,116.52 L603.45,110.74 L603.60,108.58 L603.74,110.27 L603.88,115.68 L604.02,124.36 L604.16,135.56 L604.30,148.27 L604.44,161.34 L604.58,173.58 L604.72,183.83 L604.86,191.14 L605.00,194.80 L605.15,194.42 L605.29,190.01 L605.43,181.95 L605.57,170.96 L605.71,158.07 L605.85,144.50 L605.99,131.55 L606.13,120.49 L606.27,112.39 L606.41,108.10 L606.56,108.06 L606.70,112.32 L606.84,120.50 L606.98,131.82 L607.12,145.19 L607.26,159.27 L607.40,172.64 L607.54,183.94 L607.68,191.98 L607.82,195.91 L607.96,195.28 L608.11,190.10 L608.25,180.87 L608.39,168.51 L608.53,154.30 L608.67,139.73 L608.81,126.34 L608.95,115.60 L609.09,108.69 L609.23,106.41 L609.37,109.05 L609.51,116.38 L609.66,127.64 L609.80,141.63 L609.94,156.82 L610.08,171.51 L610.22,184.03 L610.36,192.93 L610.50,197.15 L610.64,196.15 L610.78,189.98 L610.92,179.29 L611.07,165.29 L611.21,149.59 L611.35,134.02 L611.49,120.47 L611.63,110.57 L611.77,105.58 L611.91,106.17 L612.05,112.35 L612.19,123.41 L612.33,138.06 L612.47,154.51 L612.62,170.69 L612.76,184.57 L612.90,194.33 L613.04,198.65 L613.18,196.90 L613.32,189.21 L613.46,176.52 L613.60,160.43 L613.74,143.04 L613.88,126.67 L614.02,113.55 L614.17,105.53 L614.31,103.78 L614.45,108.66 L614.59,119.59 L614.73,135.12 L614.87,153.12 L615.01,171.06 L615.15,186.35 L615.29,196.70 L615.43,200.53 L615.58,197.14 L615.72,186.91 L615.86,171.26 L616.00,152.48 L616.14,133.37 L616.28,116.90 L616.42,105.68 L616.56,101.59 L616.70,105.42 L616.84,116.71 L616.98,133.78 L617.13,153.97 L617.27,173.99 L617.41,190.50 L617.55,200.63 L617.69,202.53 L617.83,195.66 L617.97,181.04 L618.11,161.05 L618.25,139.11 L618.39,119.13 L618.53,104.79 L618.68,98.87 L618.82,102.68 L618.96,115.77 L619.10,135.88 L619.24,159.33 L619.38,181.63 L619.52,198.34 L619.66,205.95 L619.80,202.66 L619.94,188.81 L620.09,166.97 L620.23,141.49 L620.37,117.71 L620.51,100.86 L620.65,94.88 L620.79,101.48 L620.93,119.59 L621.07,145.45 L621.21,173.29 L621.35,196.56 L621.49,209.46 L621.64,208.41 L621.78,193.11 L621.92,166.89 L622.06,136.07 L622.20,108.59 L622.34,92.00 L622.48,91.33 L622.62,107.50 L622.76,136.70 L622.90,171.05 L623.04,200.59 L623.19,216.08 L623.33,211.96 L623.47,188.47 L623.61,152.19 L623.75,114.54 L623.89,88.37 L624.03,83.60 L624.17,103.33 L624.31,141.80 L624.45,185.49 L624.59,217.44 L624.74,223.68 L624.88,199.62 L625.02,153.41 L625.16,104.28 L625.30,75.26 L625.44,82.56 L625.58,125.93 L625.72,185.60 L625.86,229.41 L626.00,229.21 L626.15,179.59 L626.29,107.39 L626.43,61.57 L626.57,82.28 L626.71,164.05 L626.85,243.04 L626.99,258.78 L627.13,127.85 L627.27,32.96 L627.41,198.21 L627.55,162.49 L627.70,121.27 L627.84,173.71 L627.98,145.41 L628.12,147.30 L628.26,158.16 L628.40,147.68 L628.54,152.17 L628.68,152.83 L628.82,150.26 L628.96,152.25 L629.10,151.62 L629.25,151.30 L629.39,151.86 L629.53,151.50 L629.67,151.57 L629.81,151.67 L629.95,151.55 L630.09,151.61 L630.23,151.61 L630.37,151.59 L630.51,151.61 L630.66,151.60 L630.80,151.60 L630.94,151.60 L631.08,151.60 L631.22,151.60 L631.36,151.60 L631.50,151.60 L631.64,151.60 L631.78,151.60 L631.92,151.60 L632.06,151.60 L632.21,151.60 L632.35,151.60 L632.49,151.60 L632.63,151.60 L632.77,151.60 L632.91,151.60 L633.05,151.60 L633.19,151.60 L633.33,151.60 L633.47,151.60 L633.61,151.60 L633.76,151.60 L633.90,151.60 L634.04,151.60 L634.18,151.60 L634.32,151.60 L634.46,151.60 L634.60,151.60 L634.74,151.60 L634.88,151.60 L635.02,151.60 L635.17,151.60 L635.31,151.60 L635.45,151.60 L635.59,151.60 L635.73,151.60 L635.87,151.60 L636.01,151.60 L636.15,151.60 L636.29,151.60 L636.43,151.60 L636.57,151.60 L636.72,151.60 L636.86,151.60 L637.00,151.60 L637.14,151.60 L637.28,151.60 L637.42,151.60 L637.56,151.60 L637.70,151.60 L637.84,151.60 L637.98,151.60 L638.12,151.60 L638.27,151.60 L638.41,151.60 L638.55,151.60 L638.69,151.60" stroke="#dd8452" stroke-width="1.5" stroke-linecap="square"/>
</g>
<text x="49.80" y="301.40" font-family="Liberation Sans, Arial, sans-serif" stroke="#262626" stroke-width="0.25" font-size="17.0" fill="#262626" text-anchor="middle">−1.0</text>
<text x="165.25" y="301.40" font-family="Liberation Sans, Arial, sans-serif" stroke="#262626" stroke-width="0.25" font-size="17.0" fill="#262626" text-anchor="middle">−0.8</text>
<text x="280.71" y="301.40" font-family="Liberation Sans, Arial, sans-serif" stroke="#262626" stroke-width="0.25" font-size="17.0" fill="#262626" text-anchor="middle">−0.6</text>
<text x="396.16" y="301.40" font-family="Liberation Sans, Arial, sans-serif" stroke="#262626" stroke-width="0.25" font-size="17.0" fill="#262626" text-anchor="middle">−0.4</text>
<text x="511.62" y="301.40" font-family="Liberation Sans, Arial, sans-serif" stroke="#262626" stroke-width="0.25" font-size="17.0" fill="#262626" text-anchor="middle">−0.2</text>
<text x="627.07" y="301.40" font-family="Liberation Sans, Arial, sans-serif" stroke="#262626" stroke-width="0.25" font-size="17.0" fill="#262626" text-anchor="middle">0.0</text>
<text x="40.7" y="257.40" font-family="Liberation Sans, Arial, sans-serif" stroke="#262626" stroke-width="0.25" font-size="17.0" fill="#262626" text-anchor="end">−2</text>
<text x="40.7" y="207.55" font-family="Liberation Sans, Arial, sans-serif" stroke="#262626" stroke-width="0.25" font-size="17.0" fill="#262626" text-anchor="end">−1</text>
<text x="40.7" y="157.70" font-family="Liberation Sans, Arial, sans-serif" stroke="#262626" stroke-width="0.25" font-size="17.0" fill="#262626" text-anchor="end">0</text>
<text x="40.7" y="107.85" font-family="Liberation Sans, Arial, sans-serif" stroke="#262626" stroke-width="0.25" font-size="17.0" fill="#262626" text-anchor="end">1</text>
<text x="40.7" y="58.00" font-family="Liberation Sans, Arial, sans-serif" stroke="#262626" stroke-width="0.25" font-size="17.0" fill="#262626" text-anchor="end">2</text>
<text x="50.4" y="19.60" font-family="Liberation Sans, Arial, sans-serif" stroke="#262626" stroke-width="0.25" font-size="14.7" fill="#262626">1e−21</text>
<text x="367.80" y="16.00" font-family="Liberation Sans, Arial, sans-serif" stroke="#262626" stroke-width="0.25" font-size="22.7" fill="#262626" text-anchor="middle">5Mo | 5Mo | 50Mpc</text>
<text x="367.70" y="322.80" font-family="Liberation Sans, Arial, sans-serif" stroke="#262626" stroke-width="0.25" font-size="18.95" fill="#262626" text-anchor="middle">Time (sec)</text>
<text transform="translate(14.7,152.65) rotate(-90)" font-family="Liberation Sans, Arial, sans-serif" stroke="#262626" stroke-width="0.25" font-size="18.8" fill="#262626" text-anchor="middle">Strain</text>
<rect x="57.4" y="30.00" width="177.6" height="46.1" rx="3" ry="3" fill="#e2e2ea" fill-opacity="0.8" stroke="#cccccc" stroke-width="1.1"/>
<path d="M63.1,41.20 H93.4" stroke="#4c72b0" stroke-width="1.45" stroke-dasharray="5.3 2.3" fill="none"/>
<path d="M63,62.40 H94.2" stroke="#dd8452" stroke-width="1.45" fill="none"/>
<text x="106.2" y="46.30" font-family="Liberation Sans, Arial, sans-serif" stroke="#262626" stroke-width="0.25" font-size="15.25" fill="#262626">Plus Polarization</text>
<text x="106.2" y="67.30" font-family="Liberation Sans, Arial, sans-serif" stroke="#262626" stroke-width="0.25" font-size="15.25" fill="#262626">Cross Polarization</text>
<rect x="50.0" y="364.8" width="635.0" height="256.2" fill="#e2e2ea"/>
<path d="M165.50,364.8 V621.0 M280.50,364.8 V621.0 M396.50,364.8 V621.0 M511.50,364.8 V621.0 M627.50,364.8 V621.0 M50.0,594.50 H685.0 M50.0,544.50 H685.0 M50.0,494.50 H685.0 M50.0,444.50 H685.0 M50.0,394.50 H685.0" stroke="#ffffff" stroke-width="1.2" fill="none" clip-path="url(#c2)"/>
<g clip-path="url(#c2)" fill="none" stroke-linejoin="round">
<path d="M257.59,536.04 L257.73,535.84 L257.87,535.63 L258.01,535.41 L258.15,535.19 L258.29,534.96 L258.43,534.71 L258.57,534.46 L258.71,534.20 L258.86,533.94 L259.00,533.66 L259.14,533.38 L259.28,533.08 L259.42,532.78 L259.56,532.47 L259.70,532.15 L259.84,531.83 L259.98,531.49 L260.12,531.15 L260.27,530.80 L260.41,530.44 L260.55,530.07 L260.69,529.70 L260.83,529.32 L260.97,528.93 L261.11,528.53 L261.25,528.12 L261.39,527.71 L261.53,527.29 L261.67,526.86 L261.82,526.42 L261.96,525.98 L262.10,525.52 L262.24,525.07 L262.38,524.60 L262.52,524.13 L262.66,523.65 L262.80,523.16 L262.94,522.67 L263.08,522.17 L263.22,521.66 L263.37,521.15 L263.51,520.63 L263.65,520.10 L263.79,519.57 L263.93,519.03 L264.07,518.48 L264.21,517.93 L264.35,517.38 L264.49,516.81 L264.63,516.25 L264.77,515.67 L264.92,515.09 L265.06,514.51 L265.20,513.92 L265.34,513.32 L265.48,512.72 L265.62,512.12 L265.76,511.51 L265.90,510.90 L266.04,510.28 L266.18,509.66 L266.33,509.03 L266.47,508.40 L266.61,507.76 L266.75,507.13 L266.89,506.48 L267.03,505.84 L267.17,505.19 L267.31,504.54 L267.45,503.88 L267.59,503.23 L267.73,502.56 L267.88,501.90 L268.02,501.24 L268.16,500.57 L268.30,499.90 L268.44,499.23 L268.58,498.55 L268.72,497.88 L268.86,497.20 L269.00,496.52 L269.14,495.84 L269.28,495.16 L269.43,494.48 L269.57,493.80 L269.71,493.11 L269.85,492.43 L269.99,491.74 L270.13,491.06 L270.27,490.37 L270.41,489.68 L270.55,489.00 L270.69,488.31 L270.84,487.62 L270.98,486.94 L271.12,486.25 L271.26,485.57 L271.40,484.89 L271.54,484.20 L271.68,483.52 L271.82,482.85 L271.96,482.17 L272.10,481.50 L272.24,480.82 L272.39,480.15 L272.53,479.49 L272.67,478.82 L272.81,478.16 L272.95,477.51 L273.09,476.85 L273.23,476.20 L273.37,475.56 L273.51,474.91 L273.65,474.28 L273.79,473.64 L273.94,473.01 L274.08,472.39 L274.22,471.77 L274.36,471.16 L274.50,470.55 L274.64,469.95 L274.78,469.35 L274.92,468.76 L275.06,468.17 L275.20,467.60 L275.35,467.02 L275.49,466.46 L275.63,465.90 L275.77,465.35 L275.91,464.80 L276.05,464.27 L276.19,463.74 L276.33,463.22 L276.47,462.70 L276.61,462.20 L276.75,461.70 L276.90,461.21 L277.04,460.73 L277.18,460.26 L277.32,459.79 L277.46,459.34 L277.60,458.89 L277.74,458.46 L277.88,458.03 L278.02,457.61 L278.16,457.20 L278.30,456.81 L278.45,456.42 L278.59,456.04 L278.73,455.67 L278.87,455.31 L279.01,454.96 L279.15,454.62 L279.29,454.29 L279.43,453.97 L279.57,453.66 L279.71,453.37 L279.86,453.08 L280.00,452.81 L280.14,452.54 L280.28,452.29 L280.42,452.04 L280.56,451.81 L280.70,451.59 L280.84,451.38 L280.98,451.18 L281.12,450.99 L281.26,450.81 L281.41,450.65 L281.55,450.49 L281.69,450.35 L281.83,450.22 L281.97,450.09 L282.11,449.98 L282.25,449.89 L282.39,449.80 L282.53,449.72 L282.67,449.66 L282.81,449.60 L282.96,449.56 L283.10,449.53 L283.24,449.51 L283.38,449.50 L283.52,449.50 L283.66,449.52 L283.80,449.54 L283.94,449.58 L284.08,449.62 L284.22,449.68 L284.37,449.75 L284.51,449.83 L284.65,449.92 L284.79,450.02 L284.93,450.13 L285.07,450.25 L285.21,450.39 L285.35,450.53 L285.49,450.69 L285.63,450.85 L285.77,451.03 L285.92,451.21 L286.06,451.41 L286.20,451.62 L286.34,451.84 L286.48,452.06 L286.62,452.30 L286.76,452.55 L286.90,452.81 L287.04,453.08 L287.18,453.35 L287.32,453.64 L287.47,453.94 L287.61,454.25 L287.75,454.56 L287.89,454.89 L288.03,455.23 L288.17,455.57 L288.31,455.93 L288.45,456.29 L288.59,456.67 L288.73,457.05 L288.88,457.44 L289.02,457.84 L289.16,458.25 L289.30,458.67 L289.44,459.09 L289.58,459.53 L289.72,459.97 L289.86,460.42 L290.00,460.88 L290.14,461.35 L290.28,461.83 L290.43,462.31 L290.57,462.80 L290.71,463.30 L290.85,463.81 L290.99,464.32 L291.13,464.84 L291.27,465.37 L291.41,465.91 L291.55,466.45 L291.69,467.00 L291.83,467.56 L291.98,468.12 L292.12,468.69 L292.26,469.27 L292.40,469.85 L292.54,470.44 L292.68,471.03 L292.82,471.64 L292.96,472.24 L293.10,472.85 L293.24,473.47 L293.38,474.10 L293.53,474.72 L293.67,475.36 L293.81,476.00 L293.95,476.64 L294.09,477.29 L294.23,477.94 L294.37,478.60 L294.51,479.26 L294.65,479.93 L294.79,480.60 L294.94,481.27 L295.08,481.95 L295.22,482.63 L295.36,483.31 L295.50,484.00 L295.64,484.69 L295.78,485.39 L295.92,486.08 L296.06,486.78 L296.20,487.48 L296.34,488.19 L296.49,488.89 L296.63,489.60 L296.77,490.31 L296.91,491.02 L297.05,491.74 L297.19,492.45 L297.33,493.17 L297.47,493.89 L297.61,494.61 L297.75,495.32 L297.89,496.04 L298.04,496.76 L298.18,497.48 L298.32,498.20 L298.46,498.92 L298.60,499.64 L298.74,500.36 L298.88,501.07 L299.02,501.79 L299.16,502.51 L299.30,503.22 L299.45,503.93 L299.59,504.64 L299.73,505.35 L299.87,506.06 L300.01,506.76 L300.15,507.46 L300.29,508.16 L300.43,508.86 L300.57,509.55 L300.71,510.25 L300.85,510.93 L301.00,511.62 L301.14,512.30 L301.28,512.97 L301.42,513.65 L301.56,514.32 L301.70,514.98 L301.84,515.64 L301.98,516.29 L302.12,516.94 L302.26,517.59 L302.40,518.23 L302.55,518.86 L302.69,519.49 L302.83,520.11 L302.97,520.73 L303.11,521.34 L303.25,521.95 L303.39,522.55 L303.53,523.14 L303.67,523.72 L303.81,524.30 L303.96,524.87 L304.10,525.43 L304.24,525.99 L304.38,526.54 L304.52,527.08 L304.66,527.61 L304.80,528.13 L304.94,528.65 L305.08,529.16 L305.22,529.65 L305.36,530.14 L305.51,530.62 L305.65,531.09 L305.79,531.56 L305.93,532.01 L306.07,532.45 L306.21,532.89 L306.35,533.31 L306.49,533.72 L306.63,534.13 L306.77,534.52 L306.91,534.90 L307.06,535.27 L307.20,535.64 L307.34,535.99 L307.48,536.33 L307.62,536.65 L307.76,536.97 L307.90,537.28 L308.04,537.57 L308.18,537.86 L308.32,538.13 L308.47,538.39 L308.61,538.64 L308.75,538.87 L308.89,539.10 L309.03,539.31 L309.17,539.51 L309.31,539.70 L309.45,539.87 L309.59,540.03 L309.73,540.18 L309.87,540.32 L310.02,540.45 L310.16,540.56 L310.30,540.66 L310.44,540.75 L310.58,540.82 L310.72,540.88 L310.86,540.93 L311.00,540.97 L311.14,540.99 L311.28,541.00 L311.42,541.00 L311.57,540.98 L311.71,540.95 L311.85,540.91 L311.99,540.86 L312.13,540.80 L312.27,540.72 L312.41,540.63 L312.55,540.52 L312.69,540.41 L312.83,540.28 L312.98,540.14 L313.12,539.98 L313.26,539.82 L313.40,539.64 L313.54,539.45 L313.68,539.24 L313.82,539.03 L313.96,538.80 L314.10,538.56 L314.24,538.30 L314.38,538.04 L314.53,537.76 L314.67,537.47 L314.81,537.17 L314.95,536.86 L315.09,536.53 L315.23,536.20 L315.37,535.85 L315.51,535.49 L315.65,535.12 L315.79,534.73 L315.93,534.34 L316.08,533.93 L316.22,533.52 L316.36,533.09 L316.50,532.65 L316.64,532.21 L316.78,531.75 L316.92,531.28 L317.06,530.80 L317.20,530.31 L317.34,529.81 L317.48,529.30 L317.63,528.78 L317.77,528.25 L317.91,527.71 L318.05,527.16 L318.19,526.61 L318.33,526.04 L318.47,525.47 L318.61,524.88 L318.75,524.29 L318.89,523.69 L319.04,523.09 L319.18,522.47 L319.32,521.85 L319.46,521.22 L319.60,520.58 L319.74,519.93 L319.88,519.28 L320.02,518.62 L320.16,517.96 L320.30,517.29 L320.44,516.61 L320.59,515.92 L320.73,515.23 L320.87,514.54 L321.01,513.84 L321.15,513.13 L321.29,512.42 L321.43,511.71 L321.57,510.99 L321.71,510.27 L321.85,509.54 L321.99,508.81 L322.14,508.07 L322.28,507.33 L322.42,506.59 L322.56,505.85 L322.70,505.10 L322.84,504.35 L322.98,503.60 L323.12,502.84 L323.26,502.08 L323.40,501.33 L323.55,500.57 L323.69,499.81 L323.83,499.04 L323.97,498.28 L324.11,497.52 L324.25,496.76 L324.39,495.99 L324.53,495.23 L324.67,494.47 L324.81,493.70 L324.95,492.94 L325.10,492.18 L325.24,491.42 L325.38,490.66 L325.52,489.91 L325.66,489.15 L325.80,488.40 L325.94,487.65 L326.08,486.90 L326.22,486.15 L326.36,485.41 L326.50,484.67 L326.65,483.93 L326.79,483.20 L326.93,482.46 L327.07,481.74 L327.21,481.01 L327.35,480.29 L327.49,479.57 L327.63,478.86 L327.77,478.15 L327.91,477.45 L328.06,476.75 L328.20,476.06 L328.34,475.37 L328.48,474.68 L328.62,474.01 L328.76,473.33 L328.90,472.67 L329.04,472.00 L329.18,471.35 L329.32,470.70 L329.46,470.05 L329.61,469.42 L329.75,468.78 L329.89,468.16 L330.03,467.54 L330.17,466.93 L330.31,466.33 L330.45,465.73 L330.59,465.14 L330.73,464.56 L330.87,463.99 L331.01,463.42 L331.16,462.86 L331.30,462.31 L331.44,461.77 L331.58,461.24 L331.72,460.71 L331.86,460.19 L332.00,459.69 L332.14,459.19 L332.28,458.70 L332.42,458.21 L332.57,457.74 L332.71,457.28 L332.85,456.82 L332.99,456.38 L333.13,455.95 L333.27,455.52 L333.41,455.11 L333.55,454.70 L333.69,454.30 L333.83,453.92 L333.97,453.54 L334.12,453.18 L334.26,452.83 L334.40,452.48 L334.54,452.15 L334.68,451.83 L334.82,451.52 L334.96,451.22 L335.10,450.93 L335.24,450.65 L335.38,450.38 L335.52,450.13 L335.67,449.88 L335.81,449.65 L335.95,449.43 L336.09,449.22 L336.23,449.02 L336.37,448.83 L336.51,448.66 L336.65,448.50 L336.79,448.35 L336.93,448.21 L337.08,448.08 L337.22,447.97 L337.36,447.87 L337.50,447.78 L337.64,447.70 L337.78,447.64 L337.92,447.58 L338.06,447.54 L338.20,447.52 L338.34,447.50 L338.48,447.50 L338.63,447.51 L338.77,447.53 L338.91,447.57 L339.05,447.62 L339.19,447.68 L339.33,447.76 L339.47,447.84 L339.61,447.94 L339.75,448.06 L339.89,448.18 L340.03,448.32 L340.18,448.47 L340.32,448.64 L340.46,448.81 L340.60,449.00 L340.74,449.20 L340.88,449.42 L341.02,449.64 L341.16,449.88 L341.30,450.13 L341.44,450.40 L341.58,450.67 L341.73,450.96 L341.87,451.26 L342.01,451.58 L342.15,451.90 L342.29,452.24 L342.43,452.58 L342.57,452.95 L342.71,453.32 L342.85,453.70 L342.99,454.10 L343.14,454.50 L343.28,454.92 L343.42,455.35 L343.56,455.79 L343.70,456.24 L343.84,456.70 L343.98,457.18 L344.12,457.66 L344.26,458.15 L344.40,458.66 L344.54,459.17 L344.69,459.70 L344.83,460.23 L344.97,460.78 L345.11,461.33 L345.25,461.89 L345.39,462.47 L345.53,463.05 L345.67,463.64 L345.81,464.24 L345.95,464.85 L346.09,465.47 L346.24,466.10 L346.38,466.73 L346.52,467.38 L346.66,468.03 L346.80,468.69 L346.94,469.35 L347.08,470.03 L347.22,470.71 L347.36,471.39 L347.50,472.09 L347.65,472.79 L347.79,473.50 L347.93,474.21 L348.07,474.93 L348.21,475.66 L348.35,476.39 L348.49,477.13 L348.63,477.87 L348.77,478.62 L348.91,479.37 L349.05,480.13 L349.20,480.89 L349.34,481.66 L349.48,482.43 L349.62,483.20 L349.76,483.98 L349.90,484.76 L350.04,485.54 L350.18,486.33 L350.32,487.12 L350.46,487.91 L350.60,488.71 L350.75,489.50 L350.89,490.30 L351.03,491.10 L351.17,491.90 L351.31,492.70 L351.45,493.51 L351.59,494.31 L351.73,495.11 L351.87,495.92 L352.01,496.72 L352.16,497.52 L352.30,498.33 L352.44,499.13 L352.58,499.93 L352.72,500.74 L352.86,501.54 L353.00,502.33 L353.14,503.13 L353.28,503.93 L353.42,504.72 L353.56,505.51 L353.71,506.30 L353.85,507.08 L353.99,507.86 L354.13,508.64 L354.27,509.42 L354.41,510.19 L354.55,510.95 L354.69,511.72 L354.83,512.48 L354.97,513.23 L355.11,513.98 L355.26,514.72 L355.40,515.46 L355.54,516.19 L355.68,516.92 L355.82,517.64 L355.96,518.35 L356.10,519.06 L356.24,519.76 L356.38,520.45 L356.52,521.14 L356.67,521.82 L356.81,522.49 L356.95,523.15 L357.09,523.81 L357.23,524.46 L357.37,525.09 L357.51,525.72 L357.65,526.35 L357.79,526.96 L357.93,527.56 L358.07,528.15 L358.22,528.74 L358.36,529.31 L358.50,529.87 L358.64,530.43 L358.78,530.97 L358.92,531.50 L359.06,532.03 L359.20,532.54 L359.34,533.04 L359.48,533.52 L359.62,534.00 L359.77,534.47 L359.91,534.92 L360.05,535.36 L360.19,535.79 L360.33,536.21 L360.47,536.62 L360.61,537.01 L360.75,537.39 L360.89,537.76 L361.03,538.11 L361.18,538.45 L361.32,538.78 L361.46,539.10 L361.60,539.40 L361.74,539.69 L361.88,539.96 L362.02,540.22 L362.16,540.47 L362.30,540.70 L362.44,540.92 L362.58,541.13 L362.73,541.32 L362.87,541.50 L363.01,541.66 L363.15,541.81 L363.29,541.94 L363.43,542.06 L363.57,542.17 L363.71,542.26 L363.85,542.34 L363.99,542.40 L364.13,542.45 L364.28,542.48 L364.42,542.50 L364.56,542.50 L364.70,542.49 L364.84,542.47 L364.98,542.43 L365.12,542.37 L365.26,542.30 L365.40,542.22 L365.54,542.12 L365.68,542.01 L365.83,541.88 L365.97,541.74 L366.11,541.58 L366.25,541.41 L366.39,541.22 L366.53,541.02 L366.67,540.81 L366.81,540.58 L366.95,540.34 L367.09,540.08 L367.24,539.81 L367.38,539.52 L367.52,539.22 L367.66,538.91 L367.80,538.58 L367.94,538.24 L368.08,537.89 L368.22,537.52 L368.36,537.14 L368.50,536.74 L368.64,536.33 L368.79,535.91 L368.93,535.47 L369.07,535.03 L369.21,534.57 L369.35,534.09 L369.49,533.61 L369.63,533.11 L369.77,532.60 L369.91,532.07 L370.05,531.54 L370.19,530.99 L370.34,530.43 L370.48,529.86 L370.62,529.28 L370.76,528.69 L370.90,528.09 L371.04,527.47 L371.18,526.85 L371.32,526.21 L371.46,525.57 L371.60,524.91 L371.75,524.25 L371.89,523.57 L372.03,522.89 L372.17,522.19 L372.31,521.49 L372.45,520.78 L372.59,520.06 L372.73,519.33 L372.87,518.60 L373.01,517.86 L373.15,517.10 L373.30,516.35 L373.44,515.58 L373.58,514.81 L373.72,514.03 L373.86,513.24 L374.00,512.45 L374.14,511.66 L374.28,510.85 L374.42,510.04 L374.56,509.23 L374.70,508.41 L374.85,507.59 L374.99,506.76 L375.13,505.93 L375.27,505.10 L375.41,504.26 L375.55,503.42 L375.69,502.58 L375.83,501.73 L375.97,500.88 L376.11,500.03 L376.26,499.18 L376.40,498.32 L376.54,497.47 L376.68,496.61 L376.82,495.75 L376.96,494.90 L377.10,494.04 L377.24,493.18 L377.38,492.32 L377.52,491.47 L377.66,490.61 L377.81,489.76 L377.95,488.90 L378.09,488.05 L378.23,487.20 L378.37,486.35 L378.51,485.51 L378.65,484.66 L378.79,483.82 L378.93,482.99 L379.07,482.15 L379.21,481.33 L379.36,480.50 L379.50,479.68 L379.64,478.86 L379.78,478.05 L379.92,477.24 L380.06,476.44 L380.20,475.64 L380.34,474.85 L380.48,474.07 L380.62,473.29 L380.77,472.52 L380.91,471.76 L381.05,471.00 L381.19,470.25 L381.33,469.50 L381.47,468.77 L381.61,468.04 L381.75,467.32 L381.89,466.61 L382.03,465.91 L382.17,465.21 L382.32,464.53 L382.46,463.85 L382.60,463.19 L382.74,462.53 L382.88,461.88 L383.02,461.25 L383.16,460.62 L383.30,460.00 L383.44,459.40 L383.58,458.80 L383.72,458.22 L383.87,457.65 L384.01,457.09 L384.15,456.54 L384.29,456.00 L384.43,455.47 L384.57,454.96 L384.71,454.46 L384.85,453.97 L384.99,453.49 L385.13,453.03 L385.28,452.57 L385.42,452.14 L385.56,451.71 L385.70,451.30 L385.84,450.90 L385.98,450.51 L386.12,450.14 L386.26,449.78 L386.40,449.44 L386.54,449.11 L386.68,448.79 L386.83,448.49 L386.97,448.20 L387.11,447.92 L387.25,447.66 L387.39,447.42 L387.53,447.19 L387.67,446.97 L387.81,446.77 L387.95,446.58 L388.09,446.41 L388.23,446.25 L388.38,446.11 L388.52,445.98 L388.66,445.87 L388.80,445.77 L388.94,445.69 L389.08,445.62 L389.22,445.57 L389.36,445.53 L389.50,445.51 L389.64,445.50 L389.78,445.51 L389.93,445.53 L390.07,445.57 L390.21,445.62 L390.35,445.69 L390.49,445.77 L390.63,445.87 L390.77,445.98 L390.91,446.11 L391.05,446.25 L391.19,446.41 L391.34,446.58 L391.48,446.76 L391.62,446.96 L391.76,447.18 L391.90,447.41 L392.04,447.65 L392.18,447.91 L392.32,448.18 L392.46,448.46 L392.60,448.76 L392.74,449.08 L392.89,449.40 L393.03,449.74 L393.17,450.10 L393.31,450.47 L393.45,450.85 L393.59,451.24 L393.73,451.65 L393.87,452.07 L394.01,452.50 L394.15,452.95 L394.29,453.41 L394.44,453.88 L394.58,454.36 L394.72,454.86 L394.86,455.37 L395.00,455.89 L395.14,456.42 L395.28,456.96 L395.42,457.52 L395.56,458.09 L395.70,458.66 L395.85,459.25 L395.99,459.86 L396.13,460.47 L396.27,461.09 L396.41,461.72 L396.55,462.37 L396.69,463.02 L396.83,463.68 L396.97,464.36 L397.11,465.04 L397.25,465.73 L397.40,466.43 L397.54,467.15 L397.68,467.87 L397.82,468.60 L397.96,469.33 L398.10,470.08 L398.24,470.84 L398.38,471.60 L398.52,472.37 L398.66,473.15 L398.80,473.93 L398.95,474.73 L399.09,475.53 L399.23,476.33 L399.37,477.15 L399.51,477.97 L399.65,478.79 L399.79,479.63 L399.93,480.46 L400.07,481.31 L400.21,482.16 L400.36,483.01 L400.50,483.87 L400.64,484.73 L400.78,485.60 L400.92,486.47 L401.06,487.35 L401.20,488.22 L401.34,489.11 L401.48,489.99 L401.62,490.88 L401.76,491.77 L401.91,492.66 L402.05,493.56 L402.19,494.46 L402.33,495.36 L402.47,496.26 L402.61,497.16 L402.75,498.06 L402.89,498.96 L403.03,499.86 L403.17,500.76 L403.31,501.66 L403.46,502.56 L403.60,503.46 L403.74,504.36 L403.88,505.25 L404.02,506.14 L404.16,507.03 L404.30,507.92 L404.44,508.80 L404.58,509.68 L404.72,510.56 L404.87,511.43 L405.01,512.30 L405.15,513.16 L405.29,514.02 L405.43,514.87 L405.57,515.72 L405.71,516.56 L405.85,517.39 L405.99,518.22 L406.13,519.04 L406.27,519.85 L406.42,520.65 L406.56,521.45 L406.70,522.24 L406.84,523.02 L406.98,523.78 L407.12,524.55 L407.26,525.30 L407.40,526.04 L407.54,526.77 L407.68,527.49 L407.82,528.19 L407.97,528.89 L408.11,529.58 L408.25,530.25 L408.39,530.91 L408.53,531.56 L408.67,532.20 L408.81,532.83 L408.95,533.44 L409.09,534.04 L409.23,534.62 L409.38,535.19 L409.52,535.75 L409.66,536.29 L409.80,536.82 L409.94,537.33 L410.08,537.83 L410.22,538.31 L410.36,538.78 L410.50,539.23 L410.64,539.66 L410.78,540.08 L410.93,540.49 L411.07,540.87 L411.21,541.24 L411.35,541.60 L411.49,541.93 L411.63,542.25 L411.77,542.56 L411.91,542.84 L412.05,543.11 L412.19,543.36 L412.33,543.60 L412.48,543.81 L412.62,544.01 L412.76,544.19 L412.90,544.35 L413.04,544.50 L413.18,544.62 L413.32,544.73 L413.46,544.82 L413.60,544.89 L413.74,544.95 L413.88,544.98 L414.03,545.00 L414.17,545.00 L414.31,544.98 L414.45,544.94 L414.59,544.89 L414.73,544.82 L414.87,544.73 L415.01,544.62 L415.15,544.49 L415.29,544.35 L415.44,544.19 L415.58,544.01 L415.72,543.81 L415.86,543.60 L416.00,543.37 L416.14,543.12 L416.28,542.85 L416.42,542.56 L416.56,542.26 L416.70,541.94 L416.84,541.61 L416.99,541.26 L417.13,540.89 L417.27,540.50 L417.41,540.10 L417.55,539.68 L417.69,539.24 L417.83,538.79 L417.97,538.32 L418.11,537.84 L418.25,537.34 L418.39,536.83 L418.54,536.30 L418.68,535.75 L418.82,535.19 L418.96,534.62 L419.10,534.03 L419.24,533.42 L419.38,532.81 L419.52,532.17 L419.66,531.53 L419.80,530.87 L419.95,530.20 L420.09,529.51 L420.23,528.82 L420.37,528.11 L420.51,527.38 L420.65,526.65 L420.79,525.90 L420.93,525.15 L421.07,524.38 L421.21,523.60 L421.35,522.81 L421.50,522.01 L421.64,521.20 L421.78,520.38 L421.92,519.55 L422.06,518.71 L422.20,517.86 L422.34,517.00 L422.48,516.14 L422.62,515.26 L422.76,514.38 L422.90,513.49 L423.05,512.60 L423.19,511.70 L423.33,510.79 L423.47,509.87 L423.61,508.95 L423.75,508.03 L423.89,507.10 L424.03,506.16 L424.17,505.22 L424.31,504.27 L424.46,503.33 L424.60,502.38 L424.74,501.42 L424.88,500.46 L425.02,499.50 L425.16,498.54 L425.30,497.58 L425.44,496.61 L425.58,495.65 L425.72,494.68 L425.86,493.71 L426.01,492.75 L426.15,491.78 L426.29,490.81 L426.43,489.85 L426.57,488.89 L426.71,487.92 L426.85,486.97 L426.99,486.01 L427.13,485.05 L427.27,484.10 L427.41,483.16 L427.56,482.21 L427.70,481.27 L427.84,480.34 L427.98,479.41 L428.12,478.48 L428.26,477.56 L428.40,476.65 L428.54,475.74 L428.68,474.84 L428.82,473.95 L428.97,473.06 L429.11,472.18 L429.25,471.31 L429.39,470.45 L429.53,469.59 L429.67,468.74 L429.81,467.91 L429.95,467.08 L430.09,466.26 L430.23,465.45 L430.37,464.66 L430.52,463.87 L430.66,463.09 L430.80,462.33 L430.94,461.57 L431.08,460.83 L431.22,460.10 L431.36,459.38 L431.50,458.67 L431.64,457.98 L431.78,457.30 L431.92,456.63 L432.07,455.98 L432.21,455.34 L432.35,454.72 L432.49,454.10 L432.63,453.51 L432.77,452.92 L432.91,452.36 L433.05,451.80 L433.19,451.27 L433.33,450.74 L433.48,450.24 L433.62,449.75 L433.76,449.27 L433.90,448.81 L434.04,448.37 L434.18,447.95 L434.32,447.54 L434.46,447.15 L434.60,446.77 L434.74,446.41 L434.88,446.07 L435.03,445.75 L435.17,445.44 L435.31,445.15 L435.45,444.88 L435.59,444.63 L435.73,444.40 L435.87,444.18 L436.01,443.98 L436.15,443.80 L436.29,443.64 L436.43,443.49 L436.58,443.37 L436.72,443.26 L436.86,443.17 L437.00,443.10 L437.14,443.05 L437.28,443.01 L437.42,443.00 L437.56,443.00 L437.70,443.03 L437.84,443.07 L437.99,443.12 L438.13,443.20 L438.27,443.30 L438.41,443.41 L438.55,443.54 L438.69,443.69 L438.83,443.86 L438.97,444.05 L439.11,444.25 L439.25,444.48 L439.39,444.72 L439.54,444.97 L439.68,445.25 L439.82,445.54 L439.96,445.85 L440.10,446.18 L440.24,446.53 L440.38,446.89 L440.52,447.27 L440.66,447.66 L440.80,448.08 L440.94,448.50 L441.09,448.95 L441.23,449.41 L441.37,449.89 L441.51,450.38 L441.65,450.89 L441.79,451.42 L441.93,451.96 L442.07,452.52 L442.21,453.09 L442.35,453.68 L442.49,454.28 L442.64,454.90 L442.78,455.53 L442.92,456.17 L443.06,456.83 L443.20,457.51 L443.34,458.20 L443.48,458.90 L443.62,459.61 L443.76,460.34 L443.90,461.08 L444.05,461.83 L444.19,462.60 L444.33,463.38 L444.47,464.17 L444.61,464.97 L444.75,465.79 L444.89,466.61 L445.03,467.45 L445.17,468.30 L445.31,469.16 L445.45,470.02 L445.60,470.90 L445.74,471.79 L445.88,472.69 L446.02,473.60 L446.16,474.51 L446.30,475.44 L446.44,476.37 L446.58,477.31 L446.72,478.26 L446.86,479.22 L447.00,480.18 L447.15,481.15 L447.29,482.13 L447.43,483.12 L447.57,484.11 L447.71,485.10 L447.85,486.10 L447.99,487.11 L448.13,488.12 L448.27,489.13 L448.41,490.15 L448.56,491.17 L448.70,492.20 L448.84,493.23 L448.98,494.26 L449.12,495.29 L449.26,496.33 L449.40,497.36 L449.54,498.39 L449.68,499.43 L449.82,500.46 L449.96,501.50 L450.11,502.53 L450.25,503.56 L450.39,504.59 L450.53,505.61 L450.67,506.64 L450.81,507.65 L450.95,508.67 L451.09,509.68 L451.23,510.69 L451.37,511.69 L451.51,512.68 L451.66,513.67 L451.80,514.65 L451.94,515.63 L452.08,516.60 L452.22,517.56 L452.36,518.51 L452.50,519.45 L452.64,520.39 L452.78,521.31 L452.92,522.22 L453.07,523.13 L453.21,524.02 L453.35,524.91 L453.49,525.78 L453.63,526.63 L453.77,527.48 L453.91,528.32 L454.05,529.14 L454.19,529.94 L454.33,530.74 L454.47,531.51 L454.62,532.28 L454.76,533.03 L454.90,533.76 L455.04,534.48 L455.18,535.18 L455.32,535.87 L455.46,536.54 L455.60,537.19 L455.74,537.82 L455.88,538.44 L456.02,539.04 L456.17,539.62 L456.31,540.18 L456.45,540.72 L456.59,541.24 L456.73,541.75 L456.87,542.23 L457.01,542.70 L457.15,543.14 L457.29,543.56 L457.43,543.97 L457.58,544.35 L457.72,544.71 L457.86,545.05 L458.00,545.37 L458.14,545.66 L458.28,545.94 L458.42,546.19 L458.56,546.42 L458.70,546.62 L458.84,546.81 L458.98,546.97 L459.13,547.11 L459.27,547.23 L459.41,547.32 L459.55,547.39 L459.69,547.44 L459.83,547.47 L459.97,547.47 L460.11,547.45 L460.25,547.40 L460.39,547.34 L460.53,547.24 L460.68,547.13 L460.82,546.99 L460.96,546.83 L461.10,546.65 L461.24,546.44 L461.38,546.21 L461.52,545.96 L461.66,545.68 L461.80,545.38 L461.94,545.06 L462.09,544.72 L462.23,544.35 L462.37,543.96 L462.51,543.55 L462.65,543.12 L462.79,542.66 L462.93,542.19 L463.07,541.69 L463.21,541.17 L463.35,540.63 L463.49,540.07 L463.64,539.49 L463.78,538.89 L463.92,538.27 L464.06,537.62 L464.20,536.96 L464.34,536.28 L464.48,535.58 L464.62,534.87 L464.76,534.13 L464.90,533.37 L465.04,532.60 L465.19,531.81 L465.33,531.01 L465.47,530.18 L465.61,529.34 L465.75,528.49 L465.89,527.62 L466.03,526.73 L466.17,525.83 L466.31,524.91 L466.45,523.98 L466.59,523.04 L466.74,522.09 L466.88,521.12 L467.02,520.14 L467.16,519.14 L467.30,518.14 L467.44,517.12 L467.58,516.10 L467.72,515.06 L467.86,514.02 L468.00,512.96 L468.15,511.90 L468.29,510.83 L468.43,509.75 L468.57,508.66 L468.71,507.57 L468.85,506.47 L468.99,505.37 L469.13,504.26 L469.27,503.15 L469.41,502.03 L469.55,500.91 L469.70,499.78 L469.84,498.65 L469.98,497.52 L470.12,496.39 L470.26,495.26 L470.40,494.13 L470.54,492.99 L470.68,491.86 L470.82,490.73 L470.96,489.60 L471.10,488.47 L471.25,487.35 L471.39,486.22 L471.53,485.10 L471.67,483.99 L471.81,482.88 L471.95,481.77 L472.09,480.67 L472.23,479.58 L472.37,478.49 L472.51,477.41 L472.66,476.34 L472.80,475.27 L472.94,474.21 L473.08,473.17 L473.22,472.13 L473.36,471.10 L473.50,470.08 L473.64,469.07 L473.78,468.07 L473.92,467.09 L474.06,466.12 L474.21,465.16 L474.35,464.21 L474.49,463.27 L474.63,462.35 L474.77,461.45 L474.91,460.55 L475.05,459.68 L475.19,458.81 L475.33,457.97 L475.47,457.14 L475.61,456.32 L475.76,455.52 L475.90,454.74 L476.04,453.98 L476.18,453.23 L476.32,452.51 L476.46,451.80 L476.60,451.10 L476.74,450.43 L476.88,449.78 L477.02,449.14 L477.17,448.53 L477.31,447.94 L477.45,447.36 L477.59,446.81 L477.73,446.27 L477.87,445.76 L478.01,445.27 L478.15,444.80 L478.29,444.35 L478.43,443.92 L478.57,443.51 L478.72,443.13 L478.86,442.77 L479.00,442.42 L479.14,442.11 L479.28,441.81 L479.42,441.53 L479.56,441.28 L479.70,441.05 L479.84,440.85 L479.98,440.66 L480.12,440.50 L480.27,440.36 L480.41,440.24 L480.55,440.15 L480.69,440.08 L480.83,440.03 L480.97,440.00 L481.11,440.00 L481.25,440.02 L481.39,440.06 L481.53,440.12 L481.68,440.21 L481.82,440.31 L481.96,440.44 L482.10,440.60 L482.24,440.77 L482.38,440.96 L482.52,441.18 L482.66,441.41 L482.80,441.67 L482.94,441.95 L483.08,442.25 L483.23,442.57 L483.37,442.91 L483.51,443.27 L483.65,443.64 L483.79,444.04 L483.93,444.46 L484.07,444.90 L484.21,445.36 L484.35,445.84 L484.49,446.33 L484.63,446.85 L484.78,447.38 L484.92,447.93 L485.06,448.50 L485.20,449.09 L485.34,449.69 L485.48,450.32 L485.62,450.96 L485.76,451.62 L485.90,452.29 L486.04,452.98 L486.19,453.69 L486.33,454.42 L486.47,455.16 L486.61,455.92 L486.75,456.69 L486.89,457.48 L487.03,458.28 L487.17,459.10 L487.31,459.93 L487.45,460.78 L487.59,461.65 L487.74,462.52 L487.88,463.42 L488.02,464.32 L488.16,465.24 L488.30,466.17 L488.44,467.11 L488.58,468.07 L488.72,469.04 L488.86,470.02 L489.00,471.02 L489.14,472.02 L489.29,473.04 L489.43,474.06 L489.57,475.10 L489.71,476.15 L489.85,477.21 L489.99,478.28 L490.13,479.35 L490.27,480.44 L490.41,481.53 L490.55,482.64 L490.69,483.75 L490.84,484.87 L490.98,485.99 L491.12,487.13 L491.26,488.27 L491.40,489.41 L491.54,490.56 L491.68,491.72 L491.82,492.88 L491.96,494.05 L492.10,495.22 L492.25,496.39 L492.39,497.56 L492.53,498.74 L492.67,499.91 L492.81,501.08 L492.95,502.25 L493.09,503.42 L493.23,504.59 L493.37,505.75 L493.51,506.91 L493.65,508.07 L493.80,509.22 L493.94,510.37 L494.08,511.51 L494.22,512.65 L494.36,513.78 L494.50,514.90 L494.64,516.01 L494.78,517.12 L494.92,518.22 L495.06,519.31 L495.20,520.39 L495.35,521.45 L495.49,522.51 L495.63,523.56 L495.77,524.59 L495.91,525.61 L496.05,526.62 L496.19,527.61 L496.33,528.60 L496.47,529.56 L496.61,530.51 L496.76,531.45 L496.90,532.37 L497.04,533.27 L497.18,534.16 L497.32,535.03 L497.46,535.88 L497.60,536.71 L497.74,537.52 L497.88,538.31 L498.02,539.09 L498.16,539.84 L498.31,540.57 L498.45,541.29 L498.59,541.98 L498.73,542.65 L498.87,543.29 L499.01,543.92 L499.15,544.52 L499.29,545.09 L499.43,545.65 L499.57,546.18 L499.71,546.68 L499.86,547.16 L500.00,547.62 L500.14,548.05 L500.28,548.45 L500.42,548.83 L500.56,549.18 L500.70,549.51 L500.84,549.81 L500.98,550.08 L501.12,550.32 L501.27,550.54 L501.41,550.73 L501.55,550.89 L501.69,551.03 L501.83,551.14 L501.97,551.22 L502.11,551.27 L502.25,551.29 L502.39,551.28 L502.53,551.25 L502.67,551.19 L502.82,551.10 L502.96,550.98 L503.10,550.83 L503.24,550.65 L503.38,550.44 L503.52,550.21 L503.66,549.95 L503.80,549.66 L503.94,549.34 L504.08,548.99 L504.22,548.61 L504.37,548.21 L504.51,547.78 L504.65,547.32 L504.79,546.83 L504.93,546.32 L505.07,545.78 L505.21,545.21 L505.35,544.61 L505.49,543.99 L505.63,543.34 L505.78,542.67 L505.92,541.97 L506.06,541.24 L506.20,540.49 L506.34,539.72 L506.48,538.92 L506.62,538.10 L506.76,537.25 L506.90,536.38 L507.04,535.49 L507.18,534.57 L507.33,533.64 L507.47,532.68 L507.61,531.70 L507.75,530.70 L507.89,529.68 L508.03,528.64 L508.17,527.58 L508.31,526.50 L508.45,525.40 L508.59,524.29 L508.73,523.16 L508.88,522.01 L509.02,520.85 L509.16,519.67 L509.30,518.48 L509.44,517.27 L509.58,516.05 L509.72,514.82 L509.86,513.58 L510.00,512.32 L510.14,511.05 L510.29,509.78 L510.43,508.49 L510.57,507.19 L510.71,505.89 L510.85,504.58 L510.99,503.26 L511.13,501.93 L511.27,500.60 L511.41,499.27 L511.55,497.93 L511.69,496.59 L511.84,495.24 L511.98,493.90 L512.12,492.55 L512.26,491.20 L512.40,489.86 L512.54,488.51 L512.68,487.17 L512.82,485.82 L512.96,484.48 L513.10,483.15 L513.24,481.82 L513.39,480.50 L513.53,479.18 L513.67,477.87 L513.81,476.56 L513.95,475.27 L514.09,473.98 L514.23,472.71 L514.37,471.44 L514.51,470.19 L514.65,468.94 L514.79,467.71 L514.94,466.50 L515.08,465.30 L515.22,464.11 L515.36,462.94 L515.50,461.78 L515.64,460.64 L515.78,459.52 L515.92,458.42 L516.06,457.33 L516.20,456.27 L516.35,455.22 L516.49,454.19 L516.63,453.19 L516.77,452.21 L516.91,451.25 L517.05,450.31 L517.19,449.40 L517.33,448.51 L517.47,447.64 L517.61,446.80 L517.75,445.99 L517.90,445.20 L518.04,444.43 L518.18,443.70 L518.32,442.99 L518.46,442.31 L518.60,441.65 L518.74,441.03 L518.88,440.44 L519.02,439.87 L519.16,439.33 L519.30,438.83 L519.45,438.35 L519.59,437.90 L519.73,437.49 L519.87,437.11 L520.01,436.75 L520.15,436.43 L520.29,436.14 L520.43,435.89 L520.57,435.66 L520.71,435.47 L520.86,435.31 L521.00,435.18 L521.14,435.09 L521.28,435.03 L521.42,435.00 L521.56,435.00 L521.70,435.04 L521.84,435.11 L521.98,435.21 L522.12,435.35 L522.26,435.52 L522.41,435.72 L522.55,435.96 L522.69,436.23 L522.83,436.53 L522.97,436.86 L523.11,437.23 L523.25,437.63 L523.39,438.06 L523.53,438.53 L523.67,439.02 L523.81,439.55 L523.96,440.12 L524.10,440.71 L524.24,441.33 L524.38,441.99 L524.52,442.67 L524.66,443.39 L524.80,444.14 L524.94,444.91 L525.08,445.72 L525.22,446.55 L525.37,447.42 L525.51,448.31 L525.65,449.23 L525.79,450.18 L525.93,451.15 L526.07,452.15 L526.21,453.18 L526.35,454.23 L526.49,455.31 L526.63,456.41 L526.77,457.53 L526.92,458.68 L527.06,459.85 L527.20,461.05 L527.34,462.26 L527.48,463.50 L527.62,464.75 L527.76,466.03 L527.90,467.32 L528.04,468.63 L528.18,469.96 L528.32,471.31 L528.47,472.67 L528.61,474.05 L528.75,475.44 L528.89,476.85 L529.03,478.27 L529.17,479.70 L529.31,481.14 L529.45,482.60 L529.59,484.06 L529.73,485.53 L529.88,487.01 L530.02,488.50 L530.16,489.99 L530.30,491.49 L530.44,493.00 L530.58,494.50 L530.72,496.01 L530.86,497.52 L531.00,499.03 L531.14,500.54 L531.28,502.05 L531.43,503.56 L531.57,505.06 L531.71,506.56 L531.85,508.05 L531.99,509.53 L532.13,511.01 L532.27,512.48 L532.41,513.94 L532.55,515.39 L532.69,516.83 L532.83,518.25 L532.98,519.67 L533.12,521.07 L533.26,522.45 L533.40,523.82 L533.54,525.17 L533.68,526.50 L533.82,527.82 L533.96,529.11 L534.10,530.39 L534.24,531.64 L534.39,532.88 L534.53,534.08 L534.67,535.27 L534.81,536.43 L534.95,537.56 L535.09,538.67 L535.23,539.75 L535.37,540.81 L535.51,541.83 L535.65,542.83 L535.79,543.79 L535.94,544.73 L536.08,545.63 L536.22,546.50 L536.36,547.34 L536.50,548.15 L536.64,548.92 L536.78,549.66 L536.92,550.36 L537.06,551.02 L537.20,551.65 L537.34,552.24 L537.49,552.80 L537.63,553.32 L537.77,553.80 L537.91,554.24 L538.05,554.64 L538.19,555.00 L538.33,555.32 L538.47,555.61 L538.61,555.85 L538.75,556.05 L538.89,556.21 L539.04,556.33 L539.18,556.41 L539.32,556.45 L539.46,556.44 L539.60,556.40 L539.74,556.31 L539.88,556.18 L540.02,556.01 L540.16,555.80 L540.30,555.55 L540.45,555.25 L540.59,554.91 L540.73,554.54 L540.87,554.12 L541.01,553.66 L541.15,553.16 L541.29,552.61 L541.43,552.03 L541.57,551.41 L541.71,550.75 L541.85,550.05 L542.00,549.31 L542.14,548.53 L542.28,547.71 L542.42,546.86 L542.56,545.97 L542.70,545.04 L542.84,544.08 L542.98,543.08 L543.12,542.05 L543.26,540.98 L543.40,539.88 L543.55,538.75 L543.69,537.58 L543.83,536.38 L543.97,535.16 L544.11,533.90 L544.25,532.61 L544.39,531.30 L544.53,529.96 L544.67,528.59 L544.81,527.19 L544.96,525.77 L545.10,524.33 L545.24,522.87 L545.38,521.38 L545.52,519.87 L545.66,518.35 L545.80,516.80 L545.94,515.24 L546.08,513.66 L546.22,512.06 L546.36,510.45 L546.51,508.83 L546.65,507.19 L546.79,505.54 L546.93,503.89 L547.07,502.22 L547.21,500.55 L547.35,498.87 L547.49,497.18 L547.63,495.50 L547.77,493.80 L547.91,492.11 L548.06,490.42 L548.20,488.72 L548.34,487.03 L548.48,485.34 L548.62,483.66 L548.76,481.98 L548.90,480.31 L549.04,478.64 L549.18,476.99 L549.32,475.34 L549.47,473.71 L549.61,472.09 L549.75,470.48 L549.89,468.89 L550.03,467.32 L550.17,465.76 L550.31,464.22 L550.45,462.70 L550.59,461.20 L550.73,459.73 L550.87,458.27 L551.02,456.84 L551.16,455.44 L551.30,454.06 L551.44,452.71 L551.58,451.39 L551.72,450.10 L551.86,448.83 L552.00,447.60 L552.14,446.40 L552.28,445.24 L552.42,444.11 L552.57,443.01 L552.71,441.95 L552.85,440.93 L552.99,439.94 L553.13,438.99 L553.27,438.08 L553.41,437.21 L553.55,436.38 L553.69,435.60 L553.83,434.85 L553.98,434.15 L554.12,433.48 L554.26,432.87 L554.40,432.29 L554.54,431.76 L554.68,431.28 L554.82,430.84 L554.96,430.45 L555.10,430.10 L555.24,429.80 L555.38,429.55 L555.53,429.34 L555.67,429.18 L555.81,429.07 L555.95,429.01 L556.09,428.99 L556.23,429.02 L556.37,429.10 L556.51,429.23 L556.65,429.41 L556.79,429.63 L556.93,429.90 L557.08,430.22 L557.22,430.59 L557.36,431.00 L557.50,431.47 L557.64,431.98 L557.78,432.53 L557.92,433.14 L558.06,433.79 L558.20,434.49 L558.34,435.23 L558.49,436.02 L558.63,436.85 L558.77,437.73 L558.91,438.65 L559.05,439.62 L559.19,440.63 L559.33,441.68 L559.47,442.77 L559.61,443.90 L559.75,445.08 L559.89,446.29 L560.04,447.54 L560.18,448.83 L560.32,450.16 L560.46,451.52 L560.60,452.92 L560.74,454.35 L560.88,455.82 L561.02,457.32 L561.16,458.85 L561.30,460.41 L561.44,462.00 L561.59,463.61 L561.73,465.26 L561.87,466.93 L562.01,468.62 L562.15,470.34 L562.29,472.08 L562.43,473.84 L562.57,475.62 L562.71,477.42 L562.85,479.23 L562.99,481.07 L563.14,482.91 L563.28,484.77 L563.42,486.64 L563.56,488.52 L563.70,490.41 L563.84,492.30 L563.98,494.20 L564.12,496.11 L564.26,498.01 L564.40,499.91 L564.55,501.81 L564.69,503.71 L564.83,505.60 L564.97,507.48 L565.11,509.36 L565.25,511.23 L565.39,513.08 L565.53,514.93 L565.67,516.76 L565.81,518.57 L565.95,520.37 L566.10,522.15 L566.24,523.91 L566.38,525.66 L566.52,527.38 L566.66,529.08 L566.80,530.75 L566.94,532.40 L567.08,534.02 L567.22,535.61 L567.36,537.17 L567.50,538.70 L567.65,540.20 L567.79,541.67 L567.93,543.10 L568.07,544.50 L568.21,545.85 L568.35,547.17 L568.49,548.45 L568.63,549.69 L568.77,550.88 L568.91,552.03 L569.06,553.14 L569.20,554.20 L569.34,555.21 L569.48,556.17 L569.62,557.08 L569.76,557.95 L569.90,558.76 L570.04,559.51 L570.18,560.21 L570.32,560.86 L570.46,561.45 L570.61,561.98 L570.75,562.45 L570.89,562.86 L571.03,563.21 L571.17,563.50 L571.31,563.73 L571.45,563.89 L571.59,563.99 L571.73,564.02 L571.87,563.99 L572.01,563.88 L572.16,563.71 L572.30,563.47 L572.44,563.16 L572.58,562.78 L572.72,562.33 L572.86,561.80 L573.00,561.20 L573.14,560.52 L573.28,559.77 L573.42,558.95 L573.57,558.06 L573.71,557.09 L573.85,556.05 L573.99,554.93 L574.13,553.75 L574.27,552.50 L574.41,551.17 L574.55,549.78 L574.69,548.32 L574.83,546.80 L574.97,545.22 L575.12,543.57 L575.26,541.87 L575.40,540.11 L575.54,538.30 L575.68,536.43 L575.82,534.51 L575.96,532.55 L576.10,530.54 L576.24,528.49 L576.38,526.40 L576.52,524.28 L576.67,522.12 L576.81,519.94 L576.95,517.72 L577.09,515.49 L577.23,513.23 L577.37,510.96 L577.51,508.67 L577.65,506.38 L577.79,504.07 L577.93,501.76 L578.08,499.45 L578.22,497.14 L578.36,494.84 L578.50,492.54 L578.64,490.26 L578.78,487.98 L578.92,485.71 L579.06,483.46 L579.20,481.23 L579.34,479.01 L579.48,476.81 L579.63,474.64 L579.77,472.48 L579.91,470.35 L580.05,468.24 L580.19,466.16 L580.33,464.10 L580.47,462.08 L580.61,460.08 L580.75,458.11 L580.89,456.18 L581.03,454.28 L581.18,452.42 L581.32,450.59 L581.46,448.80 L581.60,447.05 L581.74,445.34 L581.88,443.67 L582.02,442.04 L582.16,440.46 L582.30,438.92 L582.44,437.43 L582.59,435.98 L582.73,434.59 L582.87,433.24 L583.01,431.95 L583.15,430.70 L583.29,429.52 L583.43,428.38 L583.57,427.31 L583.71,426.29 L583.85,425.33 L583.99,424.44 L584.14,423.60 L584.28,422.83 L584.42,422.13 L584.56,421.49 L584.70,420.92 L584.84,420.42 L584.98,419.99 L585.12,419.64 L585.26,419.36 L585.40,419.15 L585.54,419.03 L585.69,418.98 L585.83,419.01 L585.97,419.13 L586.11,419.33 L586.25,419.61 L586.39,419.98 L586.53,420.43 L586.67,420.97 L586.81,421.59 L586.95,422.30 L587.09,423.09 L587.24,423.97 L587.38,424.93 L587.52,425.98 L587.66,427.12 L587.80,428.33 L587.94,429.63 L588.08,431.01 L588.22,432.47 L588.36,434.01 L588.50,435.63 L588.65,437.33 L588.79,439.10 L588.93,440.94 L589.07,442.85 L589.21,444.84 L589.35,446.89 L589.49,449.00 L589.63,451.18 L589.77,453.42 L589.91,455.72 L590.05,458.07 L590.20,460.47 L590.34,462.92 L590.48,465.42 L590.62,467.96 L590.76,470.54 L590.90,473.16 L591.04,475.81 L591.18,478.49 L591.32,481.20 L591.46,483.93 L591.60,486.68 L591.75,489.45 L591.89,492.23 L592.03,495.02 L592.17,497.82 L592.31,500.62 L592.45,503.43 L592.59,506.23 L592.73,509.03 L592.87,511.82 L593.01,514.60 L593.16,517.36 L593.30,520.11 L593.44,522.83 L593.58,525.52 L593.72,528.18 L593.86,530.81 L594.00,533.41 L594.14,535.96 L594.28,538.46 L594.42,540.92 L594.56,543.33 L594.71,545.68 L594.85,547.97 L594.99,550.20 L595.13,552.36 L595.27,554.45 L595.41,556.47 L595.55,558.41 L595.69,560.28 L595.83,562.06 L595.97,563.75 L596.11,565.36 L596.26,566.87 L596.40,568.29 L596.54,569.61 L596.68,570.84 L596.82,571.95 L596.96,572.97 L597.10,573.87 L597.24,574.67 L597.38,575.36 L597.52,575.93 L597.67,576.38 L597.81,576.72 L597.95,576.94 L598.09,577.05 L598.23,577.03 L598.37,576.89 L598.51,576.63 L598.65,576.26 L598.79,575.76 L598.93,575.15 L599.07,574.42 L599.22,573.56 L599.36,572.59 L599.50,571.50 L599.64,570.30 L599.78,568.97 L599.92,567.53 L600.06,565.98 L600.20,564.31 L600.34,562.52 L600.48,560.63 L600.62,558.62 L600.77,556.51 L600.91,554.28 L601.05,551.95 L601.19,549.52 L601.33,546.98 L601.47,544.35 L601.61,541.61 L601.75,538.79 L601.89,535.87 L602.03,532.86 L602.18,529.77 L602.32,526.59 L602.46,523.34 L602.60,520.01 L602.74,516.61 L602.88,513.15 L603.02,509.63 L603.16,506.05 L603.30,502.42 L603.44,498.75 L603.58,495.03 L603.73,491.28 L603.87,487.50 L604.01,483.69 L604.15,479.86 L604.29,476.02 L604.43,472.18 L604.57,468.36 L604.71,464.56 L604.85,460.79 L604.99,457.05 L605.13,453.37 L605.28,449.75 L605.42,446.21 L605.56,442.74 L605.70,439.36 L605.84,436.09 L605.98,432.92 L606.12,429.87 L606.26,426.95 L606.40,424.17 L606.54,421.53 L606.69,419.04 L606.83,416.71 L606.97,414.55 L607.11,412.56 L607.25,410.74 L607.39,409.10 L607.53,407.65 L607.67,406.39 L607.81,405.33 L607.95,404.45 L608.09,403.78 L608.24,403.30 L608.38,403.02 L608.52,402.94 L608.66,403.06 L608.80,403.37 L608.94,403.87 L609.08,404.57 L609.22,405.47 L609.36,406.55 L609.50,407.83 L609.64,409.30 L609.79,410.96 L609.93,412.81 L610.07,414.85 L610.21,417.07 L610.35,419.47 L610.49,422.05 L610.63,424.82 L610.77,427.75 L610.91,430.86 L611.05,434.14 L611.20,437.59 L611.34,441.20 L611.48,444.96 L611.62,448.88 L611.76,452.94 L611.90,457.15 L612.04,461.49 L612.18,465.95 L612.32,470.54 L612.46,475.24 L612.60,480.04 L612.75,484.94 L612.89,489.92 L613.03,494.97 L613.17,500.08 L613.31,505.22 L613.45,510.38 L613.59,515.54 L613.73,520.70 L613.87,525.84 L614.01,530.93 L614.15,535.97 L614.30,540.95 L614.44,545.83 L614.58,550.61 L614.72,555.27 L614.86,559.80 L615.00,564.17 L615.14,568.37 L615.28,572.38 L615.42,576.18 L615.56,579.77 L615.70,583.11 L615.85,586.20 L615.99,589.02 L616.13,591.56 L616.27,593.79 L616.41,595.71 L616.55,597.29 L616.69,598.54 L616.83,599.43 L616.97,599.95 L617.11,600.10 L617.26,599.86 L617.40,599.23 L617.54,598.19 L617.68,596.73 L617.82,594.84 L617.96,592.53 L618.10,589.78 L618.24,586.61 L618.38,583.01 L618.52,579.00 L618.66,574.57 L618.81,569.75 L618.95,564.55 L619.09,558.98 L619.23,553.08 L619.37,546.86 L619.51,540.35 L619.65,533.59 L619.79,526.59 L619.93,519.41 L620.07,512.06 L620.21,504.60 L620.36,497.05 L620.50,489.48 L620.64,482.00 L620.78,474.64 L620.92,467.40 L621.06,460.28 L621.20,453.32 L621.34,446.50 L621.48,439.84 L621.62,433.37 L621.77,427.08 L621.91,421.00 L622.05,415.16 L622.19,409.57 L622.33,404.26 L622.47,399.27 L622.61,394.64 L622.75,390.42 L622.89,386.66 L623.03,383.41 L623.17,380.75 L623.32,378.73 L623.46,377.45 L623.60,376.99 L623.74,377.45 L623.88,379.03 L624.02,381.92 L624.16,386.23 L624.30,392.06 L624.44,399.39 L624.58,408.15 L624.72,418.22 L624.87,429.39 L625.01,441.40 L625.15,453.99 L625.29,466.83 L625.43,479.62 L625.57,492.08 L625.71,504.04 L625.85,515.60 L625.99,526.71 L626.13,537.30 L626.28,547.33 L626.42,556.77 L626.56,565.57 L626.70,573.72 L626.84,581.18 L626.98,587.92 L627.12,593.89 L627.26,599.07 L627.40,603.40 L627.54,606.82 L627.68,609.28 L627.83,610.70 L627.97,611.00 L628.11,610.07 L628.25,607.86 L628.39,604.38 L628.53,599.67 L628.67,593.76 L628.81,586.71 L628.95,578.57 L629.09,569.42 L629.23,559.33 L629.38,548.41 L629.52,536.77 L629.66,524.53 L629.80,511.82 L629.94,498.82 L630.08,485.56 L630.22,471.92 L630.36,458.43 L630.50,445.64 L630.64,434.05 L630.79,424.10 L630.93,416.10 L631.07,410.21 L631.21,406.44 L631.35,404.66 L631.49,404.62 L631.63,406.00 L631.77,408.59 L631.91,412.24 L632.05,416.78 L632.19,422.09 L632.34,428.03 L632.48,434.52 L632.62,441.46 L632.76,448.77 L632.90,456.38 L633.04,464.22 L633.18,472.25 L633.32,480.38 L633.46,488.57 L633.60,496.73 L633.74,504.59 L633.89,512.01 L634.03,518.96 L634.17,525.41 L634.31,531.32 L634.45,536.68 L634.59,541.45 L634.73,545.60 L634.87,549.09 L635.01,551.88 L635.15,553.92 L635.30,555.16 L635.44,555.56 L635.58,555.06 L635.72,553.60 L635.86,551.13 L636.00,547.64 L636.14,543.18 L636.28,537.81 L636.42,531.66 L636.56,524.88 L636.70,517.67 L636.85,510.20 L636.99,502.70 L637.13,495.36 L637.27,488.25 L637.41,481.40 L637.55,475.06 L637.69,469.44 L637.83,464.70 L637.97,460.95 L638.11,458.24 L638.25,456.57 L638.40,455.87 L638.54,456.01 L638.68,456.88 L638.82,458.35 L638.96,460.36 L639.10,462.81 L639.24,465.63 L639.38,468.76 L639.52,472.13 L639.66,475.68 L639.80,479.36 L639.95,483.11 L640.09,486.89 L640.23,490.63 L640.37,494.29 L640.51,497.79 L640.65,501.02 L640.79,503.98 L640.93,506.66 L641.07,509.05 L641.21,511.14 L641.36,512.94 L641.50,514.45 L641.64,515.65 L641.78,516.55 L641.92,517.15 L642.06,517.42 L642.20,517.37 L642.34,516.99 L642.48,516.25 L642.62,515.14 L642.76,513.70 L642.91,511.96 L643.05,509.99 L643.19,507.82 L643.33,505.49 L643.47,503.07 L643.61,500.59 L643.75,498.09 L643.89,495.61 L644.03,493.16 L644.17,490.73 L644.31,488.37 L644.46,486.18 L644.60,484.23 L644.74,482.59 L644.88,481.32 L645.02,480.46 L645.16,480.00 L645.30,479.95 L645.44,480.25 L645.58,480.87 L645.72,481.78 L645.87,482.91 L646.01,484.23 L646.15,485.68 L646.29,487.21 L646.43,488.79 L646.57,490.37 L646.71,491.92 L646.85,493.42 L646.99,494.85 L647.13,496.17 L647.27,497.39 L647.42,498.50 L647.56,499.51 L647.70,500.42 L647.84,501.24 L647.98,501.96 L648.12,502.58 L648.26,503.10 L648.40,503.52 L648.54,503.83 L648.68,504.03 L648.82,504.09 L648.97,504.01 L649.11,503.79 L649.25,503.42 L649.39,502.90 L649.53,502.26 L649.67,501.50 L649.81,500.64 L649.95,499.69 L650.09,498.68 L650.23,497.62 L650.38,496.54 L650.52,495.46 L650.66,494.40 L650.80,493.39 L650.94,492.45 L651.08,491.60 L651.22,490.85 L651.36,490.23 L651.50,489.74 L651.64,489.39 L651.78,489.19 L651.93,489.13 L652.07,489.21 L652.21,489.40 L652.35,489.65 L652.49,489.97 L652.63,490.36 L652.77,490.79 L652.91,491.26 L653.05,491.77 L653.19,492.29 L653.33,492.82 L653.48,493.35 L653.62,493.87 L653.76,494.38 L653.90,494.85 L654.04,495.30 L654.18,495.70 L654.32,496.07 L654.46,496.38 L654.60,496.64 L654.74,496.86 L654.89,497.02 L655.03,497.13 L655.17,497.18 L655.31,497.19 L655.45,497.15 L655.59,497.06 L655.73,496.94 L655.87,496.78 L656.01,496.59 L656.15,496.38 L656.29,496.14 L656.44,495.89 L656.58,495.63 L656.72,495.37 L656.86,495.10 L657.00,494.84 L657.14,494.59 L657.28,494.34 L657.42,494.12 L657.56,493.92 L657.70,493.73 L657.84,493.57 L657.99,493.44 L658.13,493.33 L658.27,493.25 L658.41,493.19 L658.55,493.16 L658.69,493.15 L658.83,493.17 L658.97,493.21 L659.11,493.27 L659.25,493.35 L659.40,493.44 L659.54,493.55 L659.68,493.67 L659.82,493.79 L659.96,493.92 L660.10,494.05 L660.24,494.19 L660.38,494.32 L660.52,494.45 L660.66,494.57 L660.80,494.68 L660.95,494.78 L661.09,494.88 L661.23,494.96 L661.37,495.03 L661.51,495.08 L661.65,495.12 L661.79,495.15 L661.93,495.17 L662.07,495.17 L662.21,495.17 L662.35,495.15 L662.50,495.12 L662.64,495.08 L662.78,495.03 L662.92,494.98 L663.06,494.92 L663.20,494.86 L663.34,494.80 L663.48,494.73 L663.62,494.66 L663.76,494.60 L663.90,494.53 L664.05,494.47 L664.19,494.42 L664.33,494.36 L664.47,494.32 L664.61,494.27 L664.75,494.24 L664.89,494.21 L665.03,494.19 L665.17,494.17 L665.31,494.16 L665.46,494.16 L665.60,494.17 L665.74,494.17 L665.88,494.19 L666.02,494.21 L666.16,494.23 L666.30,494.26 L666.44,494.29 L666.58,494.32 L666.72,494.35 L666.86,494.38 L667.01,494.42 L667.15,494.45 L667.29,494.48 L667.43,494.51 L667.57,494.54 L667.71,494.57 L667.85,494.59 L667.99,494.61 L668.13,494.63 L668.27,494.64 L668.41,494.65 L668.56,494.66 L668.70,494.67 L668.84,494.67 L668.98,494.67 L669.12,494.66 L669.26,494.66 L669.40,494.65 L669.54,494.64 L669.68,494.62 L669.82,494.61 L669.97,494.59 L670.11,494.58 L670.25,494.56 L670.39,494.54 L670.53,494.53 L670.67,494.51 L670.81,494.50 L670.95,494.48 L671.09,494.47 L671.23,494.46 L671.37,494.45 L671.52,494.44 L671.66,494.43 L671.80,494.42 L671.94,494.42 L672.08,494.42 L672.22,494.42 L672.36,494.42 L672.50,494.42 L672.64,494.42 L672.78,494.43 L672.92,494.43 L673.07,494.44 L673.21,494.44 L673.35,494.45 L673.49,494.46 L673.63,494.47 L673.77,494.48 L673.91,494.49 L674.05,494.49 L674.19,494.50 L674.33,494.51 L674.48,494.52 L674.62,494.52 L674.76,494.53 L674.90,494.53 L675.04,494.54 L675.18,494.54 L675.32,494.54 L675.46,494.54 L675.60,494.54 L675.74,494.54 L675.88,494.54 L676.03,494.54 L676.17,494.54 L676.31,494.53 L676.45,494.53 L676.59,494.53 L676.73,494.52 L676.87,494.52 L677.01,494.52 L677.15,494.51 L677.29,494.51 L677.43,494.50 L677.58,494.50 L677.72,494.50 L677.86,494.49 L678.00,494.49 L678.14,494.49 L678.28,494.48 L678.42,494.48 L678.56,494.48 L678.70,494.48 L678.84,494.48 L678.99,494.48 L679.13,494.48 L679.27,494.48 L679.41,494.48 L679.55,494.48 L679.69,494.48 L679.83,494.48 L679.97,494.49 L680.11,494.49 L680.25,494.49 L680.39,494.49 L680.54,494.49 L680.68,494.50 L680.82,494.50 L680.96,494.50 L681.10,494.50 L681.24,494.50 L681.38,494.51 L681.52,494.51 L681.66,494.51 L681.80,494.51 L681.94,494.51 L682.09,494.51 L682.23,494.51 L682.37,494.51 L682.51,494.51 L682.65,494.51 L682.79,494.51 L682.93,494.51 L683.07,494.51 L683.21,494.51 L683.35,494.51 L683.50,494.51 L683.64,494.51 L683.78,494.50 L683.92,494.50 L684.06,494.50 L684.20,494.50 L684.34,494.50 L684.48,494.50 L684.62,494.50 L684.76,494.50 L684.90,494.50" stroke="#4c72b0" stroke-width="1.45" stroke-dasharray="5.3 2.3"/>
<path d="M257.59,509.01 L257.73,509.61 L257.87,510.19 L258.01,510.78 L258.15,511.37 L258.29,511.95 L258.43,512.53 L258.57,513.10 L258.71,513.68 L258.86,514.25 L259.00,514.82 L259.14,515.38 L259.28,515.94 L259.42,516.50 L259.56,517.05 L259.70,517.60 L259.84,518.14 L259.98,518.68 L260.12,519.22 L260.27,519.75 L260.41,520.28 L260.55,520.80 L260.69,521.32 L260.83,521.83 L260.97,522.34 L261.11,522.84 L261.25,523.34 L261.39,523.83 L261.53,524.32 L261.67,524.80 L261.82,525.27 L261.96,525.74 L262.10,526.20 L262.24,526.66 L262.38,527.11 L262.52,527.55 L262.66,527.99 L262.80,528.42 L262.94,528.84 L263.08,529.26 L263.22,529.67 L263.37,530.07 L263.51,530.47 L263.65,530.86 L263.79,531.24 L263.93,531.61 L264.07,531.98 L264.21,532.33 L264.35,532.68 L264.49,533.03 L264.63,533.36 L264.77,533.68 L264.92,534.00 L265.06,534.31 L265.20,534.61 L265.34,534.90 L265.48,535.18 L265.62,535.46 L265.76,535.72 L265.90,535.98 L266.04,536.23 L266.18,536.46 L266.33,536.69 L266.47,536.91 L266.61,537.12 L266.75,537.32 L266.89,537.51 L267.03,537.70 L267.17,537.87 L267.31,538.03 L267.45,538.18 L267.59,538.32 L267.73,538.46 L267.88,538.58 L268.02,538.69 L268.16,538.79 L268.30,538.89 L268.44,538.97 L268.58,539.04 L268.72,539.10 L268.86,539.15 L269.00,539.19 L269.14,539.22 L269.28,539.24 L269.43,539.25 L269.57,539.25 L269.71,539.24 L269.85,539.21 L269.99,539.18 L270.13,539.14 L270.27,539.08 L270.41,539.02 L270.55,538.94 L270.69,538.85 L270.84,538.76 L270.98,538.65 L271.12,538.53 L271.26,538.40 L271.40,538.26 L271.54,538.10 L271.68,537.94 L271.82,537.77 L271.96,537.58 L272.10,537.39 L272.24,537.18 L272.39,536.96 L272.53,536.74 L272.67,536.50 L272.81,536.25 L272.95,535.99 L273.09,535.72 L273.23,535.44 L273.37,535.14 L273.51,534.84 L273.65,534.53 L273.79,534.20 L273.94,533.87 L274.08,533.53 L274.22,533.17 L274.36,532.81 L274.50,532.43 L274.64,532.05 L274.78,531.66 L274.92,531.25 L275.06,530.84 L275.20,530.41 L275.35,529.98 L275.49,529.54 L275.63,529.09 L275.77,528.63 L275.91,528.16 L276.05,527.68 L276.19,527.19 L276.33,526.70 L276.47,526.19 L276.61,525.68 L276.75,525.16 L276.90,524.63 L277.04,524.10 L277.18,523.55 L277.32,523.00 L277.46,522.44 L277.60,521.87 L277.74,521.30 L277.88,520.72 L278.02,520.13 L278.16,519.54 L278.30,518.93 L278.45,518.33 L278.59,517.71 L278.73,517.09 L278.87,516.47 L279.01,515.84 L279.15,515.20 L279.29,514.56 L279.43,513.92 L279.57,513.26 L279.71,512.61 L279.86,511.95 L280.00,511.28 L280.14,510.61 L280.28,509.94 L280.42,509.27 L280.56,508.59 L280.70,507.90 L280.84,507.22 L280.98,506.53 L281.12,505.84 L281.26,505.14 L281.41,504.44 L281.55,503.75 L281.69,503.05 L281.83,502.34 L281.97,501.64 L282.11,500.93 L282.25,500.23 L282.39,499.52 L282.53,498.81 L282.67,498.11 L282.81,497.40 L282.96,496.69 L283.10,495.98 L283.24,495.27 L283.38,494.56 L283.52,493.86 L283.66,493.15 L283.80,492.45 L283.94,491.74 L284.08,491.04 L284.22,490.33 L284.37,489.63 L284.51,488.93 L284.65,488.23 L284.79,487.54 L284.93,486.84 L285.07,486.15 L285.21,485.46 L285.35,484.78 L285.49,484.09 L285.63,483.41 L285.77,482.73 L285.92,482.05 L286.06,481.38 L286.20,480.71 L286.34,480.05 L286.48,479.38 L286.62,478.73 L286.76,478.07 L286.90,477.42 L287.04,476.78 L287.18,476.14 L287.32,475.50 L287.47,474.87 L287.61,474.24 L287.75,473.62 L287.89,473.00 L288.03,472.39 L288.17,471.78 L288.31,471.18 L288.45,470.58 L288.59,469.99 L288.73,469.41 L288.88,468.83 L289.02,468.26 L289.16,467.69 L289.30,467.14 L289.44,466.58 L289.58,466.04 L289.72,465.50 L289.86,464.97 L290.00,464.44 L290.14,463.92 L290.28,463.41 L290.43,462.91 L290.57,462.41 L290.71,461.92 L290.85,461.44 L290.99,460.97 L291.13,460.50 L291.27,460.05 L291.41,459.60 L291.55,459.16 L291.69,458.73 L291.83,458.30 L291.98,457.89 L292.12,457.48 L292.26,457.08 L292.40,456.69 L292.54,456.31 L292.68,455.94 L292.82,455.58 L292.96,455.23 L293.10,454.88 L293.24,454.55 L293.38,454.22 L293.53,453.91 L293.67,453.60 L293.81,453.31 L293.95,453.02 L294.09,452.74 L294.23,452.48 L294.37,452.22 L294.51,451.98 L294.65,451.74 L294.79,451.51 L294.94,451.30 L295.08,451.09 L295.22,450.90 L295.36,450.71 L295.50,450.54 L295.64,450.38 L295.78,450.23 L295.92,450.09 L296.06,449.96 L296.20,449.84 L296.34,449.73 L296.49,449.63 L296.63,449.54 L296.77,449.47 L296.91,449.40 L297.05,449.35 L297.19,449.31 L297.33,449.28 L297.47,449.26 L297.61,449.25 L297.75,449.25 L297.89,449.27 L298.04,449.29 L298.18,449.33 L298.32,449.37 L298.46,449.43 L298.60,449.50 L298.74,449.58 L298.88,449.67 L299.02,449.77 L299.16,449.89 L299.30,450.01 L299.45,450.15 L299.59,450.29 L299.73,450.45 L299.87,450.62 L300.01,450.80 L300.15,450.99 L300.29,451.19 L300.43,451.40 L300.57,451.63 L300.71,451.86 L300.85,452.11 L301.00,452.36 L301.14,452.63 L301.28,452.91 L301.42,453.20 L301.56,453.50 L301.70,453.81 L301.84,454.13 L301.98,454.47 L302.12,454.81 L302.26,455.16 L302.40,455.53 L302.55,455.90 L302.69,456.29 L302.83,456.68 L302.97,457.09 L303.11,457.50 L303.25,457.93 L303.39,458.36 L303.53,458.81 L303.67,459.26 L303.81,459.73 L303.96,460.20 L304.10,460.69 L304.24,461.18 L304.38,461.68 L304.52,462.19 L304.66,462.71 L304.80,463.24 L304.94,463.78 L305.08,464.33 L305.22,464.88 L305.36,465.45 L305.51,466.02 L305.65,466.60 L305.79,467.19 L305.93,467.79 L306.07,468.39 L306.21,469.00 L306.35,469.62 L306.49,470.25 L306.63,470.88 L306.77,471.52 L306.91,472.17 L307.06,472.82 L307.20,473.48 L307.34,474.15 L307.48,474.82 L307.62,475.50 L307.76,476.18 L307.90,476.87 L308.04,477.57 L308.18,478.27 L308.32,478.97 L308.47,479.68 L308.61,480.40 L308.75,481.12 L308.89,481.84 L309.03,482.57 L309.17,483.30 L309.31,484.03 L309.45,484.77 L309.59,485.51 L309.73,486.25 L309.87,487.00 L310.02,487.75 L310.16,488.50 L310.30,489.25 L310.44,490.00 L310.58,490.76 L310.72,491.52 L310.86,492.28 L311.00,493.03 L311.14,493.79 L311.28,494.55 L311.42,495.32 L311.57,496.08 L311.71,496.84 L311.85,497.60 L311.99,498.36 L312.13,499.12 L312.27,499.88 L312.41,500.64 L312.55,501.40 L312.69,502.16 L312.83,502.91 L312.98,503.67 L313.12,504.42 L313.26,505.17 L313.40,505.91 L313.54,506.66 L313.68,507.40 L313.82,508.14 L313.96,508.87 L314.10,509.61 L314.24,510.33 L314.38,511.06 L314.53,511.78 L314.67,512.49 L314.81,513.20 L314.95,513.91 L315.09,514.61 L315.23,515.30 L315.37,515.99 L315.51,516.68 L315.65,517.36 L315.79,518.03 L315.93,518.70 L316.08,519.36 L316.22,520.01 L316.36,520.65 L316.50,521.29 L316.64,521.92 L316.78,522.55 L316.92,523.17 L317.06,523.77 L317.20,524.38 L317.34,524.97 L317.48,525.55 L317.63,526.13 L317.77,526.70 L317.91,527.25 L318.05,527.80 L318.19,528.34 L318.33,528.87 L318.47,529.39 L318.61,529.91 L318.75,530.41 L318.89,530.90 L319.04,531.38 L319.18,531.85 L319.32,532.31 L319.46,532.76 L319.60,533.20 L319.74,533.63 L319.88,534.05 L320.02,534.46 L320.16,534.86 L320.30,535.24 L320.44,535.62 L320.59,535.98 L320.73,536.33 L320.87,536.67 L321.01,537.00 L321.15,537.31 L321.29,537.62 L321.43,537.91 L321.57,538.19 L321.71,538.46 L321.85,538.72 L321.99,538.96 L322.14,539.19 L322.28,539.41 L322.42,539.62 L322.56,539.82 L322.70,540.00 L322.84,540.17 L322.98,540.33 L323.12,540.47 L323.26,540.61 L323.40,540.73 L323.55,540.83 L323.69,540.93 L323.83,541.01 L323.97,541.08 L324.11,541.14 L324.25,541.19 L324.39,541.22 L324.53,541.24 L324.67,541.25 L324.81,541.25 L324.95,541.23 L325.10,541.20 L325.24,541.16 L325.38,541.11 L325.52,541.04 L325.66,540.96 L325.80,540.87 L325.94,540.77 L326.08,540.65 L326.22,540.53 L326.36,540.39 L326.50,540.24 L326.65,540.08 L326.79,539.90 L326.93,539.72 L327.07,539.52 L327.21,539.31 L327.35,539.09 L327.49,538.86 L327.63,538.61 L327.77,538.36 L327.91,538.09 L328.06,537.82 L328.20,537.53 L328.34,537.23 L328.48,536.92 L328.62,536.60 L328.76,536.27 L328.90,535.92 L329.04,535.57 L329.18,535.21 L329.32,534.84 L329.46,534.45 L329.61,534.06 L329.75,533.65 L329.89,533.24 L330.03,532.81 L330.17,532.38 L330.31,531.94 L330.45,531.48 L330.59,531.02 L330.73,530.55 L330.87,530.07 L331.01,529.58 L331.16,529.08 L331.30,528.57 L331.44,528.05 L331.58,527.53 L331.72,526.99 L331.86,526.45 L332.00,525.90 L332.14,525.34 L332.28,524.77 L332.42,524.20 L332.57,523.62 L332.71,523.03 L332.85,522.43 L332.99,521.82 L333.13,521.21 L333.27,520.59 L333.41,519.97 L333.55,519.33 L333.69,518.69 L333.83,518.05 L333.97,517.39 L334.12,516.73 L334.26,516.07 L334.40,515.40 L334.54,514.72 L334.68,514.04 L334.82,513.35 L334.96,512.65 L335.10,511.96 L335.24,511.25 L335.38,510.54 L335.52,509.83 L335.67,509.11 L335.81,508.39 L335.95,507.66 L336.09,506.93 L336.23,506.20 L336.37,505.46 L336.51,504.72 L336.65,503.97 L336.79,503.23 L336.93,502.48 L337.08,501.72 L337.22,500.97 L337.36,500.21 L337.50,499.44 L337.64,498.68 L337.78,497.92 L337.92,497.15 L338.06,496.38 L338.20,495.61 L338.34,494.84 L338.48,494.07 L338.63,493.30 L338.77,492.52 L338.91,491.75 L339.05,490.98 L339.19,490.21 L339.33,489.44 L339.47,488.67 L339.61,487.90 L339.75,487.13 L339.89,486.36 L340.03,485.60 L340.18,484.84 L340.32,484.08 L340.46,483.32 L340.60,482.56 L340.74,481.81 L340.88,481.06 L341.02,480.32 L341.16,479.58 L341.30,478.84 L341.44,478.10 L341.58,477.37 L341.73,476.65 L341.87,475.93 L342.01,475.21 L342.15,474.50 L342.29,473.79 L342.43,473.09 L342.57,472.39 L342.71,471.70 L342.85,471.02 L342.99,470.34 L343.14,469.67 L343.28,469.01 L343.42,468.35 L343.56,467.70 L343.70,467.05 L343.84,466.42 L343.98,465.79 L344.12,465.17 L344.26,464.55 L344.40,463.95 L344.54,463.35 L344.69,462.76 L344.83,462.18 L344.97,461.61 L345.11,461.05 L345.25,460.49 L345.39,459.95 L345.53,459.42 L345.67,458.89 L345.81,458.38 L345.95,457.87 L346.09,457.38 L346.24,456.89 L346.38,456.42 L346.52,455.95 L346.66,455.50 L346.80,455.06 L346.94,454.63 L347.08,454.21 L347.22,453.80 L347.36,453.40 L347.50,453.01 L347.65,452.64 L347.79,452.28 L347.93,451.92 L348.07,451.59 L348.21,451.26 L348.35,450.94 L348.49,450.64 L348.63,450.35 L348.77,450.07 L348.91,449.81 L349.05,449.56 L349.20,449.32 L349.34,449.09 L349.48,448.88 L349.62,448.67 L349.76,448.49 L349.90,448.31 L350.04,448.15 L350.18,448.00 L350.32,447.87 L350.46,447.74 L350.60,447.63 L350.75,447.54 L350.89,447.46 L351.03,447.39 L351.17,447.33 L351.31,447.29 L351.45,447.27 L351.59,447.25 L351.73,447.25 L351.87,447.26 L352.01,447.29 L352.16,447.33 L352.30,447.38 L352.44,447.45 L352.58,447.53 L352.72,447.63 L352.86,447.73 L353.00,447.86 L353.14,447.99 L353.28,448.14 L353.42,448.30 L353.56,448.48 L353.71,448.67 L353.85,448.87 L353.99,449.08 L354.13,449.31 L354.27,449.56 L354.41,449.81 L354.55,450.08 L354.69,450.36 L354.83,450.66 L354.97,450.97 L355.11,451.29 L355.26,451.62 L355.40,451.97 L355.54,452.33 L355.68,452.70 L355.82,453.09 L355.96,453.48 L356.10,453.89 L356.24,454.32 L356.38,454.75 L356.52,455.20 L356.67,455.66 L356.81,456.13 L356.95,456.61 L357.09,457.10 L357.23,457.61 L357.37,458.12 L357.51,458.65 L357.65,459.19 L357.79,459.74 L357.93,460.30 L358.07,460.87 L358.22,461.45 L358.36,462.04 L358.50,462.64 L358.64,463.25 L358.78,463.87 L358.92,464.50 L359.06,465.14 L359.20,465.79 L359.34,466.45 L359.48,467.12 L359.62,467.79 L359.77,468.48 L359.91,469.17 L360.05,469.87 L360.19,470.58 L360.33,471.29 L360.47,472.02 L360.61,472.75 L360.75,473.49 L360.89,474.23 L361.03,474.98 L361.18,475.74 L361.32,476.50 L361.46,477.27 L361.60,478.05 L361.74,478.83 L361.88,479.61 L362.02,480.40 L362.16,481.20 L362.30,482.00 L362.44,482.80 L362.58,483.61 L362.73,484.42 L362.87,485.24 L363.01,486.05 L363.15,486.88 L363.29,487.70 L363.43,488.53 L363.57,489.35 L363.71,490.18 L363.85,491.02 L363.99,491.85 L364.13,492.69 L364.28,493.52 L364.42,494.36 L364.56,495.20 L364.70,496.03 L364.84,496.87 L364.98,497.71 L365.12,498.54 L365.26,499.38 L365.40,500.22 L365.54,501.05 L365.68,501.88 L365.83,502.72 L365.97,503.54 L366.11,504.37 L366.25,505.20 L366.39,506.02 L366.53,506.84 L366.67,507.65 L366.81,508.47 L366.95,509.28 L367.09,510.08 L367.24,510.88 L367.38,511.68 L367.52,512.47 L367.66,513.26 L367.80,514.04 L367.94,514.81 L368.08,515.58 L368.22,516.35 L368.36,517.10 L368.50,517.85 L368.64,518.60 L368.79,519.34 L368.93,520.07 L369.07,520.79 L369.21,521.50 L369.35,522.21 L369.49,522.91 L369.63,523.60 L369.77,524.28 L369.91,524.95 L370.05,525.62 L370.19,526.27 L370.34,526.92 L370.48,527.55 L370.62,528.18 L370.76,528.79 L370.90,529.39 L371.04,529.99 L371.18,530.57 L371.32,531.14 L371.46,531.70 L371.60,532.25 L371.75,532.79 L371.89,533.32 L372.03,533.83 L372.17,534.33 L372.31,534.82 L372.45,535.30 L372.59,535.76 L372.73,536.22 L372.87,536.66 L373.01,537.08 L373.15,537.49 L373.30,537.89 L373.44,538.28 L373.58,538.65 L373.72,539.01 L373.86,539.35 L374.00,539.69 L374.14,540.00 L374.28,540.30 L374.42,540.59 L374.56,540.87 L374.70,541.13 L374.85,541.37 L374.99,541.60 L375.13,541.82 L375.27,542.02 L375.41,542.20 L375.55,542.37 L375.69,542.53 L375.83,542.67 L375.97,542.79 L376.11,542.90 L376.26,543.00 L376.40,543.08 L376.54,543.14 L376.68,543.19 L376.82,543.23 L376.96,543.25 L377.10,543.25 L377.24,543.24 L377.38,543.21 L377.52,543.17 L377.66,543.11 L377.81,543.04 L377.95,542.95 L378.09,542.85 L378.23,542.73 L378.37,542.60 L378.51,542.45 L378.65,542.29 L378.79,542.11 L378.93,541.92 L379.07,541.72 L379.21,541.49 L379.36,541.26 L379.50,541.01 L379.64,540.74 L379.78,540.46 L379.92,540.17 L380.06,539.86 L380.20,539.54 L380.34,539.20 L380.48,538.85 L380.62,538.49 L380.77,538.11 L380.91,537.72 L381.05,537.32 L381.19,536.90 L381.33,536.47 L381.47,536.02 L381.61,535.57 L381.75,535.10 L381.89,534.61 L382.03,534.12 L382.17,533.61 L382.32,533.09 L382.46,532.56 L382.60,532.02 L382.74,531.46 L382.88,530.90 L383.02,530.32 L383.16,529.73 L383.30,529.13 L383.44,528.52 L383.58,527.90 L383.72,527.27 L383.87,526.62 L384.01,525.97 L384.15,525.31 L384.29,524.64 L384.43,523.96 L384.57,523.27 L384.71,522.57 L384.85,521.86 L384.99,521.15 L385.13,520.42 L385.28,519.69 L385.42,518.95 L385.56,518.20 L385.70,517.45 L385.84,516.68 L385.98,515.92 L386.12,515.14 L386.26,514.36 L386.40,513.57 L386.54,512.77 L386.68,511.97 L386.83,511.17 L386.97,510.36 L387.11,509.54 L387.25,508.72 L387.39,507.89 L387.53,507.06 L387.67,506.23 L387.81,505.39 L387.95,504.55 L388.09,503.71 L388.23,502.86 L388.38,502.01 L388.52,501.16 L388.66,500.31 L388.80,499.45 L388.94,498.59 L389.08,497.73 L389.22,496.87 L389.36,496.01 L389.50,495.15 L389.64,494.29 L389.78,493.43 L389.93,492.57 L390.07,491.71 L390.21,490.85 L390.35,489.99 L390.49,489.14 L390.63,488.28 L390.77,487.43 L390.91,486.58 L391.05,485.74 L391.19,484.89 L391.34,484.05 L391.48,483.22 L391.62,482.38 L391.76,481.56 L391.90,480.73 L392.04,479.91 L392.18,479.09 L392.32,478.28 L392.46,477.48 L392.60,476.67 L392.74,475.88 L392.89,475.09 L393.03,474.30 L393.17,473.53 L393.31,472.75 L393.45,471.99 L393.59,471.23 L393.73,470.48 L393.87,469.73 L394.01,469.00 L394.15,468.27 L394.29,467.54 L394.44,466.83 L394.58,466.12 L394.72,465.42 L394.86,464.74 L395.00,464.06 L395.14,463.38 L395.28,462.72 L395.42,462.07 L395.56,461.42 L395.70,460.79 L395.85,460.17 L395.99,459.55 L396.13,458.95 L396.27,458.36 L396.41,457.77 L396.55,457.20 L396.69,456.64 L396.83,456.09 L396.97,455.55 L397.11,455.03 L397.25,454.51 L397.40,454.01 L397.54,453.52 L397.68,453.04 L397.82,452.57 L397.96,452.12 L398.10,451.67 L398.24,451.25 L398.38,450.83 L398.52,450.43 L398.66,450.04 L398.80,449.66 L398.95,449.30 L399.09,448.95 L399.23,448.62 L399.37,448.29 L399.51,447.99 L399.65,447.70 L399.79,447.42 L399.93,447.15 L400.07,446.90 L400.21,446.67 L400.36,446.45 L400.50,446.25 L400.64,446.06 L400.78,445.88 L400.92,445.72 L401.06,445.58 L401.20,445.45 L401.34,445.34 L401.48,445.24 L401.62,445.16 L401.76,445.10 L401.91,445.05 L402.05,445.02 L402.19,445.00 L402.33,445.00 L402.47,445.02 L402.61,445.05 L402.75,445.10 L402.89,445.16 L403.03,445.24 L403.17,445.34 L403.31,445.45 L403.46,445.58 L403.60,445.73 L403.74,445.89 L403.88,446.07 L404.02,446.26 L404.16,446.48 L404.30,446.71 L404.44,446.95 L404.58,447.21 L404.72,447.49 L404.87,447.79 L405.01,448.10 L405.15,448.42 L405.29,448.77 L405.43,449.13 L405.57,449.50 L405.71,449.89 L405.85,450.30 L405.99,450.72 L406.13,451.16 L406.27,451.62 L406.42,452.09 L406.56,452.57 L406.70,453.07 L406.84,453.59 L406.98,454.12 L407.12,454.66 L407.26,455.22 L407.40,455.80 L407.54,456.39 L407.68,456.99 L407.82,457.61 L407.97,458.24 L408.11,458.88 L408.25,459.54 L408.39,460.21 L408.53,460.89 L408.67,461.59 L408.81,462.29 L408.95,463.01 L409.09,463.75 L409.23,464.49 L409.38,465.24 L409.52,466.01 L409.66,466.79 L409.80,467.57 L409.94,468.37 L410.08,469.18 L410.22,469.99 L410.36,470.82 L410.50,471.66 L410.64,472.50 L410.78,473.35 L410.93,474.21 L411.07,475.08 L411.21,475.95 L411.35,476.84 L411.49,477.73 L411.63,478.62 L411.77,479.52 L411.91,480.43 L412.05,481.34 L412.19,482.26 L412.33,483.18 L412.48,484.11 L412.62,485.04 L412.76,485.98 L412.90,486.91 L413.04,487.85 L413.18,488.80 L413.32,489.74 L413.46,490.69 L413.60,491.64 L413.74,492.59 L413.88,493.53 L414.03,494.48 L414.17,495.43 L414.31,496.38 L414.45,497.33 L414.59,498.28 L414.73,499.23 L414.87,500.18 L415.01,501.12 L415.15,502.07 L415.29,503.01 L415.44,503.95 L415.58,504.88 L415.72,505.82 L415.86,506.74 L416.00,507.67 L416.14,508.59 L416.28,509.50 L416.42,510.42 L416.56,511.32 L416.70,512.22 L416.84,513.11 L416.99,514.00 L417.13,514.88 L417.27,515.76 L417.41,516.62 L417.55,517.48 L417.69,518.33 L417.83,519.18 L417.97,520.01 L418.11,520.84 L418.25,521.65 L418.39,522.46 L418.54,523.26 L418.68,524.04 L418.82,524.82 L418.96,525.59 L419.10,526.34 L419.24,527.09 L419.38,527.82 L419.52,528.54 L419.66,529.25 L419.80,529.95 L419.95,530.63 L420.09,531.31 L420.23,531.97 L420.37,532.61 L420.51,533.24 L420.65,533.86 L420.79,534.47 L420.93,535.06 L421.07,535.64 L421.21,536.20 L421.35,536.75 L421.50,537.28 L421.64,537.80 L421.78,538.30 L421.92,538.78 L422.06,539.25 L422.20,539.71 L422.34,540.15 L422.48,540.57 L422.62,540.98 L422.76,541.37 L422.90,541.74 L423.05,542.09 L423.19,542.43 L423.33,542.76 L423.47,543.06 L423.61,543.35 L423.75,543.62 L423.89,543.87 L424.03,544.10 L424.17,544.32 L424.31,544.52 L424.46,544.70 L424.60,544.87 L424.74,545.01 L424.88,545.14 L425.02,545.25 L425.16,545.34 L425.30,545.41 L425.44,545.46 L425.58,545.50 L425.72,545.52 L425.86,545.52 L426.01,545.50 L426.15,545.46 L426.29,545.41 L426.43,545.33 L426.57,545.24 L426.71,545.13 L426.85,545.00 L426.99,544.85 L427.13,544.69 L427.27,544.51 L427.41,544.30 L427.56,544.08 L427.70,543.85 L427.84,543.59 L427.98,543.32 L428.12,543.03 L428.26,542.72 L428.40,542.40 L428.54,542.05 L428.68,541.70 L428.82,541.32 L428.97,540.92 L429.11,540.51 L429.25,540.09 L429.39,539.64 L429.53,539.18 L429.67,538.71 L429.81,538.21 L429.95,537.71 L430.09,537.18 L430.23,536.64 L430.37,536.09 L430.52,535.52 L430.66,534.93 L430.80,534.33 L430.94,533.72 L431.08,533.09 L431.22,532.45 L431.36,531.79 L431.50,531.12 L431.64,530.44 L431.78,529.75 L431.92,529.04 L432.07,528.31 L432.21,527.58 L432.35,526.83 L432.49,526.08 L432.63,525.31 L432.77,524.53 L432.91,523.73 L433.05,522.93 L433.19,522.12 L433.33,521.29 L433.48,520.46 L433.62,519.62 L433.76,518.77 L433.90,517.91 L434.04,517.04 L434.18,516.16 L434.32,515.27 L434.46,514.38 L434.60,513.48 L434.74,512.57 L434.88,511.65 L435.03,510.73 L435.17,509.80 L435.31,508.87 L435.45,507.93 L435.59,506.99 L435.73,506.04 L435.87,505.09 L436.01,504.13 L436.15,503.17 L436.29,502.20 L436.43,501.24 L436.58,500.26 L436.72,499.29 L436.86,498.32 L437.00,497.34 L437.14,496.36 L437.28,495.39 L437.42,494.41 L437.56,493.43 L437.70,492.45 L437.84,491.47 L437.99,490.50 L438.13,489.52 L438.27,488.55 L438.41,487.58 L438.55,486.61 L438.69,485.65 L438.83,484.69 L438.97,483.73 L439.11,482.78 L439.25,481.83 L439.39,480.88 L439.54,479.94 L439.68,479.01 L439.82,478.08 L439.96,477.16 L440.10,476.24 L440.24,475.33 L440.38,474.42 L440.52,473.53 L440.66,472.64 L440.80,471.75 L440.94,470.88 L441.09,470.01 L441.23,469.15 L441.37,468.30 L441.51,467.46 L441.65,466.63 L441.79,465.81 L441.93,464.99 L442.07,464.19 L442.21,463.40 L442.35,462.62 L442.49,461.85 L442.64,461.09 L442.78,460.34 L442.92,459.60 L443.06,458.88 L443.20,458.16 L443.34,457.46 L443.48,456.77 L443.62,456.10 L443.76,455.44 L443.90,454.79 L444.05,454.15 L444.19,453.53 L444.33,452.93 L444.47,452.34 L444.61,451.76 L444.75,451.19 L444.89,450.65 L445.03,450.11 L445.17,449.60 L445.31,449.10 L445.45,448.61 L445.60,448.14 L445.74,447.69 L445.88,447.25 L446.02,446.84 L446.16,446.43 L446.30,446.05 L446.44,445.68 L446.58,445.33 L446.72,445.00 L446.86,444.69 L447.00,444.39 L447.15,444.11 L447.29,443.85 L447.43,443.61 L447.57,443.39 L447.71,443.19 L447.85,443.01 L447.99,442.84 L448.13,442.70 L448.27,442.58 L448.41,442.47 L448.56,442.39 L448.70,442.32 L448.84,442.28 L448.98,442.25 L449.12,442.25 L449.26,442.27 L449.40,442.30 L449.54,442.36 L449.68,442.44 L449.82,442.54 L449.96,442.66 L450.11,442.80 L450.25,442.96 L450.39,443.14 L450.53,443.34 L450.67,443.57 L450.81,443.81 L450.95,444.07 L451.09,444.36 L451.23,444.67 L451.37,444.99 L451.51,445.34 L451.66,445.71 L451.80,446.09 L451.94,446.50 L452.08,446.93 L452.22,447.37 L452.36,447.84 L452.50,448.33 L452.64,448.84 L452.78,449.36 L452.92,449.91 L453.07,450.47 L453.21,451.05 L453.35,451.65 L453.49,452.27 L453.63,452.91 L453.77,453.57 L453.91,454.24 L454.05,454.93 L454.19,455.64 L454.33,456.37 L454.47,457.11 L454.62,457.87 L454.76,458.65 L454.90,459.44 L455.04,460.24 L455.18,461.06 L455.32,461.90 L455.46,462.75 L455.60,463.62 L455.74,464.50 L455.88,465.39 L456.02,466.30 L456.17,467.22 L456.31,468.15 L456.45,469.10 L456.59,470.05 L456.73,471.02 L456.87,472.00 L457.01,472.99 L457.15,473.98 L457.29,474.99 L457.43,476.01 L457.58,477.04 L457.72,478.07 L457.86,479.12 L458.00,480.17 L458.14,481.23 L458.28,482.29 L458.42,483.36 L458.56,484.44 L458.70,485.52 L458.84,486.61 L458.98,487.70 L459.13,488.79 L459.27,489.89 L459.41,490.99 L459.55,492.10 L459.69,493.20 L459.83,494.31 L459.97,495.42 L460.11,496.53 L460.25,497.64 L460.39,498.74 L460.53,499.85 L460.68,500.96 L460.82,502.06 L460.96,503.16 L461.10,504.26 L461.24,505.35 L461.38,506.44 L461.52,507.53 L461.66,508.61 L461.80,509.68 L461.94,510.75 L462.09,511.81 L462.23,512.87 L462.37,513.92 L462.51,514.96 L462.65,515.99 L462.79,517.01 L462.93,518.03 L463.07,519.03 L463.21,520.02 L463.35,521.01 L463.49,521.98 L463.64,522.94 L463.78,523.89 L463.92,524.82 L464.06,525.74 L464.20,526.65 L464.34,527.55 L464.48,528.43 L464.62,529.29 L464.76,530.14 L464.90,530.98 L465.04,531.80 L465.19,532.60 L465.33,533.39 L465.47,534.16 L465.61,534.91 L465.75,535.65 L465.89,536.36 L466.03,537.06 L466.17,537.74 L466.31,538.40 L466.45,539.04 L466.59,539.66 L466.74,540.27 L466.88,540.85 L467.02,541.41 L467.16,541.95 L467.30,542.47 L467.44,542.97 L467.58,543.44 L467.72,543.90 L467.86,544.33 L468.00,544.74 L468.15,545.13 L468.29,545.49 L468.43,545.84 L468.57,546.16 L468.71,546.46 L468.85,546.73 L468.99,546.98 L469.13,547.21 L469.27,547.41 L469.41,547.59 L469.55,547.75 L469.70,547.88 L469.84,547.99 L469.98,548.08 L470.12,548.14 L470.26,548.18 L470.40,548.19 L470.54,548.18 L470.68,548.15 L470.82,548.09 L470.96,548.01 L471.10,547.91 L471.25,547.78 L471.39,547.62 L471.53,547.45 L471.67,547.25 L471.81,547.03 L471.95,546.78 L472.09,546.51 L472.23,546.22 L472.37,545.90 L472.51,545.56 L472.66,545.20 L472.80,544.82 L472.94,544.41 L473.08,543.99 L473.22,543.54 L473.36,543.07 L473.50,542.57 L473.64,542.06 L473.78,541.52 L473.92,540.97 L474.06,540.39 L474.21,539.80 L474.35,539.18 L474.49,538.55 L474.63,537.89 L474.77,537.22 L474.91,536.53 L475.05,535.82 L475.19,535.09 L475.33,534.34 L475.47,533.58 L475.61,532.80 L475.76,532.00 L475.90,531.19 L476.04,530.36 L476.18,529.52 L476.32,528.66 L476.46,527.78 L476.60,526.89 L476.74,525.99 L476.88,525.08 L477.02,524.15 L477.17,523.21 L477.31,522.25 L477.45,521.29 L477.59,520.31 L477.73,519.32 L477.87,518.33 L478.01,517.32 L478.15,516.30 L478.29,515.27 L478.43,514.24 L478.57,513.20 L478.72,512.14 L478.86,511.09 L479.00,510.02 L479.14,508.95 L479.28,507.87 L479.42,506.79 L479.56,505.70 L479.70,504.61 L479.84,503.52 L479.98,502.42 L480.12,501.32 L480.27,500.21 L480.41,499.11 L480.55,498.00 L480.69,496.89 L480.83,495.78 L480.97,494.67 L481.11,493.56 L481.25,492.45 L481.39,491.35 L481.53,490.25 L481.68,489.15 L481.82,488.05 L481.96,486.96 L482.10,485.87 L482.24,484.79 L482.38,483.72 L482.52,482.64 L482.66,481.58 L482.80,480.52 L482.94,479.46 L483.08,478.42 L483.23,477.38 L483.37,476.34 L483.51,475.32 L483.65,474.30 L483.79,473.29 L483.93,472.29 L484.07,471.30 L484.21,470.32 L484.35,469.35 L484.49,468.39 L484.63,467.43 L484.78,466.49 L484.92,465.56 L485.06,464.64 L485.20,463.73 L485.34,462.84 L485.48,461.95 L485.62,461.08 L485.76,460.22 L485.90,459.37 L486.04,458.54 L486.19,457.72 L486.33,456.91 L486.47,456.12 L486.61,455.34 L486.75,454.57 L486.89,453.82 L487.03,453.09 L487.17,452.37 L487.31,451.67 L487.45,450.98 L487.59,450.31 L487.74,449.65 L487.88,449.02 L488.02,448.39 L488.16,447.79 L488.30,447.20 L488.44,446.64 L488.58,446.09 L488.72,445.55 L488.86,445.04 L489.00,444.55 L489.14,444.07 L489.29,443.62 L489.43,443.18 L489.57,442.76 L489.71,442.37 L489.85,441.99 L489.99,441.64 L490.13,441.31 L490.27,440.99 L490.41,440.70 L490.55,440.44 L490.69,440.19 L490.84,439.97 L490.98,439.76 L491.12,439.59 L491.26,439.43 L491.40,439.30 L491.54,439.19 L491.68,439.10 L491.82,439.04 L491.96,439.01 L492.10,439.00 L492.25,439.01 L492.39,439.05 L492.53,439.11 L492.67,439.19 L492.81,439.31 L492.95,439.44 L493.09,439.60 L493.23,439.79 L493.37,440.00 L493.51,440.24 L493.65,440.50 L493.80,440.79 L493.94,441.10 L494.08,441.43 L494.22,441.79 L494.36,442.18 L494.50,442.59 L494.64,443.02 L494.78,443.48 L494.92,443.96 L495.06,444.47 L495.20,445.00 L495.35,445.55 L495.49,446.13 L495.63,446.73 L495.77,447.36 L495.91,448.00 L496.05,448.67 L496.19,449.37 L496.33,450.08 L496.47,450.82 L496.61,451.57 L496.76,452.35 L496.90,453.15 L497.04,453.97 L497.18,454.81 L497.32,455.68 L497.46,456.56 L497.60,457.46 L497.74,458.37 L497.88,459.31 L498.02,460.27 L498.16,461.24 L498.31,462.23 L498.45,463.24 L498.59,464.26 L498.73,465.31 L498.87,466.36 L499.01,467.43 L499.15,468.52 L499.29,469.62 L499.43,470.73 L499.57,471.86 L499.71,473.00 L499.86,474.15 L500.00,475.31 L500.14,476.48 L500.28,477.67 L500.42,478.86 L500.56,480.07 L500.70,481.28 L500.84,482.50 L500.98,483.73 L501.12,484.96 L501.27,486.20 L501.41,487.45 L501.55,488.70 L501.69,489.96 L501.83,491.22 L501.97,492.48 L502.11,493.75 L502.25,495.02 L502.39,496.29 L502.53,497.56 L502.67,498.83 L502.82,500.10 L502.96,501.37 L503.10,502.64 L503.24,503.91 L503.38,505.17 L503.52,506.43 L503.66,507.68 L503.80,508.93 L503.94,510.18 L504.08,511.42 L504.22,512.65 L504.37,513.87 L504.51,515.08 L504.65,516.29 L504.79,517.49 L504.93,518.67 L505.07,519.85 L505.21,521.01 L505.35,522.16 L505.49,523.30 L505.63,524.43 L505.78,525.54 L505.92,526.63 L506.06,527.72 L506.20,528.78 L506.34,529.83 L506.48,530.86 L506.62,531.88 L506.76,532.87 L506.90,533.85 L507.04,534.81 L507.18,535.75 L507.33,536.67 L507.47,537.57 L507.61,538.44 L507.75,539.30 L507.89,540.13 L508.03,540.94 L508.17,541.73 L508.31,542.49 L508.45,543.23 L508.59,543.94 L508.73,544.63 L508.88,545.29 L509.02,545.92 L509.16,546.53 L509.30,547.12 L509.44,547.67 L509.58,548.20 L509.72,548.70 L509.86,549.18 L510.00,549.62 L510.14,550.04 L510.29,550.42 L510.43,550.78 L510.57,551.11 L510.71,551.41 L510.85,551.67 L510.99,551.91 L511.13,552.12 L511.27,552.30 L511.41,552.44 L511.55,552.56 L511.69,552.64 L511.84,552.70 L511.98,552.72 L512.12,552.71 L512.26,552.67 L512.40,552.60 L512.54,552.49 L512.68,552.36 L512.82,552.20 L512.96,552.00 L513.10,551.77 L513.24,551.51 L513.39,551.22 L513.53,550.90 L513.67,550.55 L513.81,550.17 L513.95,549.76 L514.09,549.31 L514.23,548.84 L514.37,548.34 L514.51,547.80 L514.65,547.24 L514.79,546.65 L514.94,546.03 L515.08,545.38 L515.22,544.71 L515.36,544.00 L515.50,543.27 L515.64,542.51 L515.78,541.72 L515.92,540.91 L516.06,540.07 L516.20,539.20 L516.35,538.32 L516.49,537.40 L516.63,536.46 L516.77,535.50 L516.91,534.51 L517.05,533.50 L517.19,532.47 L517.33,531.42 L517.47,530.35 L517.61,529.25 L517.75,528.14 L517.90,527.01 L518.04,525.85 L518.18,524.68 L518.32,523.50 L518.46,522.29 L518.60,521.07 L518.74,519.83 L518.88,518.58 L519.02,517.32 L519.16,516.04 L519.30,514.74 L519.45,513.44 L519.59,512.12 L519.73,510.80 L519.87,509.46 L520.01,508.12 L520.15,506.76 L520.29,505.40 L520.43,504.03 L520.57,502.66 L520.71,501.28 L520.86,499.89 L521.00,498.50 L521.14,497.11 L521.28,495.72 L521.42,494.32 L521.56,492.92 L521.70,491.53 L521.84,490.13 L521.98,488.73 L522.12,487.33 L522.26,485.94 L522.41,484.55 L522.55,483.16 L522.69,481.78 L522.83,480.41 L522.97,479.03 L523.11,477.67 L523.25,476.32 L523.39,474.97 L523.53,473.63 L523.67,472.30 L523.81,470.99 L523.96,469.68 L524.10,468.39 L524.24,467.11 L524.38,465.84 L524.52,464.59 L524.66,463.36 L524.80,462.14 L524.94,460.93 L525.08,459.75 L525.22,458.58 L525.37,457.44 L525.51,456.31 L525.65,455.20 L525.79,454.11 L525.93,453.05 L526.07,452.01 L526.21,450.99 L526.35,449.99 L526.49,449.02 L526.63,448.08 L526.77,447.16 L526.92,446.27 L527.06,445.40 L527.20,444.56 L527.34,443.75 L527.48,442.97 L527.62,442.22 L527.76,441.50 L527.90,440.80 L528.04,440.14 L528.18,439.51 L528.32,438.92 L528.47,438.35 L528.61,437.82 L528.75,437.32 L528.89,436.85 L529.03,436.42 L529.17,436.02 L529.31,435.66 L529.45,435.33 L529.59,435.04 L529.73,434.78 L529.88,434.56 L530.02,434.37 L530.16,434.22 L530.30,434.11 L530.44,434.04 L530.58,434.00 L530.72,434.00 L530.86,434.04 L531.00,434.11 L531.14,434.23 L531.28,434.38 L531.43,434.56 L531.57,434.79 L531.71,435.05 L531.85,435.36 L531.99,435.69 L532.13,436.07 L532.27,436.48 L532.41,436.94 L532.55,437.42 L532.69,437.95 L532.83,438.51 L532.98,439.11 L533.12,439.74 L533.26,440.41 L533.40,441.11 L533.54,441.85 L533.68,442.62 L533.82,443.43 L533.96,444.27 L534.10,445.15 L534.24,446.06 L534.39,447.00 L534.53,447.97 L534.67,448.97 L534.81,450.01 L534.95,451.07 L535.09,452.17 L535.23,453.29 L535.37,454.44 L535.51,455.62 L535.65,456.82 L535.79,458.06 L535.94,459.31 L536.08,460.60 L536.22,461.90 L536.36,463.23 L536.50,464.58 L536.64,465.95 L536.78,467.35 L536.92,468.76 L537.06,470.19 L537.20,471.64 L537.34,473.11 L537.49,474.59 L537.63,476.09 L537.77,477.60 L537.91,479.13 L538.05,480.67 L538.19,482.22 L538.33,483.78 L538.47,485.35 L538.61,486.92 L538.75,488.51 L538.89,490.10 L539.04,491.70 L539.18,493.30 L539.32,494.90 L539.46,496.51 L539.60,498.11 L539.74,499.72 L539.88,501.32 L540.02,502.93 L540.16,504.52 L540.30,506.12 L540.45,507.71 L540.59,509.29 L540.73,510.86 L540.87,512.43 L541.01,513.98 L541.15,515.53 L541.29,517.06 L541.43,518.58 L541.57,520.08 L541.71,521.57 L541.85,523.05 L542.00,524.50 L542.14,525.94 L542.28,527.36 L542.42,528.75 L542.56,530.13 L542.70,531.48 L542.84,532.81 L542.98,534.12 L543.12,535.40 L543.26,536.65 L543.40,537.87 L543.55,539.07 L543.69,540.24 L543.83,541.38 L543.97,542.49 L544.11,543.56 L544.25,544.61 L544.39,545.62 L544.53,546.59 L544.67,547.53 L544.81,548.44 L544.96,549.31 L545.10,550.14 L545.24,550.93 L545.38,551.69 L545.52,552.41 L545.66,553.09 L545.80,553.73 L545.94,554.32 L546.08,554.88 L546.22,555.39 L546.36,555.87 L546.51,556.30 L546.65,556.69 L546.79,557.03 L546.93,557.33 L547.07,557.59 L547.21,557.80 L547.35,557.97 L547.49,558.10 L547.63,558.18 L547.77,558.21 L547.91,558.20 L548.06,558.14 L548.20,558.04 L548.34,557.90 L548.48,557.71 L548.62,557.47 L548.76,557.19 L548.90,556.87 L549.04,556.50 L549.18,556.08 L549.32,555.62 L549.47,555.12 L549.61,554.57 L549.75,553.98 L549.89,553.35 L550.03,552.67 L550.17,551.95 L550.31,551.19 L550.45,550.39 L550.59,549.55 L550.73,548.66 L550.87,547.74 L551.02,546.78 L551.16,545.77 L551.30,544.73 L551.44,543.66 L551.58,542.54 L551.72,541.39 L551.86,540.21 L552.00,538.99 L552.14,537.74 L552.28,536.45 L552.42,535.14 L552.57,533.79 L552.71,532.41 L552.85,531.00 L552.99,529.57 L553.13,528.11 L553.27,526.62 L553.41,525.10 L553.55,523.57 L553.69,522.01 L553.83,520.43 L553.98,518.82 L554.12,517.20 L554.26,515.56 L554.40,513.91 L554.54,512.23 L554.68,510.55 L554.82,508.84 L554.96,507.13 L555.10,505.41 L555.24,503.67 L555.38,501.93 L555.53,500.18 L555.67,498.42 L555.81,496.66 L555.95,494.89 L556.09,493.13 L556.23,491.36 L556.37,489.59 L556.51,487.82 L556.65,486.05 L556.79,484.29 L556.93,482.53 L557.08,480.78 L557.22,479.03 L557.36,477.29 L557.50,475.57 L557.64,473.85 L557.78,472.15 L557.92,470.46 L558.06,468.78 L558.20,467.13 L558.34,465.48 L558.49,463.86 L558.63,462.26 L558.77,460.68 L558.91,459.13 L559.05,457.59 L559.19,456.08 L559.33,454.60 L559.47,453.15 L559.61,451.72 L559.75,450.33 L559.89,448.96 L560.04,447.63 L560.18,446.33 L560.32,445.07 L560.46,443.84 L560.60,442.65 L560.74,441.49 L560.88,440.38 L561.02,439.30 L561.16,438.26 L561.30,437.27 L561.44,436.31 L561.59,435.40 L561.73,434.54 L561.87,433.72 L562.01,432.94 L562.15,432.21 L562.29,431.53 L562.43,430.90 L562.57,430.31 L562.71,429.78 L562.85,429.29 L562.99,428.86 L563.14,428.47 L563.28,428.14 L563.42,427.86 L563.56,427.63 L563.70,427.45 L563.84,427.33 L563.98,427.26 L564.12,427.24 L564.26,427.28 L564.40,427.37 L564.55,427.51 L564.69,427.71 L564.83,427.96 L564.97,428.26 L565.11,428.62 L565.25,429.03 L565.39,429.50 L565.53,430.01 L565.67,430.58 L565.81,431.20 L565.95,431.88 L566.10,432.60 L566.24,433.38 L566.38,434.20 L566.52,435.08 L566.66,436.01 L566.80,436.98 L566.94,438.01 L567.08,439.08 L567.22,440.20 L567.36,441.37 L567.50,442.58 L567.65,443.84 L567.79,445.15 L567.93,446.50 L568.07,447.89 L568.21,449.33 L568.35,450.81 L568.49,452.33 L568.63,453.89 L568.77,455.49 L568.91,457.13 L569.06,458.81 L569.20,460.52 L569.34,462.27 L569.48,464.05 L569.62,465.87 L569.76,467.71 L569.90,469.59 L570.04,471.50 L570.18,473.43 L570.32,475.40 L570.46,477.39 L570.61,479.40 L570.75,481.43 L570.89,483.49 L571.03,485.56 L571.17,487.65 L571.31,489.76 L571.45,491.88 L571.59,494.02 L571.73,496.17 L571.87,498.33 L572.01,500.51 L572.16,502.70 L572.30,504.89 L572.44,507.09 L572.58,509.29 L572.72,511.49 L572.86,513.69 L573.00,515.87 L573.14,518.05 L573.28,520.22 L573.42,522.37 L573.57,524.50 L573.71,526.61 L573.85,528.69 L573.99,530.74 L574.13,532.77 L574.27,534.76 L574.41,536.71 L574.55,538.62 L574.69,540.48 L574.83,542.30 L574.97,544.08 L575.12,545.80 L575.26,547.46 L575.40,549.07 L575.54,550.62 L575.68,552.12 L575.82,553.54 L575.96,554.91 L576.10,556.20 L576.24,557.43 L576.38,558.59 L576.52,559.68 L576.67,560.69 L576.81,561.63 L576.95,562.50 L577.09,563.29 L577.23,564.01 L577.37,564.65 L577.51,565.21 L577.65,565.70 L577.79,566.11 L577.93,566.44 L578.08,566.70 L578.22,566.88 L578.36,566.99 L578.50,567.03 L578.64,566.99 L578.78,566.88 L578.92,566.70 L579.06,566.45 L579.20,566.13 L579.34,565.75 L579.48,565.29 L579.63,564.78 L579.77,564.19 L579.91,563.54 L580.05,562.83 L580.19,562.06 L580.33,561.23 L580.47,560.33 L580.61,559.37 L580.75,558.36 L580.89,557.29 L581.03,556.16 L581.18,554.97 L581.32,553.73 L581.46,552.44 L581.60,551.09 L581.74,549.68 L581.88,548.23 L582.02,546.72 L582.16,545.17 L582.30,543.56 L582.44,541.91 L582.59,540.21 L582.73,538.46 L582.87,536.66 L583.01,534.83 L583.15,532.94 L583.29,531.02 L583.43,529.05 L583.57,527.04 L583.71,524.99 L583.85,522.91 L583.99,520.78 L584.14,518.62 L584.28,516.43 L584.42,514.20 L584.56,511.94 L584.70,509.65 L584.84,507.33 L584.98,504.98 L585.12,502.61 L585.26,500.21 L585.40,497.79 L585.54,495.35 L585.69,492.89 L585.83,490.42 L585.97,487.94 L586.11,485.46 L586.25,482.97 L586.39,480.49 L586.53,478.00 L586.67,475.53 L586.81,473.06 L586.95,470.60 L587.09,468.17 L587.24,465.75 L587.38,463.35 L587.52,460.98 L587.66,458.64 L587.80,456.33 L587.94,454.06 L588.08,451.82 L588.22,449.63 L588.36,447.48 L588.50,445.38 L588.65,443.34 L588.79,441.34 L588.93,439.41 L589.07,437.53 L589.21,435.72 L589.35,433.97 L589.49,432.29 L589.63,430.68 L589.77,429.15 L589.91,427.69 L590.05,426.31 L590.20,425.01 L590.34,423.79 L590.48,422.66 L590.62,421.62 L590.76,420.66 L590.90,419.79 L591.04,419.02 L591.18,418.33 L591.32,417.74 L591.46,417.25 L591.60,416.85 L591.75,416.55 L591.89,416.34 L592.03,416.24 L592.17,416.23 L592.31,416.32 L592.45,416.51 L592.59,416.80 L592.73,417.19 L592.87,417.68 L593.01,418.27 L593.16,418.96 L593.30,419.75 L593.44,420.64 L593.58,421.64 L593.72,422.73 L593.86,423.91 L594.00,425.20 L594.14,426.58 L594.28,428.06 L594.42,429.63 L594.56,431.30 L594.71,433.05 L594.85,434.90 L594.99,436.83 L595.13,438.86 L595.27,440.96 L595.41,443.15 L595.55,445.41 L595.69,447.76 L595.83,450.17 L595.97,452.66 L596.11,455.22 L596.26,457.85 L596.40,460.53 L596.54,463.28 L596.68,466.08 L596.82,468.94 L596.96,471.84 L597.10,474.79 L597.24,477.78 L597.38,480.81 L597.52,483.87 L597.67,486.96 L597.81,490.07 L597.95,493.21 L598.09,496.36 L598.23,499.51 L598.37,502.66 L598.51,505.82 L598.65,508.96 L598.79,512.09 L598.93,515.21 L599.07,518.31 L599.22,521.39 L599.36,524.43 L599.50,527.45 L599.64,530.43 L599.78,533.38 L599.92,536.27 L600.06,539.12 L600.20,541.92 L600.34,544.67 L600.48,547.35 L600.62,549.96 L600.77,552.51 L600.91,554.98 L601.05,557.38 L601.19,559.69 L601.33,561.91 L601.47,564.05 L601.61,566.08 L601.75,568.02 L601.89,569.85 L602.03,571.57 L602.18,573.18 L602.32,574.66 L602.46,576.03 L602.60,577.26 L602.74,578.37 L602.88,579.33 L603.02,580.16 L603.16,580.84 L603.30,581.38 L603.44,581.76 L603.58,581.98 L603.73,582.04 L603.87,581.94 L604.01,581.67 L604.15,581.23 L604.29,580.61 L604.43,579.81 L604.57,578.83 L604.71,577.67 L604.85,576.33 L604.99,574.81 L605.13,573.11 L605.28,571.23 L605.42,569.18 L605.56,566.95 L605.70,564.55 L605.84,561.98 L605.98,559.25 L606.12,556.37 L606.26,553.34 L606.40,550.16 L606.54,546.84 L606.69,543.39 L606.83,539.83 L606.97,536.14 L607.11,532.35 L607.25,528.47 L607.39,524.50 L607.53,520.45 L607.67,516.34 L607.81,512.16 L607.95,507.94 L608.09,503.68 L608.24,499.40 L608.38,495.10 L608.52,490.79 L608.66,486.49 L608.80,482.19 L608.94,477.92 L609.08,473.66 L609.22,469.44 L609.36,465.26 L609.50,461.12 L609.64,457.04 L609.79,453.01 L609.93,449.06 L610.07,445.18 L610.21,441.39 L610.35,437.69 L610.49,434.08 L610.63,430.59 L610.77,427.21 L610.91,423.95 L611.05,420.83 L611.20,417.85 L611.34,415.02 L611.48,412.35 L611.62,409.84 L611.76,407.51 L611.90,405.37 L612.04,403.42 L612.18,401.67 L612.32,400.14 L612.46,398.83 L612.60,397.75 L612.75,396.91 L612.89,396.32 L613.03,395.98 L613.17,395.91 L613.31,396.10 L613.45,396.56 L613.59,397.30 L613.73,398.32 L613.87,399.62 L614.01,401.21 L614.15,403.08 L614.30,405.23 L614.44,407.67 L614.58,410.39 L614.72,413.39 L614.86,416.67 L615.00,420.22 L615.14,424.03 L615.28,428.11 L615.42,432.44 L615.56,437.01 L615.70,441.82 L615.85,446.85 L615.99,452.09 L616.13,457.53 L616.27,463.15 L616.41,468.94 L616.55,474.88 L616.69,480.96 L616.83,487.14 L616.97,493.43 L617.11,499.79 L617.26,506.24 L617.40,512.73 L617.54,519.25 L617.68,525.77 L617.82,532.25 L617.96,538.67 L618.10,544.99 L618.24,551.18 L618.38,557.20 L618.52,563.03 L618.66,568.62 L618.81,573.96 L618.95,578.99 L619.09,583.70 L619.23,588.05 L619.37,592.02 L619.51,595.58 L619.65,598.70 L619.79,601.37 L619.93,603.56 L620.07,605.26 L620.21,606.46 L620.36,607.14 L620.50,607.30 L620.64,606.97 L620.78,606.15 L620.92,604.87 L621.06,603.12 L621.20,600.93 L621.34,598.29 L621.48,595.21 L621.62,591.69 L621.77,587.72 L621.91,583.29 L622.05,578.41 L622.19,573.05 L622.33,567.23 L622.47,560.92 L622.61,554.12 L622.75,546.83 L622.89,539.05 L623.03,530.78 L623.17,522.02 L623.32,512.81 L623.46,503.16 L623.60,493.11 L623.74,482.39 L623.88,470.99 L624.02,459.15 L624.16,447.14 L624.30,435.27 L624.44,423.83 L624.58,413.14 L624.72,403.45 L624.87,395.00 L625.01,387.98 L625.15,382.49 L625.29,378.57 L625.43,376.20 L625.57,375.28 L625.71,375.64 L625.85,377.17 L625.99,379.78 L626.13,383.38 L626.28,387.90 L626.42,393.26 L626.56,399.42 L626.70,406.30 L626.84,413.88 L626.98,422.10 L627.12,430.93 L627.26,440.34 L627.40,450.29 L627.54,460.73 L627.68,471.63 L627.83,482.94 L627.97,494.58 L628.11,506.32 L628.25,517.92 L628.39,529.23 L628.53,540.14 L628.67,550.52 L628.81,560.23 L628.95,569.17 L629.09,577.21 L629.23,584.24 L629.38,590.13 L629.52,594.78 L629.66,598.08 L629.80,599.93 L629.94,600.25 L630.08,598.89 L630.22,595.55 L630.36,590.09 L630.50,582.52 L630.64,573.04 L630.79,561.97 L630.93,549.73 L631.07,536.82 L631.21,523.74 L631.35,510.96 L631.49,498.91 L631.63,487.83 L631.77,477.50 L631.91,467.97 L632.05,459.27 L632.19,451.42 L632.34,444.43 L632.48,438.30 L632.62,433.04 L632.76,428.63 L632.90,425.08 L633.04,422.39 L633.18,420.55 L633.32,419.59 L633.46,419.50 L633.60,420.31 L633.74,421.98 L633.89,424.41 L634.03,427.56 L634.17,431.35 L634.31,435.74 L634.45,440.67 L634.59,446.10 L634.73,451.98 L634.87,458.27 L635.01,464.93 L635.15,471.90 L635.30,479.13 L635.44,486.53 L635.58,494.04 L635.72,501.57 L635.86,509.00 L636.00,516.12 L636.14,522.74 L636.28,528.68 L636.42,533.76 L636.56,537.86 L636.70,540.88 L636.85,542.77 L636.99,543.50 L637.13,543.12 L637.27,541.66 L637.41,539.11 L637.55,535.53 L637.69,531.06 L637.83,525.85 L637.97,520.12 L638.11,514.10 L638.25,508.01 L638.40,502.06 L638.54,496.42 L638.68,491.21 L638.82,486.38 L638.96,481.96 L639.10,478.00 L639.24,474.50 L639.38,471.48 L639.52,468.96 L639.66,466.92 L639.80,465.37 L639.95,464.31 L640.09,463.73 L640.23,463.62 L640.37,463.97 L640.51,464.74 L640.65,465.89 L640.79,467.36 L640.93,469.09 L641.07,471.07 L641.21,473.24 L641.36,475.58 L641.50,478.06 L641.64,480.66 L641.78,483.35 L641.92,486.11 L642.06,488.92 L642.20,491.74 L642.34,494.54 L642.48,497.29 L642.62,499.89 L642.76,502.29 L642.91,504.46 L643.05,506.35 L643.19,507.94 L643.33,509.22 L643.47,510.17 L643.61,510.80 L643.75,511.10 L643.89,511.10 L644.03,510.79 L644.17,510.15 L644.31,509.15 L644.46,507.79 L644.60,506.11 L644.74,504.14 L644.88,501.97 L645.02,499.68 L645.16,497.37 L645.30,495.11 L645.44,492.99 L645.58,490.99 L645.72,489.17 L645.87,487.56 L646.01,486.18 L646.15,485.05 L646.29,484.17 L646.43,483.53 L646.57,483.12 L646.71,482.92 L646.85,482.90 L646.99,483.05 L647.13,483.34 L647.27,483.76 L647.42,484.28 L647.56,484.89 L647.70,485.58 L647.84,486.33 L647.98,487.16 L648.12,488.04 L648.26,488.98 L648.40,489.98 L648.54,491.02 L648.68,492.11 L648.82,493.24 L648.97,494.40 L649.11,495.55 L649.25,496.66 L649.39,497.71 L649.53,498.67 L649.67,499.53 L649.81,500.28 L649.95,500.90 L650.09,501.37 L650.23,501.70 L650.38,501.87 L650.52,501.88 L650.66,501.74 L650.80,501.45 L650.94,501.03 L651.08,500.47 L651.22,499.81 L651.36,499.06 L651.50,498.23 L651.64,497.35 L651.78,496.45 L651.93,495.55 L652.07,494.68 L652.21,493.97 L652.35,493.34 L652.49,492.77 L652.63,492.27 L652.77,491.82 L652.91,491.45 L653.05,491.16 L653.19,490.93 L653.33,490.78 L653.48,490.71 L653.62,490.70 L653.76,490.76 L653.90,490.88 L654.04,491.06 L654.18,491.29 L654.32,491.55 L654.46,491.86 L654.60,492.19 L654.74,492.55 L654.89,492.92 L655.03,493.29 L655.17,493.67 L655.31,494.04 L655.45,494.40 L655.59,494.73 L655.73,495.05 L655.87,495.34 L656.01,495.60 L656.15,495.82 L656.29,496.01 L656.44,496.16 L656.58,496.28 L656.72,496.35 L656.86,496.40 L657.00,496.40 L657.14,496.38 L657.28,496.32 L657.42,496.23 L657.56,496.12 L657.70,495.99 L657.84,495.84 L657.99,495.67 L658.13,495.49 L658.27,495.31 L658.41,495.12 L658.55,494.93 L658.69,494.75 L658.83,494.57 L658.97,494.40 L659.11,494.24 L659.25,494.09 L659.40,493.96 L659.54,493.85 L659.68,493.75 L659.82,493.67 L659.96,493.62 L660.10,493.57 L660.24,493.55 L660.38,493.55 L660.52,493.56 L660.66,493.59 L660.80,493.63 L660.95,493.68 L661.09,493.75 L661.23,493.82 L661.37,493.91 L661.51,493.99 L661.65,494.09 L661.79,494.18 L661.93,494.27 L662.07,494.37 L662.21,494.46 L662.35,494.54 L662.50,494.62 L662.64,494.70 L662.78,494.76 L662.92,494.82 L663.06,494.87 L663.20,494.91 L663.34,494.94 L663.48,494.96 L663.62,494.97 L663.76,494.98 L663.90,494.97 L664.05,494.96 L664.19,494.94 L664.33,494.91 L664.47,494.88 L664.61,494.84 L664.75,494.80 L664.89,494.76 L665.03,494.71 L665.17,494.66 L665.31,494.62 L665.46,494.57 L665.60,494.53 L665.74,494.48 L665.88,494.44 L666.02,494.40 L666.16,494.37 L666.30,494.34 L666.44,494.32 L666.58,494.30 L666.72,494.28 L666.86,494.27 L667.01,494.26 L667.15,494.26 L667.29,494.26 L667.43,494.27 L667.57,494.28 L667.71,494.29 L667.85,494.31 L667.99,494.33 L668.13,494.35 L668.27,494.37 L668.41,494.39 L668.56,494.42 L668.70,494.44 L668.84,494.46 L668.98,494.49 L669.12,494.51 L669.26,494.53 L669.40,494.55 L669.54,494.56 L669.68,494.58 L669.82,494.59 L669.97,494.60 L670.11,494.61 L670.25,494.61 L670.39,494.62 L670.53,494.62 L670.67,494.62 L670.81,494.62 L670.95,494.61 L671.09,494.60 L671.23,494.60 L671.37,494.59 L671.52,494.58 L671.66,494.57 L671.80,494.56 L671.94,494.54 L672.08,494.53 L672.22,494.52 L672.36,494.51 L672.50,494.50 L672.64,494.49 L672.78,494.48 L672.92,494.47 L673.07,494.46 L673.21,494.46 L673.35,494.45 L673.49,494.45 L673.63,494.44 L673.77,494.44 L673.91,494.44 L674.05,494.44 L674.19,494.44 L674.33,494.44 L674.48,494.45 L674.62,494.45 L674.76,494.46 L674.90,494.46 L675.04,494.47 L675.18,494.47 L675.32,494.48 L675.46,494.48 L675.60,494.49 L675.74,494.50 L675.88,494.50 L676.03,494.51 L676.17,494.51 L676.31,494.52 L676.45,494.52 L676.59,494.52 L676.73,494.52 L676.87,494.53 L677.01,494.53 L677.15,494.53 L677.29,494.53 L677.43,494.53 L677.58,494.53 L677.72,494.53 L677.86,494.53 L678.00,494.52 L678.14,494.52 L678.28,494.52 L678.42,494.52 L678.56,494.51 L678.70,494.51 L678.84,494.51 L678.99,494.51 L679.13,494.50 L679.27,494.50 L679.41,494.50 L679.55,494.49 L679.69,494.49 L679.83,494.49 L679.97,494.49 L680.11,494.49 L680.25,494.49 L680.39,494.49 L680.54,494.49 L680.68,494.49 L680.82,494.49 L680.96,494.49 L681.10,494.49 L681.24,494.49 L681.38,494.49 L681.52,494.49 L681.66,494.49 L681.80,494.49 L681.94,494.49 L682.09,494.49 L682.23,494.50 L682.37,494.50 L682.51,494.50 L682.65,494.50 L682.79,494.50 L682.93,494.50 L683.07,494.50 L683.21,494.50 L683.35,494.51 L683.50,494.51 L683.64,494.51 L683.78,494.51 L683.92,494.51 L684.06,494.51 L684.20,494.51 L684.34,494.51 L684.48,494.51 L684.62,494.51 L684.76,494.51 L684.90,494.51" stroke="#dd8452" stroke-width="1.45" stroke-linecap="square"/>
</g>
<text x="49.80" y="643.10" font-family="Liberation Sans, Arial, sans-serif" stroke="#262626" stroke-width="0.25" font-size="17.0" fill="#262626" text-anchor="middle">−1.0</text>
<text x="165.25" y="643.10" font-family="Liberation Sans, Arial, sans-serif" stroke="#262626" stroke-width="0.25" font-size="17.0" fill="#262626" text-anchor="middle">−0.8</text>
<text x="280.71" y="643.10" font-family="Liberation Sans, Arial, sans-serif" stroke="#262626" stroke-width="0.25" font-size="17.0" fill="#262626" text-anchor="middle">−0.6</text>
<text x="396.16" y="643.10" font-family="Liberation Sans, Arial, sans-serif" stroke="#262626" stroke-width="0.25" font-size="17.0" fill="#262626" text-anchor="middle">−0.4</text>
<text x="511.62" y="643.10" font-family="Liberation Sans, Arial, sans-serif" stroke="#262626" stroke-width="0.25" font-size="17.0" fill="#262626" text-anchor="middle">−0.2</text>
<text x="627.07" y="643.10" font-family="Liberation Sans, Arial, sans-serif" stroke="#262626" stroke-width="0.25" font-size="17.0" fill="#262626" text-anchor="middle">0.0</text>
<text x="40.7" y="600.60" font-family="Liberation Sans, Arial, sans-serif" stroke="#262626" stroke-width="0.25" font-size="17.0" fill="#262626" text-anchor="end">−4</text>
<text x="40.7" y="550.60" font-family="Liberation Sans, Arial, sans-serif" stroke="#262626" stroke-width="0.25" font-size="17.0" fill="#262626" text-anchor="end">−2</text>
<text x="40.7" y="500.60" font-family="Liberation Sans, Arial, sans-serif" stroke="#262626" stroke-width="0.25" font-size="17.0" fill="#262626" text-anchor="end">0</text>
<text x="40.7" y="450.60" font-family="Liberation Sans, Arial, sans-serif" stroke="#262626" stroke-width="0.25" font-size="17.0" fill="#262626" text-anchor="end">2</text>
<text x="40.7" y="400.60" font-family="Liberation Sans, Arial, sans-serif" stroke="#262626" stroke-width="0.25" font-size="17.0" fill="#262626" text-anchor="end">4</text>
<text x="50.4" y="361.40" font-family="Liberation Sans, Arial, sans-serif" stroke="#262626" stroke-width="0.25" font-size="14.7" fill="#262626">1e−20</text>
<text x="367.80" y="357.60" font-family="Liberation Sans, Arial, sans-serif" stroke="#262626" stroke-width="0.25" font-size="22.7" fill="#262626" text-anchor="middle">100Mo | 100Mo | 50Mpc</text>
<text x="367.70" y="663.95" font-family="Liberation Sans, Arial, sans-serif" stroke="#262626" stroke-width="0.25" font-size="18.95" fill="#262626" text-anchor="middle">Time (sec)</text>
<text transform="translate(14.7,494.40) rotate(-90)" font-family="Liberation Sans, Arial, sans-serif" stroke="#262626" stroke-width="0.25" font-size="18.8" fill="#262626" text-anchor="middle">Strain</text>
<rect x="57.4" y="371.50" width="177.6" height="46.1" rx="3" ry="3" fill="#e2e2ea" fill-opacity="0.8" stroke="#cccccc" stroke-width="1.1"/>
<path d="M63.1,383.00 H93.4" stroke="#4c72b0" stroke-width="1.45" stroke-dasharray="5.3 2.3" fill="none"/>
<path d="M63,403.90 H94.2" stroke="#dd8452" stroke-width="1.45" fill="none"/>
<text x="106.2" y="387.80" font-family="Liberation Sans, Arial, sans-serif" stroke="#262626" stroke-width="0.25" font-size="15.25" fill="#262626">Plus Polarization</text>
<text x="106.2" y="408.80" font-family="Liberation Sans, Arial, sans-serif" stroke="#262626" stroke-width="0.25" font-size="15.25" fill="#262626">Cross Polarization</text>
</svg>
</body></html>
